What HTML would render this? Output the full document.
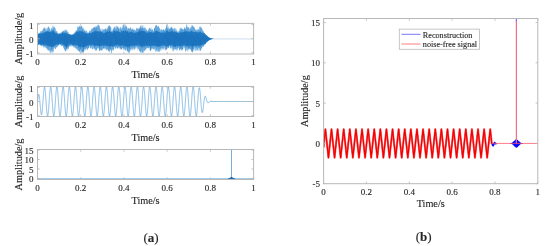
<!DOCTYPE html>
<html><head><meta charset="utf-8"><title>figure</title>
<style>
html,body{margin:0;padding:0;background:#fff;}
body{width:550px;height:246px;overflow:hidden;}
svg{display:block;filter:blur(0.3px);}
text{font-family:'Liberation Serif', 'Times New Roman', serif;fill:#262626;stroke:#262626;stroke-width:0.12px;}
</style></head>
<body>
<svg width="550" height="246" viewBox="0 0 550 246">
<rect width="550" height="246" fill="#fff"/>
<polygon points="37.5,33.5 37.9,32.9 38.3,32.8 38.7,33.7 39.1,33.4 39.5,32.0 39.9,34.5 40.3,31.5 40.7,31.1 41.1,31.4 41.5,31.4 41.9,31.1 42.3,30.8 42.7,29.7 43.1,29.1 43.5,28.8 43.9,27.4 44.3,27.8 44.7,28.1 45.1,26.9 45.5,29.5 45.9,29.6 46.3,27.5 46.7,30.4 47.1,30.4 47.5,27.3 47.9,27.4 48.3,25.9 48.7,27.0 49.1,27.6 49.5,27.9 49.9,29.1 50.3,31.3 50.7,29.7 51.1,27.7 51.5,29.1 51.9,27.6 52.3,30.3 52.7,24.5 53.1,27.5 53.5,27.3 53.9,25.4 54.3,27.4 54.7,26.9 55.1,28.2 55.5,28.6 55.9,31.7 56.3,30.6 56.7,31.3 57.1,31.3 57.5,33.0 57.9,32.9 58.3,34.4 58.7,33.5 59.1,33.7 59.5,34.3 59.9,33.0 60.3,33.8 60.7,32.6 61.1,32.7 61.5,32.2 61.9,31.6 62.3,31.0 62.7,32.2 63.1,30.6 63.5,31.2 63.9,30.5 64.3,31.8 64.7,28.9 65.1,31.0 65.5,29.4 65.9,30.5 66.3,29.2 66.7,30.3 67.1,32.5 67.5,31.1 67.9,31.6 68.3,32.2 68.7,33.4 69.1,34.6 69.5,34.6 69.9,33.6 70.3,34.3 70.7,35.1 71.1,34.2 71.5,34.7 71.9,34.5 72.3,34.6 72.7,34.3 73.1,34.4 73.5,34.9 73.9,32.7 74.3,33.1 74.7,32.2 75.1,32.0 75.5,30.1 75.9,32.3 76.3,29.7 76.7,31.2 77.1,29.7 77.5,26.1 77.9,26.7 78.3,27.4 78.7,26.7 79.1,25.2 79.5,27.0 79.9,25.7 80.3,25.5 80.7,27.1 81.1,26.5 81.5,25.8 81.9,25.5 82.3,28.9 82.7,25.9 83.1,31.2 83.5,27.4 83.9,27.8 84.3,30.8 84.7,29.9 85.1,29.3 85.5,32.9 85.9,30.5 86.3,30.4 86.7,31.3 87.1,31.2 87.5,32.7 87.9,33.1 88.3,32.5 88.7,32.8 89.1,32.0 89.5,30.3 89.9,30.8 90.3,31.2 90.7,31.2 91.1,28.9 91.5,29.9 91.9,28.0 92.3,28.9 92.7,28.5 93.1,27.1 93.5,27.4 93.9,27.7 94.3,28.1 94.7,26.3 95.1,27.8 95.5,25.8 95.9,29.5 96.3,27.0 96.7,26.3 97.1,24.5 97.5,27.2 97.9,24.4 98.3,24.6 98.7,25.1 99.1,26.0 99.5,25.5 99.9,28.3 100.3,28.6 100.7,30.0 101.1,31.5 101.5,30.4 101.9,28.2 102.3,28.5 102.7,31.2 103.1,29.3 103.5,29.8 103.9,29.4 104.3,29.1 104.7,30.1 105.1,27.9 105.5,29.1 105.9,28.4 106.3,28.2 106.7,29.8 107.1,30.4 107.5,28.0 107.9,26.4 108.3,25.8 108.7,25.7 109.1,28.5 109.5,24.8 109.9,25.7 110.3,25.9 110.7,27.6 111.1,26.9 111.5,31.0 111.9,31.6 112.3,31.6 112.7,29.5 113.1,29.1 113.5,29.1 113.9,26.9 114.3,29.7 114.7,25.9 115.1,28.0 115.5,25.6 115.9,29.8 116.3,27.5 116.7,25.3 117.1,26.8 117.5,26.1 117.9,26.8 118.3,27.1 118.7,29.2 119.1,27.6 119.5,30.7 119.9,27.3 120.3,27.1 120.7,27.0 121.1,30.2 121.5,27.9 121.9,27.5 122.3,28.5 122.7,25.2 123.1,24.2 123.5,26.4 123.9,24.1 124.3,24.5 124.7,27.9 125.1,24.8 125.5,24.5 125.9,27.7 126.3,26.1 126.7,26.3 127.1,26.9 127.5,29.9 127.9,27.7 128.3,28.3 128.7,28.3 129.1,28.1 129.5,29.5 129.9,27.9 130.3,27.3 130.7,27.0 131.1,29.6 131.5,30.8 131.9,27.7 132.3,29.7 132.7,28.6 133.1,27.8 133.5,29.7 133.9,30.5 134.3,29.9 134.7,29.1 135.1,31.1 135.5,29.6 135.9,30.6 136.3,28.3 136.7,27.6 137.1,28.9 137.5,28.6 137.9,27.7 138.3,28.9 138.7,28.4 139.1,27.7 139.5,26.8 139.9,28.9 140.3,25.3 140.7,25.8 141.1,26.9 141.5,28.5 141.9,24.5 142.3,27.7 142.7,27.7 143.1,27.9 143.5,28.6 143.9,25.0 144.3,28.0 144.7,28.3 145.1,26.8 145.5,28.0 145.9,30.2 146.3,29.6 146.7,28.9 147.1,30.8 147.5,30.4 147.9,32.3 148.3,29.5 148.7,28.8 149.1,28.1 149.5,27.9 149.9,28.4 150.3,29.9 150.7,27.5 151.1,27.2 151.5,29.8 151.9,29.9 152.3,29.3 152.7,29.2 153.1,29.4 153.5,31.5 153.9,30.7 154.3,27.9 154.7,27.8 155.1,27.0 155.5,25.5 155.9,25.1 156.3,25.1 156.7,25.1 157.1,26.5 157.5,25.5 157.9,28.1 158.3,25.9 158.7,26.3 159.1,26.8 159.5,28.2 159.9,28.8 160.3,28.9 160.7,31.4 161.1,28.2 161.5,29.4 161.9,30.1 162.3,29.9 162.7,29.7 163.1,30.7 163.5,29.3 163.9,28.8 164.3,30.1 164.7,31.1 165.1,28.6 165.5,27.8 165.9,29.9 166.3,26.4 166.7,24.8 167.1,23.8 167.5,28.1 167.9,28.8 168.3,25.2 168.7,29.3 169.1,29.3 169.5,27.9 169.9,28.6 170.3,27.3 170.7,29.3 171.1,26.2 171.5,28.6 171.9,26.0 172.3,29.3 172.7,26.9 173.1,30.1 173.5,28.3 173.9,28.6 174.3,27.5 174.7,28.8 175.1,31.2 175.5,28.0 175.9,28.5 176.3,28.8 176.7,31.0 177.1,30.7 177.5,31.6 177.9,32.3 178.3,32.8 178.7,30.1 179.1,31.2 179.5,30.4 179.9,27.3 180.3,28.0 180.7,28.9 181.1,26.9 181.5,28.9 181.9,28.1 182.3,29.5 182.7,28.9 183.1,29.0 183.5,29.6 183.9,29.7 184.3,27.9 184.7,27.0 185.1,29.2 185.5,29.0 185.9,28.7 186.3,24.2 186.7,24.6 187.1,27.8 187.5,25.1 187.9,28.5 188.3,27.3 188.7,27.6 189.1,26.5 189.5,30.3 189.9,28.1 190.3,26.6 190.7,29.3 191.1,27.8 191.5,26.3 191.9,24.5 192.3,25.4 192.7,25.5 193.1,26.2 193.5,26.7 193.9,26.7 194.3,27.6 194.7,27.8 195.1,29.6 195.5,30.5 195.9,28.7 196.3,31.0 196.7,28.9 197.1,30.0 197.5,30.3 197.9,28.1 198.3,30.4 198.7,28.5 199.1,30.2 199.5,26.3 199.9,27.1 200.3,25.9 200.7,28.1 201.1,26.8 201.5,27.8 201.9,28.7 202.3,28.7 202.7,30.7 203.1,31.4 203.5,31.3 203.9,31.5 204.3,33.1 204.7,32.9 205.1,34.3 205.5,34.0 205.9,34.2 206.3,35.8 206.7,35.1 207.1,36.6 207.5,35.7 207.9,36.5 208.3,36.9 208.7,37.1 209.1,37.5 209.5,37.6 209.9,38.1 210.3,38.0 210.7,38.2 211.1,38.4 211.5,38.6 211.9,38.6 212.3,38.6 212.7,38.7 213.1,38.8 213.5,38.8 213.9,38.9 214.3,38.9 214.7,38.9 215.1,38.9 215.5,38.9 215.9,38.9 216.3,38.9 216.7,38.9 217.1,38.9 217.5,38.9 217.9,38.9 218.3,38.9 218.7,38.9 219.1,38.9 219.5,38.9 219.9,38.9 220.3,38.9 220.7,38.9 221.1,38.9 221.5,38.9 221.9,38.9 222.3,38.9 222.7,38.9 223.1,38.9 223.5,38.9 223.9,38.9 224.3,38.9 224.7,38.9 225.1,38.9 225.5,38.9 225.9,38.9 226.3,38.9 226.7,38.9 227.1,38.9 227.5,38.9 227.9,38.9 228.3,38.9 228.7,38.9 229.1,38.9 229.5,38.9 229.9,38.9 230.3,38.9 230.7,38.9 231.1,38.9 231.5,38.9 231.9,38.9 232.3,38.9 232.7,38.9 233.1,38.9 233.5,38.9 233.9,38.9 234.3,38.9 234.7,38.9 235.1,38.9 235.5,38.9 235.9,38.9 236.3,38.9 236.7,38.9 237.1,38.9 237.5,38.9 237.9,38.9 238.3,38.9 238.7,38.9 239.1,38.9 239.5,38.9 239.9,38.9 240.3,38.9 240.7,38.9 241.1,38.9 241.5,38.9 241.9,38.9 242.3,38.9 242.7,38.9 243.1,38.9 243.5,38.9 243.9,38.9 244.3,38.9 244.7,38.9 245.1,38.9 245.5,38.9 245.9,38.9 246.3,38.9 246.7,38.9 247.1,38.9 247.5,38.9 247.9,38.9 248.3,38.9 248.7,38.9 249.1,38.9 249.5,38.9 249.9,38.9 250.3,38.9 250.7,38.9 251.1,38.9 251.5,38.9 251.9,38.9 252.3,38.9 252.7,38.9 253.1,38.9 253.5,38.9 253.5,38.9 253.1,38.9 252.7,38.9 252.3,38.9 251.9,38.9 251.5,38.9 251.1,38.9 250.7,38.9 250.3,38.9 249.9,38.9 249.5,38.9 249.1,38.9 248.7,38.9 248.3,38.9 247.9,38.9 247.5,38.9 247.1,38.9 246.7,38.9 246.3,38.9 245.9,38.9 245.5,38.9 245.1,38.9 244.7,38.9 244.3,38.9 243.9,38.9 243.5,38.9 243.1,38.9 242.7,38.9 242.3,38.9 241.9,38.9 241.5,38.9 241.1,38.9 240.7,38.9 240.3,38.9 239.9,38.9 239.5,38.9 239.1,38.9 238.7,38.9 238.3,38.9 237.9,38.9 237.5,38.9 237.1,38.9 236.7,38.9 236.3,38.9 235.9,38.9 235.5,38.9 235.1,38.9 234.7,38.9 234.3,38.9 233.9,38.9 233.5,38.9 233.1,38.9 232.7,38.9 232.3,38.9 231.9,38.9 231.5,38.9 231.1,38.9 230.7,38.9 230.3,38.9 229.9,38.9 229.5,38.9 229.1,38.9 228.7,38.9 228.3,38.9 227.9,38.9 227.5,38.9 227.1,38.9 226.7,38.9 226.3,38.9 225.9,38.9 225.5,38.9 225.1,38.9 224.7,38.9 224.3,38.9 223.9,38.9 223.5,38.9 223.1,38.9 222.7,38.9 222.3,38.9 221.9,38.9 221.5,38.9 221.1,38.9 220.7,38.9 220.3,38.9 219.9,38.9 219.5,38.9 219.1,38.9 218.7,38.9 218.3,38.9 217.9,38.9 217.5,38.9 217.1,38.9 216.7,38.9 216.3,38.9 215.9,38.9 215.5,38.9 215.1,38.9 214.7,38.9 214.3,38.9 213.9,38.9 213.5,39.0 213.1,39.0 212.7,39.1 212.3,39.1 211.9,39.2 211.5,39.3 211.1,39.4 210.7,39.5 210.3,39.7 209.9,40.1 209.5,40.2 209.1,40.1 208.7,40.7 208.3,40.8 207.9,41.3 207.5,41.5 207.1,42.0 206.7,41.5 206.3,42.5 205.9,42.4 205.5,44.2 205.1,44.3 204.7,43.6 204.3,45.6 203.9,47.0 203.5,46.5 203.1,46.0 202.7,48.1 202.3,45.5 201.9,49.5 201.5,47.8 201.1,49.8 200.7,50.8 200.3,50.7 199.9,51.2 199.5,49.6 199.1,48.1 198.7,47.8 198.3,50.9 197.9,50.7 197.5,49.0 197.1,50.9 196.7,50.7 196.3,47.8 195.9,50.6 195.5,51.7 195.1,47.3 194.7,47.7 194.3,49.9 193.9,51.6 193.5,49.5 193.1,49.9 192.7,52.4 192.3,52.6 191.9,51.6 191.5,52.1 191.1,49.4 190.7,50.3 190.3,46.8 189.9,49.8 189.5,48.7 189.1,48.7 188.7,50.4 188.3,48.5 187.9,51.4 187.5,51.3 187.1,47.6 186.7,49.1 186.3,50.8 185.9,51.6 185.5,51.3 185.1,50.5 184.7,47.7 184.3,46.9 183.9,49.8 183.5,45.8 183.1,48.8 182.7,49.5 182.3,50.3 181.9,50.9 181.5,50.1 181.1,49.1 180.7,48.2 180.3,50.5 179.9,50.1 179.5,50.3 179.1,50.5 178.7,47.3 178.3,48.5 177.9,48.6 177.5,50.9 177.1,48.4 176.7,48.4 176.3,51.6 175.9,49.4 175.5,48.6 175.1,50.6 174.7,48.4 174.3,50.5 173.9,48.7 173.5,51.1 173.1,51.6 172.7,51.3 172.3,48.5 171.9,46.2 171.5,49.6 171.1,47.5 170.7,48.2 170.3,49.3 169.9,45.6 169.5,46.1 169.1,47.9 168.7,47.7 168.3,47.3 167.9,50.1 167.5,47.5 167.1,47.2 166.7,50.0 166.3,49.6 165.9,50.7 165.5,49.9 165.1,49.3 164.7,46.5 164.3,49.7 163.9,49.9 163.5,49.1 163.1,48.1 162.7,50.5 162.3,48.0 161.9,48.5 161.5,48.3 161.1,51.5 160.7,48.1 160.3,51.5 159.9,49.3 159.5,51.9 159.1,52.3 158.7,51.5 158.3,50.8 157.9,52.2 157.5,51.3 157.1,48.4 156.7,51.9 156.3,50.2 155.9,51.9 155.5,51.4 155.1,48.3 154.7,48.6 154.3,50.3 153.9,48.9 153.5,48.8 153.1,49.9 152.7,48.5 152.3,48.5 151.9,48.5 151.5,48.6 151.1,51.0 150.7,50.8 150.3,50.5 149.9,50.7 149.5,47.2 149.1,47.5 148.7,48.5 148.3,48.0 147.9,47.8 147.5,47.8 147.1,48.9 146.7,48.1 146.3,48.5 145.9,50.4 145.5,48.9 145.1,51.1 144.7,51.5 144.3,50.2 143.9,49.6 143.5,52.6 143.1,52.9 142.7,53.2 142.3,51.8 141.9,53.3 141.5,49.9 141.1,53.4 140.7,52.2 140.3,52.2 139.9,51.4 139.5,50.7 139.1,50.7 138.7,47.7 138.3,50.1 137.9,50.6 137.5,46.4 137.1,49.8 136.7,47.9 136.3,46.7 135.9,46.9 135.5,49.9 135.1,47.2 134.7,49.5 134.3,50.4 133.9,47.4 133.5,49.1 133.1,50.0 132.7,47.8 132.3,50.8 131.9,50.0 131.5,49.5 131.1,48.2 130.7,49.3 130.3,51.6 129.9,50.3 129.5,53.1 129.1,53.4 128.7,51.9 128.3,53.1 127.9,51.5 127.5,50.5 127.1,52.5 126.7,50.6 126.3,48.1 125.9,50.0 125.5,51.1 125.1,50.0 124.7,50.3 124.3,48.4 123.9,48.8 123.5,47.4 123.1,48.9 122.7,47.9 122.3,48.0 121.9,49.5 121.5,49.9 121.1,49.1 120.7,47.6 120.3,50.1 119.9,46.0 119.5,49.4 119.1,47.7 118.7,49.1 118.3,46.5 117.9,48.6 117.5,49.0 117.1,47.4 116.7,46.5 116.3,47.9 115.9,48.9 115.5,48.4 115.1,48.4 114.7,47.3 114.3,47.1 113.9,51.1 113.5,50.2 113.1,49.3 112.7,50.6 112.3,48.8 111.9,53.8 111.5,53.4 111.1,50.1 110.7,50.4 110.3,49.1 109.9,52.8 109.5,52.3 109.1,48.7 108.7,51.0 108.3,51.2 107.9,50.5 107.5,49.6 107.1,49.0 106.7,49.4 106.3,50.4 105.9,49.6 105.5,47.6 105.1,50.0 104.7,49.2 104.3,47.3 103.9,48.5 103.5,48.9 103.1,47.7 102.7,49.4 102.3,50.4 101.9,50.0 101.5,50.8 101.1,50.5 100.7,49.5 100.3,50.7 99.9,50.4 99.5,51.4 99.1,50.2 98.7,47.6 98.3,48.1 97.9,49.4 97.5,47.2 97.1,49.2 96.7,51.5 96.3,50.0 95.9,50.1 95.5,51.4 95.1,49.0 94.7,47.5 94.3,50.3 93.9,48.7 93.5,49.0 93.1,45.7 92.7,49.5 92.3,49.4 91.9,48.5 91.5,46.2 91.1,48.9 90.7,47.9 90.3,48.9 89.9,46.3 89.5,45.9 89.1,48.1 88.7,48.6 88.3,47.8 87.9,50.2 87.5,50.1 87.1,48.4 86.7,49.8 86.3,47.8 85.9,48.9 85.5,49.8 85.1,49.8 84.7,48.9 84.3,50.8 83.9,50.9 83.5,52.0 83.1,54.0 82.7,52.7 82.3,51.6 81.9,53.6 81.5,50.8 81.1,53.1 80.7,53.8 80.3,48.5 79.9,51.3 79.5,52.2 79.1,51.9 78.7,50.2 78.3,51.1 77.9,50.4 77.5,50.3 77.1,48.3 76.7,49.9 76.3,48.4 75.9,48.7 75.5,47.4 75.1,48.0 74.7,48.1 74.3,46.4 73.9,45.4 73.5,47.7 73.1,46.9 72.7,44.7 72.3,46.6 71.9,45.1 71.5,47.0 71.1,45.0 70.7,46.5 70.3,45.3 69.9,47.1 69.5,46.1 69.1,46.4 68.7,48.5 68.3,49.5 67.9,47.6 67.5,48.7 67.1,51.4 66.7,47.2 66.3,50.4 65.9,51.7 65.5,50.9 65.1,51.3 64.7,48.9 64.3,50.6 63.9,48.7 63.5,47.7 63.1,46.7 62.7,46.0 62.3,45.2 61.9,45.9 61.5,46.4 61.1,46.0 60.7,44.7 60.3,45.0 59.9,45.3 59.5,43.4 59.1,45.3 58.7,45.0 58.3,45.8 57.9,46.7 57.5,46.2 57.1,46.9 56.7,47.3 56.3,47.5 55.9,48.8 55.5,49.1 55.1,49.3 54.7,46.3 54.3,48.7 53.9,48.0 53.5,51.8 53.1,52.6 52.7,50.1 52.3,53.3 51.9,52.6 51.5,52.7 51.1,48.8 50.7,52.3 50.3,52.9 49.9,52.8 49.5,49.3 49.1,52.0 48.7,50.3 48.3,50.0 47.9,50.5 47.5,48.4 47.1,50.6 46.7,48.5 46.3,47.7 45.9,48.8 45.5,46.0 45.1,48.4 44.7,46.9 44.3,46.8 43.9,45.4 43.5,48.6 43.1,46.6 42.7,45.9 42.3,45.6 41.9,45.3 41.5,46.7 41.1,46.0 40.7,44.8 40.3,45.7 39.9,45.3 39.5,44.6 39.1,44.7 38.7,45.2 38.3,45.0 37.9,44.6 37.5,44.4" fill="#62a6dc"/>
<polygon points="37.5,33.9 37.9,33.7 38.3,34.0 38.7,34.0 39.1,34.1 39.5,33.3 39.9,33.1 40.3,34.1 40.7,33.0 41.1,33.6 41.5,33.5 41.9,33.3 42.3,32.6 42.7,32.9 43.1,32.8 43.5,32.9 43.9,32.5 44.3,31.8 44.7,32.8 45.1,32.1 45.5,31.8 45.9,32.6 46.3,32.2 46.7,31.2 47.1,31.0 47.5,31.1 47.9,32.1 48.3,31.2 48.7,31.8 49.1,32.3 49.5,31.9 49.9,31.3 50.3,31.4 50.7,32.2 51.1,32.7 51.5,31.2 51.9,30.8 52.3,31.3 52.7,31.4 53.1,30.8 53.5,30.8 53.9,31.4 54.3,31.9 54.7,32.3 55.1,32.5 55.5,33.1 55.9,33.1 56.3,32.3 56.7,34.0 57.1,33.2 57.5,33.4 57.9,34.1 58.3,33.9 58.7,34.5 59.1,33.8 59.5,33.8 59.9,33.8 60.3,34.2 60.7,33.6 61.1,33.3 61.5,33.6 61.9,33.2 62.3,33.6 62.7,32.4 63.1,32.7 63.5,32.2 63.9,33.1 64.3,32.0 64.7,33.3 65.1,32.6 65.5,33.3 65.9,33.1 66.3,32.4 66.7,33.7 67.1,33.4 67.5,33.9 67.9,33.1 68.3,34.5 68.7,34.4 69.1,34.0 69.5,34.2 69.9,34.3 70.3,34.5 70.7,35.3 71.1,34.9 71.5,35.1 71.9,34.8 72.3,34.6 72.7,35.0 73.1,34.9 73.5,33.8 73.9,33.9 74.3,34.3 74.7,34.4 75.1,33.3 75.5,33.6 75.9,32.3 76.3,32.6 76.7,31.6 77.1,32.5 77.5,31.7 77.9,32.2 78.3,31.1 78.7,31.3 79.1,31.7 79.5,30.5 79.9,30.9 80.3,31.4 80.7,30.7 81.1,31.5 81.5,30.7 81.9,31.8 82.3,30.8 82.7,32.3 83.1,31.5 83.5,32.3 83.9,32.3 84.3,32.2 84.7,33.3 85.1,33.2 85.5,33.5 85.9,32.7 86.3,33.6 86.7,33.3 87.1,33.7 87.5,33.9 87.9,33.0 88.3,33.6 88.7,33.2 89.1,33.0 89.5,32.7 89.9,33.5 90.3,33.6 90.7,32.9 91.1,33.2 91.5,33.3 91.9,31.8 92.3,32.1 92.7,32.3 93.1,32.6 93.5,31.6 93.9,31.8 94.3,32.3 94.7,31.0 95.1,31.0 95.5,30.9 95.9,31.0 96.3,31.3 96.7,31.6 97.1,30.9 97.5,31.6 97.9,30.8 98.3,31.5 98.7,31.8 99.1,31.0 99.5,31.8 99.9,31.5 100.3,31.6 100.7,31.7 101.1,32.2 101.5,31.9 101.9,32.2 102.3,31.8 102.7,31.9 103.1,33.3 103.5,32.9 103.9,32.8 104.3,32.9 104.7,32.9 105.1,31.8 105.5,33.0 105.9,32.7 106.3,31.8 106.7,32.5 107.1,32.3 107.5,31.1 107.9,31.2 108.3,31.6 108.7,31.9 109.1,31.5 109.5,30.5 109.9,31.0 110.3,32.2 110.7,31.5 111.1,32.2 111.5,31.8 111.9,32.7 112.3,32.8 112.7,32.8 113.1,32.2 113.5,31.2 113.9,31.0 114.3,31.1 114.7,30.8 115.1,31.6 115.5,31.4 115.9,30.7 116.3,30.6 116.7,31.5 117.1,31.1 117.5,30.9 117.9,30.9 118.3,32.0 118.7,31.5 119.1,32.0 119.5,32.0 119.9,32.1 120.3,32.4 120.7,32.7 121.1,31.4 121.5,31.3 121.9,30.8 122.3,31.7 122.7,31.4 123.1,30.7 123.5,30.2 123.9,31.0 124.3,31.4 124.7,30.8 125.1,30.3 125.5,30.5 125.9,30.5 126.3,31.4 126.7,31.8 127.1,31.1 127.5,31.4 127.9,31.5 128.3,32.4 128.7,32.7 129.1,32.7 129.5,31.7 129.9,31.5 130.3,32.3 130.7,31.4 131.1,32.1 131.5,32.0 131.9,31.9 132.3,32.5 132.7,32.6 133.1,32.7 133.5,32.8 133.9,32.5 134.3,33.2 134.7,32.1 135.1,32.9 135.5,32.5 135.9,32.1 136.3,32.8 136.7,32.3 137.1,32.0 137.5,31.9 137.9,31.2 138.3,31.3 138.7,32.2 139.1,31.0 139.5,31.3 139.9,31.0 140.3,31.7 140.7,31.2 141.1,30.8 141.5,30.5 141.9,30.5 142.3,31.3 142.7,30.4 143.1,30.9 143.5,30.8 143.9,30.7 144.3,31.6 144.7,31.0 145.1,31.3 145.5,31.6 145.9,32.4 146.3,32.4 146.7,33.2 147.1,32.5 147.5,32.5 147.9,33.5 148.3,32.4 148.7,32.2 149.1,33.0 149.5,31.5 149.9,31.9 150.3,32.0 150.7,32.4 151.1,31.5 151.5,32.3 151.9,32.3 152.3,32.9 152.7,32.5 153.1,33.0 153.5,32.2 153.9,32.2 154.3,31.9 154.7,32.4 155.1,32.5 155.5,31.0 155.9,30.7 156.3,31.0 156.7,30.5 157.1,30.8 157.5,31.0 157.9,31.4 158.3,31.7 158.7,31.6 159.1,32.2 159.5,32.0 159.9,32.0 160.3,32.9 160.7,32.4 161.1,32.7 161.5,32.3 161.9,32.1 162.3,32.6 162.7,32.6 163.1,32.7 163.5,33.1 163.9,32.9 164.3,32.1 164.7,31.9 165.1,32.9 165.5,33.1 165.9,31.3 166.3,31.0 166.7,31.0 167.1,30.4 167.5,30.9 167.9,30.6 168.3,31.8 168.7,31.7 169.1,31.5 169.5,32.4 169.9,31.7 170.3,32.3 170.7,31.5 171.1,31.3 171.5,31.7 171.9,30.7 172.3,31.2 172.7,31.0 173.1,32.3 173.5,32.3 173.9,31.5 174.3,31.3 174.7,32.0 175.1,31.7 175.5,33.1 175.9,31.9 176.3,32.1 176.7,32.6 177.1,33.0 177.5,32.7 177.9,33.5 178.3,32.7 178.7,32.5 179.1,32.5 179.5,32.7 179.9,32.8 180.3,32.3 180.7,31.1 181.1,32.1 181.5,32.5 181.9,32.4 182.3,32.1 182.7,32.2 183.1,31.9 183.5,32.1 183.9,31.7 184.3,31.6 184.7,32.1 185.1,32.3 185.5,30.8 185.9,31.7 186.3,30.9 186.7,31.5 187.1,30.8 187.5,31.8 187.9,31.6 188.3,32.0 188.7,31.2 189.1,31.7 189.5,31.5 189.9,31.9 190.3,32.0 190.7,30.8 191.1,30.9 191.5,30.8 191.9,30.3 192.3,31.1 192.7,31.9 193.1,31.4 193.5,32.0 193.9,31.8 194.3,32.0 194.7,32.0 195.1,31.6 195.5,31.9 195.9,32.6 196.3,32.1 196.7,32.1 197.1,32.4 197.5,32.5 197.9,31.8 198.3,32.3 198.7,32.7 199.1,32.3 199.5,31.6 199.9,31.8 200.3,31.6 200.7,31.7 201.1,32.3 201.5,32.7 201.9,33.1 202.3,32.4 202.7,33.2 203.1,33.3 203.5,32.7 203.9,33.4 204.3,33.3 204.7,33.6 205.1,33.9 205.5,35.0 205.9,34.7 206.3,35.1 206.7,35.5 207.1,35.8 207.5,36.2 207.9,36.6 208.3,36.9 208.7,37.3 209.1,37.6 209.5,37.7 209.9,37.9 210.3,38.1 210.7,38.3 211.1,38.4 211.5,38.5 211.9,38.6 212.3,38.7 212.7,38.7 213.1,38.8 213.5,38.8 213.9,38.9 214.3,38.9 214.7,38.9 215.1,38.9 215.5,38.9 215.9,38.9 216.3,38.9 216.7,38.9 217.1,38.9 217.5,38.9 217.9,38.9 218.3,38.9 218.7,38.9 219.1,38.9 219.5,38.9 219.9,38.9 220.3,38.9 220.7,38.9 221.1,38.9 221.5,38.9 221.9,38.9 222.3,38.9 222.7,38.9 223.1,38.9 223.5,38.9 223.9,38.9 224.3,38.9 224.7,38.9 225.1,38.9 225.5,38.9 225.9,38.9 226.3,38.9 226.7,38.9 227.1,38.9 227.5,38.9 227.9,38.9 228.3,38.9 228.7,38.9 229.1,38.9 229.5,38.9 229.9,38.9 230.3,38.9 230.7,38.9 231.1,38.9 231.5,38.9 231.9,38.9 232.3,38.9 232.7,38.9 233.1,38.9 233.5,38.9 233.9,38.9 234.3,38.9 234.7,38.9 235.1,38.9 235.5,38.9 235.9,38.9 236.3,38.9 236.7,38.9 237.1,38.9 237.5,38.9 237.9,38.9 238.3,38.9 238.7,38.9 239.1,38.9 239.5,38.9 239.9,38.9 240.3,38.9 240.7,38.9 241.1,38.9 241.5,38.9 241.9,38.9 242.3,38.9 242.7,38.9 243.1,38.9 243.5,38.9 243.9,38.9 244.3,38.9 244.7,38.9 245.1,38.9 245.5,38.9 245.9,38.9 246.3,38.9 246.7,38.9 247.1,38.9 247.5,38.9 247.9,38.9 248.3,38.9 248.7,38.9 249.1,38.9 249.5,38.9 249.9,38.9 250.3,38.9 250.7,38.9 251.1,38.9 251.5,38.9 251.9,38.9 252.3,38.9 252.7,38.9 253.1,38.9 253.5,38.9 253.5,38.9 253.1,38.9 252.7,38.9 252.3,38.9 251.9,38.9 251.5,38.9 251.1,38.9 250.7,38.9 250.3,38.9 249.9,38.9 249.5,38.9 249.1,38.9 248.7,38.9 248.3,38.9 247.9,38.9 247.5,38.9 247.1,38.9 246.7,38.9 246.3,38.9 245.9,38.9 245.5,38.9 245.1,38.9 244.7,38.9 244.3,38.9 243.9,38.9 243.5,38.9 243.1,38.9 242.7,38.9 242.3,38.9 241.9,38.9 241.5,38.9 241.1,38.9 240.7,38.9 240.3,38.9 239.9,38.9 239.5,38.9 239.1,38.9 238.7,38.9 238.3,38.9 237.9,38.9 237.5,38.9 237.1,38.9 236.7,38.9 236.3,38.9 235.9,38.9 235.5,38.9 235.1,38.9 234.7,38.9 234.3,38.9 233.9,38.9 233.5,38.9 233.1,38.9 232.7,38.9 232.3,38.9 231.9,38.9 231.5,38.9 231.1,38.9 230.7,38.9 230.3,38.9 229.9,38.9 229.5,38.9 229.1,38.9 228.7,38.9 228.3,38.9 227.9,38.9 227.5,38.9 227.1,38.9 226.7,38.9 226.3,38.9 225.9,38.9 225.5,38.9 225.1,38.9 224.7,38.9 224.3,38.9 223.9,38.9 223.5,38.9 223.1,38.9 222.7,38.9 222.3,38.9 221.9,38.9 221.5,38.9 221.1,38.9 220.7,38.9 220.3,38.9 219.9,38.9 219.5,38.9 219.1,38.9 218.7,38.9 218.3,38.9 217.9,38.9 217.5,38.9 217.1,38.9 216.7,38.9 216.3,38.9 215.9,38.9 215.5,38.9 215.1,38.9 214.7,38.9 214.3,38.9 213.9,38.9 213.5,39.0 213.1,39.0 212.7,39.1 212.3,39.1 211.9,39.2 211.5,39.3 211.1,39.4 210.7,39.5 210.3,39.7 209.9,39.9 209.5,40.1 209.1,40.2 208.7,40.5 208.3,40.8 207.9,41.2 207.5,41.5 207.1,41.8 206.7,42.3 206.3,42.8 205.9,43.2 205.5,43.7 205.1,43.9 204.7,44.5 204.3,44.0 203.9,44.9 203.5,43.9 203.1,44.7 202.7,45.2 202.3,44.6 201.9,44.7 201.5,45.5 201.1,45.1 200.7,45.3 200.3,46.2 199.9,46.4 199.5,46.1 199.1,45.4 198.7,45.8 198.3,46.4 197.9,45.3 197.5,45.0 197.1,47.0 196.7,46.3 196.3,46.6 195.9,46.8 195.5,45.7 195.1,46.1 194.7,45.6 194.3,45.3 193.9,46.1 193.5,46.4 193.1,45.7 192.7,46.2 192.3,47.1 191.9,46.3 191.5,46.2 191.1,46.5 190.7,45.4 190.3,45.8 189.9,46.0 189.5,45.7 189.1,46.0 188.7,45.6 188.3,46.1 187.9,46.2 187.5,45.9 187.1,46.7 186.7,45.7 186.3,45.7 185.9,45.5 185.5,46.7 185.1,45.4 184.7,45.0 184.3,45.3 183.9,46.1 183.5,45.6 183.1,45.0 182.7,45.6 182.3,46.2 181.9,46.2 181.5,46.3 181.1,45.6 180.7,46.4 180.3,45.8 179.9,46.7 179.5,45.8 179.1,45.9 178.7,46.3 178.3,45.6 177.9,45.6 177.5,45.3 177.1,46.5 176.7,45.6 176.3,46.1 175.9,46.8 175.5,46.8 175.1,46.5 174.7,47.1 174.3,47.2 173.9,45.8 173.5,46.9 173.1,46.4 172.7,46.3 172.3,45.2 171.9,45.4 171.5,45.7 171.1,45.0 170.7,45.2 170.3,46.0 169.9,44.8 169.5,45.4 169.1,46.1 168.7,45.7 168.3,45.4 167.9,45.2 167.5,46.0 167.1,46.8 166.7,46.3 166.3,46.4 165.9,46.7 165.5,46.1 165.1,45.7 164.7,45.9 164.3,45.2 163.9,44.7 163.5,45.8 163.1,46.1 162.7,45.4 162.3,46.1 161.9,45.6 161.5,45.3 161.1,46.4 160.7,46.1 160.3,46.2 159.9,45.8 159.5,46.5 159.1,46.2 158.7,46.6 158.3,47.1 157.9,46.6 157.5,46.6 157.1,46.5 156.7,46.5 156.3,46.3 155.9,46.3 155.5,46.9 155.1,45.6 154.7,46.6 154.3,45.6 153.9,45.3 153.5,46.0 153.1,45.8 152.7,46.4 152.3,45.6 151.9,45.7 151.5,45.5 151.1,46.1 150.7,45.4 150.3,46.2 149.9,46.1 149.5,46.5 149.1,45.9 148.7,45.3 148.3,46.0 147.9,44.8 147.5,45.8 147.1,45.9 146.7,45.7 146.3,46.0 145.9,45.2 145.5,46.4 145.1,45.8 144.7,46.2 144.3,46.2 143.9,45.5 143.5,46.1 143.1,46.6 142.7,47.1 142.3,47.2 141.9,46.9 141.5,46.1 141.1,46.5 140.7,46.7 140.3,46.2 139.9,46.1 139.5,45.6 139.1,46.8 138.7,45.6 138.3,45.6 137.9,45.9 137.5,45.8 137.1,44.9 136.7,46.0 136.3,44.8 135.9,45.5 135.5,44.9 135.1,45.5 134.7,44.8 134.3,46.2 133.9,46.2 133.5,45.0 133.1,46.2 132.7,45.7 132.3,46.1 131.9,45.2 131.5,45.9 131.1,46.6 130.7,45.9 130.3,46.1 129.9,46.0 129.5,46.6 129.1,47.5 128.7,46.3 128.3,47.6 127.9,47.1 127.5,47.0 127.1,46.7 126.7,46.9 126.3,45.8 125.9,46.6 125.5,47.0 125.1,45.5 124.7,46.2 124.3,45.9 123.9,45.7 123.5,46.0 123.1,45.2 122.7,45.1 122.3,46.3 121.9,45.6 121.5,45.8 121.1,45.9 120.7,46.3 120.3,44.9 119.9,46.0 119.5,44.9 119.1,45.4 118.7,45.7 118.3,45.0 117.9,44.5 117.5,44.7 117.1,44.9 116.7,45.1 116.3,45.4 115.9,45.4 115.5,45.4 115.1,45.6 114.7,46.1 114.3,46.2 113.9,46.6 113.5,46.1 113.1,45.9 112.7,47.0 112.3,46.7 111.9,46.3 111.5,46.1 111.1,46.6 110.7,46.1 110.3,46.4 109.9,46.8 109.5,46.3 109.1,46.6 108.7,46.8 108.3,45.6 107.9,46.5 107.5,45.8 107.1,45.8 106.7,46.2 106.3,46.6 105.9,45.6 105.5,45.6 105.1,44.9 104.7,45.6 104.3,46.0 103.9,46.0 103.5,45.4 103.1,45.5 102.7,45.0 102.3,46.2 101.9,45.5 101.5,46.6 101.1,45.6 100.7,46.4 100.3,46.6 99.9,45.3 99.5,46.4 99.1,46.2 98.7,45.4 98.3,45.6 97.9,45.2 97.5,46.5 97.1,45.7 96.7,45.7 96.3,45.3 95.9,46.3 95.5,46.2 95.1,45.6 94.7,45.9 94.3,46.0 93.9,45.3 93.5,45.1 93.1,45.6 92.7,44.9 92.3,44.6 91.9,45.4 91.5,45.7 91.1,45.0 90.7,44.9 90.3,45.7 89.9,44.7 89.5,45.0 89.1,44.5 88.7,45.2 88.3,45.0 87.9,44.9 87.5,45.9 87.1,45.5 86.7,46.4 86.3,46.0 85.9,45.6 85.5,46.9 85.1,47.2 84.7,47.2 84.3,47.3 83.9,47.1 83.5,47.0 83.1,47.2 82.7,47.2 82.3,47.4 81.9,47.4 81.5,46.8 81.1,46.8 80.7,46.9 80.3,46.2 79.9,46.3 79.5,47.3 79.1,47.1 78.7,46.4 78.3,45.7 77.9,45.3 77.5,45.8 77.1,45.0 76.7,45.7 76.3,45.3 75.9,45.1 75.5,45.6 75.1,45.3 74.7,44.8 74.3,45.4 73.9,44.5 73.5,45.4 73.1,44.9 72.7,45.0 72.3,44.5 71.9,44.6 71.5,43.9 71.1,44.0 70.7,44.0 70.3,44.0 69.9,44.3 69.5,44.5 69.1,44.9 68.7,44.5 68.3,46.1 67.9,45.8 67.5,45.4 67.1,45.4 66.7,46.8 66.3,47.0 65.9,46.8 65.5,46.6 65.1,45.9 64.7,45.8 64.3,45.9 63.9,44.8 63.5,44.7 63.1,45.6 62.7,45.1 62.3,44.3 61.9,43.8 61.5,43.6 61.1,44.1 60.7,44.4 60.3,43.5 59.9,44.2 59.5,44.4 59.1,43.4 58.7,44.2 58.3,44.9 57.9,44.8 57.5,44.2 57.1,45.1 56.7,44.4 56.3,44.4 55.9,45.4 55.5,45.1 55.1,45.6 54.7,45.5 54.3,45.8 53.9,46.2 53.5,46.7 53.1,46.5 52.7,47.3 52.3,46.8 51.9,46.6 51.5,46.5 51.1,46.9 50.7,46.9 50.3,46.1 49.9,46.1 49.5,46.5 49.1,46.9 48.7,45.5 48.3,46.4 47.9,45.6 47.5,45.5 47.1,45.5 46.7,46.0 46.3,45.0 45.9,46.2 45.5,44.7 45.1,44.7 44.7,44.6 44.3,45.9 43.9,45.6 43.5,44.5 43.1,44.8 42.7,44.4 42.3,44.4 41.9,44.4 41.5,44.4 41.1,44.9 40.7,44.2 40.3,44.9 39.9,44.1 39.5,43.9 39.1,44.6 38.7,44.2 38.3,44.2 37.9,43.0 37.5,43.8" fill="#1f78c2"/>
<polyline points="37.5,33.5 37.6,40.9 37.8,36.5 37.9,37.5 38.1,38.0 38.2,37.8 38.4,39.0 38.5,35.0 38.7,37.4 38.8,38.0 39.0,35.7 39.1,36.6 39.3,37.7 39.4,38.0 39.6,34.2 39.7,37.5 39.9,39.1 40.0,41.3 40.2,39.9 40.3,41.9 40.5,38.6 40.6,38.1 40.8,45.1 40.9,38.8 41.1,36.8 41.2,38.3 41.4,41.9 41.5,34.5 41.7,41.1 41.8,42.9 42.0,42.5 42.1,38.9 42.3,35.1 42.4,34.4 42.6,38.1 42.7,43.1 42.9,41.2 43.0,42.1 43.2,39.5 43.3,45.3 43.5,38.4 43.6,36.2 43.8,39.5 43.9,36.9 44.1,42.5 44.2,44.5 44.4,41.4 44.5,33.8 44.7,34.3 44.8,40.7 45.0,33.5 45.1,40.2 45.3,32.1 45.4,36.7 45.6,40.8 45.7,35.2 45.9,42.2 46.0,42.9 46.2,45.2 46.3,37.7 46.5,39.1 46.6,39.2 46.8,40.7 46.9,32.0 47.1,40.8 47.2,42.2 47.4,32.8 47.5,31.9 47.7,37.2 47.8,47.2 48.0,41.8 48.1,35.9 48.3,38.8 48.4,31.3 48.6,45.7 48.7,35.6 48.9,42.1 49.0,32.6 49.2,39.3 49.3,34.0 49.5,42.3 49.6,46.3 49.8,44.7 49.9,42.1 50.1,44.3 50.2,33.4 50.4,32.8 50.5,37.7 50.7,44.5 50.8,39.5 51.0,42.7 51.1,32.3 51.3,37.4 51.4,36.6 51.6,41.1 51.7,50.2 51.9,43.3 52.0,45.2 52.2,37.0 52.3,38.4 52.5,43.3 52.6,41.0 52.8,30.1 52.9,44.0 53.1,43.7 53.2,40.1 53.4,42.4 53.5,41.0 53.7,36.1 53.8,29.9 54.0,47.2 54.1,39.0 54.3,38.7 54.4,39.3 54.6,39.7 54.7,40.3 54.9,34.4 55.0,40.8 55.2,39.4 55.3,38.9 55.5,38.5 55.6,39.6 55.8,35.0 55.9,38.9 56.1,38.3 56.2,39.1 56.4,42.4 56.5,41.8 56.7,42.5 56.8,38.3 57.0,41.2 57.1,42.3 57.3,38.2 57.4,37.5 57.6,44.2 57.7,34.7 57.9,38.8 58.0,39.2 58.2,36.3 58.3,38.7 58.5,40.6 58.6,33.6 58.8,41.9 58.9,39.2 59.1,36.9 59.2,41.8 59.4,39.2 59.5,38.0 59.7,33.3 59.8,41.2 60.0,39.0 60.1,37.4 60.3,38.7 60.4,41.8 60.6,38.0 60.7,38.6 60.9,37.8 61.0,36.0 61.2,36.3 61.3,37.8 61.5,38.0 61.6,42.2 61.8,39.3 61.9,38.2 62.1,40.2 62.2,38.6 62.4,41.7 62.5,33.8 62.7,31.6 62.8,40.3 63.0,37.5 63.1,39.8 63.3,34.3 63.4,37.3 63.6,38.6 63.7,39.8 63.9,38.4 64.0,43.2 64.2,36.4 64.3,42.1 64.5,36.9 64.6,38.4 64.8,34.8 64.9,39.0 65.1,35.0 65.2,43.3 65.4,36.6 65.5,40.0 65.7,38.1 65.8,38.6 66.0,35.3 66.1,49.0 66.3,37.7 66.4,46.5 66.6,34.6 66.7,49.0 66.9,44.0 67.0,47.2 67.2,33.7 67.3,45.0 67.5,38.6 67.6,41.3 67.8,46.9 67.9,40.4 68.1,37.1 68.2,39.7 68.4,36.6 68.5,40.3 68.7,38.9 68.8,40.4 69.0,38.1 69.1,34.8 69.3,38.1 69.4,38.5 69.6,40.9 69.7,41.3 69.9,35.9 70.0,42.2 70.2,41.6 70.3,39.2 70.5,40.2 70.6,35.2 70.8,46.2 70.9,38.2 71.1,37.6 71.2,42.4 71.4,40.9 71.5,38.2 71.7,36.0 71.8,41.9 72.0,44.0 72.1,37.1 72.3,36.0 72.4,40.0 72.6,46.2 72.7,35.9 72.9,39.6 73.0,36.5 73.2,39.0 73.3,40.2 73.5,40.4 73.6,35.5 73.8,35.5 73.9,46.3 74.1,42.2 74.2,34.5 74.4,40.2 74.5,43.8 74.7,38.9 74.8,39.3 75.0,39.3 75.1,40.7 75.3,40.1 75.4,40.7 75.6,37.7 75.7,42.1 75.9,40.1 76.0,39.5 76.2,33.6 76.3,37.3 76.5,39.4 76.6,36.5 76.8,37.1 76.9,33.9 77.1,36.5 77.2,30.4 77.4,32.5 77.5,39.1 77.7,40.8 77.8,34.6 78.0,36.3 78.1,39.4 78.3,46.1 78.4,47.9 78.6,37.1 78.7,34.9 78.9,34.7 79.0,45.5 79.2,33.4 79.3,41.7 79.5,36.8 79.6,36.6 79.8,43.3 79.9,42.2 80.1,50.4 80.2,44.0 80.4,49.0 80.5,36.6 80.7,38.6 80.8,34.1 81.0,37.0 81.1,42.5 81.3,37.1 81.4,41.1 81.6,35.8 81.7,37.3 81.9,44.7 82.0,38.9 82.2,38.6 82.3,40.7 82.5,34.4 82.6,30.4 82.8,41.1 82.9,41.0 83.1,52.0 83.2,39.6 83.4,41.4 83.5,51.2 83.7,37.6 83.8,36.3 84.0,43.0 84.1,41.0 84.3,44.2 84.4,35.8 84.6,47.1 84.7,40.6 84.9,31.4 85.0,38.7 85.2,37.2 85.3,39.7 85.5,44.9 85.6,39.1 85.8,37.5 85.9,44.0 86.1,37.7 86.2,34.7 86.4,35.4 86.5,46.4 86.7,43.5 86.8,46.4 87.0,35.6 87.1,37.0 87.3,36.8 87.4,42.8 87.6,44.0 87.7,38.7 87.9,38.6 88.0,42.5 88.2,38.5 88.3,37.0 88.5,38.2 88.6,43.1 88.8,47.4 88.9,39.9 89.1,38.4 89.2,39.9 89.4,40.5 89.5,41.5 89.7,36.5 89.8,39.1 90.0,38.5 90.1,42.6 90.3,41.3 90.4,38.3 90.6,42.8 90.7,43.8 90.9,40.2 91.0,34.4 91.2,38.2 91.3,33.3 91.5,39.4 91.6,40.1 91.8,44.4 91.9,41.2 92.1,32.9 92.2,37.5 92.4,35.8 92.5,35.8 92.7,38.9 92.8,39.7 93.0,38.4 93.1,35.9 93.3,36.8 93.4,36.7 93.6,38.2 93.7,42.3 93.9,40.0 94.0,43.1 94.2,34.2 94.3,48.4 94.5,39.9 94.6,27.4 94.8,40.5 94.9,44.2 95.1,39.0 95.2,32.5 95.4,39.7 95.5,35.8 95.7,38.4 95.8,40.7 96.0,26.6 96.1,38.5 96.3,41.5 96.4,41.2 96.6,36.9 96.7,36.7 96.9,34.7 97.0,38.1 97.2,45.7 97.3,36.0 97.5,40.3 97.6,40.2 97.8,45.8 97.9,41.6 98.1,42.3 98.2,39.1 98.4,45.6 98.5,38.6 98.7,38.2 98.8,44.1 99.0,41.8 99.1,42.9 99.3,34.2 99.4,50.2 99.6,40.5 99.7,46.8 99.9,41.0 100.0,34.9 100.2,41.9 100.3,38.3 100.5,43.0 100.6,30.5 100.8,35.0 100.9,34.2 101.1,45.3 101.2,44.2 101.4,34.5 101.5,39.8 101.7,40.1 101.8,37.5 102.0,44.7 102.1,35.8 102.3,38.8 102.4,37.0 102.6,41.9 102.7,36.9 102.9,42.0 103.0,35.1 103.2,34.4 103.3,35.3 103.5,36.9 103.6,36.4 103.8,48.7 103.9,35.6 104.1,40.0 104.2,38.5 104.4,40.1 104.5,44.8 104.7,41.2 104.8,36.2 105.0,33.1 105.1,41.6 105.3,42.8 105.4,32.8 105.6,42.8 105.7,30.0 105.9,38.7 106.0,42.9 106.2,34.6 106.3,31.5 106.5,45.5 106.6,32.0 106.8,40.2 106.9,32.1 107.1,40.7 107.2,46.4 107.4,36.5 107.5,34.5 107.7,28.7 107.8,30.4 108.0,35.4 108.1,40.1 108.3,41.5 108.4,40.4 108.6,43.1 108.7,40.3 108.9,51.1 109.0,37.9 109.2,39.0 109.3,25.8 109.5,34.8 109.6,41.4 109.8,35.9 109.9,45.4 110.1,42.1 110.2,48.9 110.4,31.8 110.5,36.0 110.7,45.3 110.8,39.2 111.0,34.5 111.1,36.6 111.3,37.2 111.4,43.7 111.6,42.5 111.7,38.5 111.9,35.0 112.0,43.6 112.2,45.2 112.3,34.0 112.5,44.0 112.6,34.1 112.8,37.8 112.9,34.9 113.1,30.8 113.2,35.7 113.4,35.2 113.5,43.3 113.7,42.2 113.8,35.7 114.0,31.1 114.1,31.8 114.3,26.9 114.4,37.3 114.6,37.8 114.7,33.5 114.9,38.8 115.0,39.2 115.2,43.1 115.3,33.6 115.5,43.2 115.6,36.2 115.8,44.5 115.9,33.1 116.1,43.0 116.2,34.5 116.4,45.1 116.5,40.6 116.7,32.8 116.8,42.0 117.0,38.6 117.1,40.7 117.3,47.7 117.4,37.4 117.6,36.7 117.7,43.1 117.9,36.1 118.0,42.0 118.2,42.8 118.3,38.9 118.5,41.6 118.6,27.9 118.8,45.1 118.9,35.4 119.1,34.3 119.2,47.0 119.4,46.0 119.5,36.3 119.7,40.9 119.8,37.2 120.0,33.8 120.1,40.5 120.3,43.5 120.4,49.3 120.6,38.0 120.7,42.9 120.9,37.4 121.0,37.8 121.2,45.0 121.3,30.4 121.5,33.5 121.6,34.6 121.8,44.2 121.9,40.7 122.1,41.4 122.2,40.8 122.4,44.0 122.5,36.5 122.7,37.6 122.8,36.8 123.0,41.2 123.1,31.5 123.3,37.8 123.4,50.2 123.6,41.9 123.7,39.2 123.9,33.4 124.0,40.3 124.2,40.1 124.3,42.1 124.5,35.2 124.6,41.1 124.8,41.9 124.9,42.6 125.1,35.8 125.2,41.6 125.4,47.4 125.5,35.5 125.7,42.5 125.8,36.9 126.0,36.9 126.1,32.4 126.3,33.3 126.4,41.9 126.6,39.8 126.7,45.8 126.9,30.5 127.0,36.7 127.2,32.1 127.3,40.6 127.5,50.1 127.6,31.8 127.8,38.5 127.9,38.3 128.1,38.7 128.2,36.1 128.4,36.6 128.5,47.9 128.7,34.4 128.8,41.9 129.0,41.5 129.1,31.6 129.3,35.0 129.4,40.7 129.6,48.8 129.7,38.2 129.9,36.5 130.0,39.3 130.2,45.3 130.3,42.9 130.5,45.2 130.6,37.9 130.8,35.2 130.9,34.2 131.1,42.4 131.2,37.8 131.4,36.3 131.5,41.3 131.7,39.6 131.8,29.2 132.0,38.0 132.1,35.0 132.3,40.9 132.4,38.7 132.6,46.6 132.7,39.0 132.9,33.8 133.0,30.1 133.2,33.9 133.3,36.1 133.5,38.7 133.6,41.5 133.8,39.6 133.9,36.5 134.1,42.3 134.2,35.3 134.4,43.1 134.5,46.5 134.7,43.2 134.8,46.0 135.0,44.7 135.1,34.3 135.3,39.7 135.4,38.0 135.6,34.1 135.7,33.6 135.9,41.0 136.0,33.2 136.2,37.3 136.3,38.9 136.5,37.0 136.6,44.8 136.8,42.1 136.9,39.3 137.1,36.2 137.2,40.5 137.4,39.4 137.5,34.4 137.7,32.3 137.8,35.3 138.0,32.9 138.1,40.7 138.3,40.3 138.4,37.3 138.6,40.3 138.7,41.3 138.9,30.6 139.0,39.9 139.2,43.7 139.3,36.4 139.5,29.3 139.6,38.5 139.8,32.4 139.9,41.2 140.1,41.5 140.2,42.5 140.4,39.7 140.5,28.9 140.7,45.1 140.8,29.9 141.0,44.4 141.1,40.2 141.3,34.2 141.4,35.4 141.6,37.3 141.7,48.1 141.9,36.8 142.0,44.7 142.2,25.2 142.3,40.1 142.5,37.8 142.6,45.4 142.8,41.6 142.9,45.9 143.1,33.4 143.2,40.3 143.4,35.8 143.5,42.4 143.7,41.4 143.8,32.0 144.0,43.7 144.1,47.8 144.3,36.8 144.4,44.4 144.6,41.0 144.7,34.5 144.9,42.7 145.0,34.8 145.2,42.0 145.3,32.1 145.5,33.0 145.6,41.0 145.8,39.8 145.9,42.5 146.1,38.1 146.2,34.2 146.4,45.0 146.5,35.3 146.7,44.3 146.8,42.4 147.0,46.0 147.1,31.3 147.3,38.7 147.4,38.1 147.6,41.5 147.7,35.3 147.9,47.1 148.0,38.8 148.2,30.8 148.3,40.5 148.5,38.8 148.6,36.3 148.8,42.3 148.9,38.8 149.1,34.9 149.2,38.1 149.4,37.3 149.5,40.5 149.7,37.5 149.8,38.6 150.0,32.0 150.1,35.4 150.3,40.1 150.4,50.6 150.6,35.4 150.7,35.3 150.9,43.3 151.0,48.4 151.2,44.3 151.3,34.7 151.5,43.9 151.6,41.0 151.8,38.0 151.9,33.7 152.1,39.0 152.2,39.4 152.4,41.4 152.5,32.5 152.7,34.8 152.8,39.3 153.0,45.0 153.1,42.3 153.3,36.8 153.4,42.1 153.6,35.4 153.7,37.5 153.9,37.7 154.0,36.2 154.2,36.8 154.3,42.9 154.5,40.4 154.6,28.4 154.8,44.7 154.9,41.2 155.1,33.8 155.2,39.7 155.4,43.0 155.5,45.6 155.7,36.2 155.8,33.6 156.0,31.5 156.1,38.6 156.3,33.3 156.4,44.3 156.6,38.0 156.7,42.5 156.9,38.0 157.0,34.8 157.2,33.0 157.3,44.3 157.5,32.0 157.6,41.5 157.8,44.6 157.9,39.8 158.1,47.1 158.2,38.9 158.4,37.4 158.5,40.0 158.7,36.2 158.8,40.7 159.0,38.9 159.1,46.8 159.3,38.7 159.4,43.5 159.6,41.3 159.7,39.4 159.9,38.0 160.0,47.4 160.2,46.9 160.3,40.4 160.5,36.9 160.6,37.4 160.8,35.1 160.9,33.5 161.1,36.8 161.2,39.0 161.4,43.7 161.5,43.2 161.7,41.0 161.8,37.9 162.0,38.0 162.1,38.9 162.3,39.6 162.4,36.5 162.6,38.1 162.7,37.8 162.9,37.8 163.0,41.2 163.2,43.3 163.3,37.1 163.5,37.3 163.6,39.8 163.8,40.6 163.9,30.2 164.1,42.0 164.2,39.8 164.4,37.9 164.5,43.7 164.7,38.4 164.8,31.7 165.0,35.1 165.1,36.3 165.3,36.5 165.4,38.4 165.6,34.9 165.7,39.6 165.9,40.9 166.0,38.4 166.2,34.5 166.3,37.2 166.5,35.4 166.6,49.1 166.8,32.2 166.9,25.4 167.1,31.2 167.2,40.5 167.4,43.1 167.5,37.4 167.7,43.6 167.8,35.0 168.0,41.3 168.1,33.9 168.3,31.9 168.4,47.9 168.6,37.4 168.7,41.9 168.9,44.8 169.0,41.4 169.2,39.8 169.3,34.1 169.5,44.8 169.6,34.2 169.8,29.9 169.9,36.2 170.1,36.4 170.2,39.0 170.4,43.6 170.5,36.4 170.7,37.1 170.8,35.4 171.0,27.4 171.1,35.4 171.3,36.8 171.4,31.2 171.6,44.7 171.7,43.9 171.9,40.6 172.0,41.8 172.2,35.3 172.3,40.3 172.5,29.8 172.6,31.0 172.8,34.9 172.9,40.7 173.1,35.8 173.2,34.9 173.4,44.2 173.5,37.2 173.7,35.5 173.8,37.9 174.0,31.6 174.1,33.3 174.3,43.3 174.4,38.3 174.6,43.4 174.7,36.4 174.9,43.7 175.0,35.0 175.2,37.3 175.3,34.9 175.5,39.7 175.6,46.9 175.8,31.8 175.9,39.8 176.1,33.5 176.2,37.2 176.4,36.3 176.5,32.0 176.7,37.6 176.8,33.7 177.0,46.1 177.1,35.8 177.3,40.0 177.4,39.5 177.6,38.9 177.7,37.7 177.9,33.3 178.0,46.9 178.2,38.7 178.3,42.0 178.5,34.7 178.6,40.8 178.8,37.2 178.9,40.7 179.1,36.2 179.2,34.8 179.4,40.7 179.5,38.7 179.7,45.5 179.8,37.5 180.0,35.0 180.1,41.5 180.3,33.6 180.4,48.9 180.6,47.9 180.7,45.7 180.9,41.2 181.0,38.8 181.2,39.3 181.3,39.2 181.5,35.5 181.6,41.1 181.8,44.7 181.9,44.5 182.1,29.5 182.2,49.3 182.4,39.7 182.5,32.6 182.7,36.9 182.8,42.4 183.0,38.9 183.1,35.4 183.3,34.1 183.4,42.6 183.6,35.9 183.7,37.9 183.9,34.4 184.0,33.1 184.2,40.4 184.3,45.2 184.5,37.1 184.6,30.8 184.8,35.7 184.9,37.8 185.1,27.4 185.2,43.8 185.4,34.4 185.5,41.7 185.7,38.6 185.8,38.4 186.0,30.8 186.1,43.7 186.3,41.7 186.4,47.0 186.6,36.2 186.7,41.2 186.9,36.6 187.0,44.2 187.2,40.7 187.3,33.5 187.5,39.7 187.6,35.7 187.8,36.2 187.9,40.5 188.1,46.1 188.2,34.0 188.4,38.1 188.5,34.1 188.7,47.8 188.8,46.2 189.0,48.2 189.1,42.7 189.3,33.9 189.4,36.2 189.6,39.1 189.7,38.3 189.9,35.1 190.0,40.3 190.2,36.9 190.3,38.2 190.5,49.6 190.6,40.8 190.8,31.8 190.9,40.9 191.1,39.6 191.2,42.0 191.4,41.4 191.5,32.8 191.7,40.3 191.8,44.4 192.0,51.8 192.1,42.0 192.3,49.3 192.4,48.5 192.6,34.7 192.7,35.2 192.9,48.7 193.0,34.6 193.2,36.6 193.3,42.8 193.5,35.3 193.6,46.8 193.8,44.7 193.9,45.8 194.1,44.2 194.2,34.9 194.4,45.1 194.5,44.2 194.7,43.3 194.8,38.0 195.0,40.5 195.1,35.2 195.3,42.3 195.4,45.0 195.6,41.3 195.7,38.8 195.9,43.4 196.0,37.8 196.2,31.7 196.3,41.8 196.5,38.8 196.6,33.8 196.8,42.2 196.9,43.2 197.1,44.5 197.2,37.5 197.4,37.0 197.5,39.6 197.7,38.8 197.8,33.8 198.0,35.4 198.1,45.3 198.3,39.0 198.4,38.5 198.6,35.8 198.7,40.0 198.9,42.0 199.0,41.1 199.2,47.3 199.3,39.1 199.5,41.8 199.6,36.8 199.8,43.9 199.9,41.1 200.1,43.7 200.2,44.2 200.4,35.5 200.5,41.3 200.7,36.8 200.8,44.3 201.0,38.6 201.1,46.7 201.3,41.2 201.4,41.3 201.6,36.5 201.7,38.3 201.9,39.8 202.0,35.7 202.2,38.3 202.3,37.0 202.5,36.2 202.6,39.3 202.8,40.1 202.9,37.9 203.1,40.5 203.2,37.8 203.4,35.6 203.5,36.4 203.7,40.2 203.8,43.0 204.0,39.2 204.1,39.4 204.3,36.1 204.4,40.1 204.6,39.6 204.7,37.3 204.9,40.2 205.0,39.4 205.2,35.3 205.3,35.9 205.5,37.7 205.6,38.5 205.8,40.9 205.9,38.0 206.1,38.9 206.2,38.6 206.4,39.8 206.5,39.0 206.7,39.2 206.8,38.5 207.0,37.0 207.1,38.5 207.3,41.0 207.4,40.1 207.6,40.7 207.7,39.8 207.9,38.4 208.0,38.6 208.2,39.5 208.3,38.7 208.5,39.5 208.6,40.0 208.8,39.9 208.9,39.5 209.1,38.1 209.2,39.7 209.4,38.3 209.5,38.3 209.7,39.0 209.8,38.9 210.0,39.2 210.1,38.9 210.3,38.7 210.4,38.9 210.6,38.6 210.7,38.6 210.9,38.8 211.0,38.8 211.2,38.9 211.3,38.8 211.5,39.1 211.6,38.8 211.8,38.9 211.9,39.0 212.1,38.6 212.2,39.0 212.4,39.0 212.5,38.9 212.7,39.1 212.8,39.0 213.0,39.0 213.1,39.0 213.3,38.9 213.4,38.9 213.6,38.9 213.7,38.9 213.9,38.9 214.0,38.9 214.2,38.9 214.3,38.9 214.5,38.9 214.6,38.9 214.8,38.9 214.9,38.9 215.1,38.9 215.2,38.9 215.4,38.9 215.5,38.9 215.7,38.9 215.8,38.9 216.0,38.9 216.1,38.9 216.3,38.9 216.4,38.9 216.6,38.9 216.7,38.9 216.9,38.9 217.0,38.9 217.2,38.9 217.3,38.9 217.5,38.9 217.6,38.9 217.8,38.9 217.9,38.9 218.1,38.9 218.2,38.9 218.4,38.9 218.5,38.9 218.7,38.9 218.8,38.9 219.0,38.9 219.1,38.9 219.3,38.9 219.4,38.9 219.6,38.9 219.7,38.9 219.9,38.9 220.0,38.9 220.2,38.9 220.3,38.9 220.5,38.9 220.6,38.9 220.8,38.9 220.9,38.9 221.1,38.9 221.2,38.9 221.4,38.9 221.5,38.9 221.7,38.9 221.8,38.9 222.0,38.9 222.1,38.9 222.3,38.9 222.4,38.9 222.6,38.9 222.7,38.9 222.9,38.9 223.0,38.9 223.2,38.9 223.3,38.9 223.5,38.9 223.6,38.9 223.8,38.9 223.9,38.9 224.1,38.9 224.2,38.9 224.4,38.9 224.5,38.9 224.7,38.9 224.8,38.9 225.0,38.9 225.1,38.9 225.3,38.9 225.4,38.9 225.6,38.9 225.7,38.9 225.9,38.9 226.0,38.9 226.2,38.9 226.3,38.9 226.5,38.9 226.6,38.9 226.8,38.9 226.9,38.9 227.1,38.9 227.2,38.9 227.4,38.9 227.5,38.9 227.7,38.9 227.8,38.9 228.0,38.9 228.1,38.9 228.3,38.9 228.4,38.9 228.6,38.9 228.7,38.9 228.9,38.9 229.0,38.9 229.2,38.9 229.3,38.9 229.5,38.9 229.6,38.9 229.8,38.9 229.9,38.9 230.1,38.9 230.2,38.9 230.4,38.9 230.5,38.9 230.7,38.9 230.8,38.9 231.0,38.9 231.1,38.9 231.3,38.9 231.4,38.9 231.6,38.9 231.7,38.9 231.9,38.9 232.0,38.9 232.2,38.9 232.3,38.9 232.5,38.9 232.6,38.9 232.8,38.9 232.9,38.9 233.1,38.9 233.2,38.9 233.4,38.9 233.5,38.9 233.7,38.9 233.8,38.9 234.0,38.9 234.1,38.9 234.3,38.9 234.4,38.9 234.6,38.9 234.7,38.9 234.9,38.9 235.0,38.9 235.2,38.9 235.3,38.9 235.5,38.9 235.6,38.9 235.8,38.9 235.9,38.9 236.1,38.9 236.2,38.9 236.4,38.9 236.5,38.9 236.7,38.9 236.8,38.9 237.0,38.9 237.1,38.9 237.3,38.9 237.4,38.9 237.6,38.9 237.7,38.9 237.9,38.9 238.0,38.9 238.2,38.9 238.3,38.9 238.5,38.9 238.6,38.9 238.8,38.9 238.9,38.9 239.1,38.9 239.2,38.9 239.4,38.9 239.5,38.9 239.7,38.9 239.8,38.9 240.0,38.9 240.1,38.9 240.3,38.9 240.4,38.9 240.6,38.9 240.7,38.9 240.9,38.9 241.0,38.9 241.2,38.9 241.3,38.9 241.5,38.9 241.6,38.9 241.8,38.9 241.9,38.9 242.1,38.9 242.2,38.9 242.4,38.9 242.5,38.9 242.7,38.9 242.8,38.9 243.0,38.9 243.1,38.9 243.3,38.9 243.4,38.9 243.6,38.9 243.7,38.9 243.9,38.9 244.0,38.9 244.2,38.9 244.3,38.9 244.5,38.9 244.6,38.9 244.8,38.9 244.9,38.9 245.1,38.9 245.2,38.9 245.4,38.9 245.5,38.9 245.7,38.9 245.8,38.9 246.0,38.9 246.1,38.9 246.3,38.9 246.4,38.9 246.6,38.9 246.7,38.9 246.9,38.9 247.0,38.9 247.2,38.9 247.3,38.9 247.5,38.9 247.6,38.9 247.8,38.9 247.9,38.9 248.1,38.9 248.2,38.9 248.4,38.9 248.5,38.9 248.7,38.9 248.8,38.9 249.0,38.9 249.1,38.9 249.3,38.9 249.4,38.9 249.6,38.9 249.7,38.9 249.9,38.9 250.0,38.9 250.2,38.9 250.3,38.9 250.5,38.9 250.6,38.9 250.8,38.9 250.9,38.9 251.1,38.9 251.2,38.9 251.4,38.9 251.5,38.9 251.7,38.9 251.8,38.9 252.0,38.9 252.1,38.9 252.3,38.9 252.4,38.9 252.6,38.9 252.7,38.9 252.9,38.9 253.0,38.9 253.2,38.9 253.3,38.9 253.5,38.9" fill="none" stroke="#1a70b8" stroke-width="0.22"/>
<polyline points="37.50,101.50 37.54,101.28 37.57,101.04 37.61,100.80 37.64,100.55 37.68,100.29 37.72,100.02 37.75,99.75 37.79,99.47 37.82,99.19 37.86,98.91 37.90,98.63 37.93,98.36 37.97,98.08 38.00,97.81 38.04,97.54 38.08,97.27 38.11,97.02 38.15,96.77 38.18,96.53 38.22,96.29 38.26,96.07 38.29,95.86 38.33,95.66 38.36,95.47 38.40,95.29 38.44,95.13 38.47,94.98 38.51,94.85 38.54,94.73 38.58,94.63 38.62,94.54 38.65,94.47 38.69,94.41 38.72,94.37 38.76,94.35 38.80,94.35 38.83,94.36 38.87,94.39 38.90,94.44 38.94,94.51 38.98,94.59 39.01,94.69 39.05,94.81 39.08,94.94 39.12,95.10 39.16,95.26 39.19,95.45 39.23,95.65 39.26,95.87 39.30,96.10 39.34,96.35 39.37,96.61 39.41,96.88 39.44,97.17 39.48,97.48 39.52,97.79 39.55,98.12 39.59,98.46 39.62,98.81 39.66,99.17 39.70,99.54 39.73,99.92 39.77,100.30 39.81,100.70 39.84,101.10 39.88,101.51 39.91,101.92 39.95,102.34 39.99,102.76 40.02,103.18 40.06,103.61 40.09,104.04 40.13,104.47 40.17,104.90 40.20,105.33 40.24,105.76 40.27,106.19 40.31,106.61 40.35,107.03 40.38,107.45 40.42,107.86 40.45,108.26 40.49,108.66 40.53,109.05 40.56,109.43 40.60,109.81 40.63,110.18 40.67,110.53 40.71,110.88 40.74,111.21 40.78,111.53 40.81,111.84 40.85,112.14 40.89,112.43 40.92,112.70 40.96,112.95 40.99,113.19 41.03,113.42 41.07,113.63 41.10,113.83 41.14,114.00 41.17,114.16 41.21,114.31 41.25,114.44 41.28,114.55 41.32,114.64 41.35,114.71 41.39,114.77 41.43,114.80 41.46,114.82 41.50,114.82 41.53,114.81 41.57,114.77 41.61,114.71 41.64,114.64 41.68,114.55 41.71,114.44 41.75,114.31 41.79,114.16 41.82,114.00 41.86,113.81 41.89,113.61 41.93,113.39 41.97,113.16 42.00,112.91 42.04,112.64 42.07,112.36 42.11,112.06 42.15,111.74 42.18,111.41 42.22,111.07 42.25,110.71 42.29,110.34 42.33,109.95 42.36,109.55 42.40,109.14 42.43,108.72 42.47,108.29 42.51,107.85 42.54,107.40 42.58,106.94 42.61,106.47 42.65,105.99 42.69,105.51 42.72,105.02 42.76,104.52 42.79,104.02 42.83,103.52 42.87,103.01 42.90,102.50 42.94,101.99 42.97,101.47 43.01,100.96 43.05,100.44 43.08,99.93 43.12,99.41 43.15,98.90 43.19,98.39 43.23,97.89 43.26,97.39 43.30,96.89 43.33,96.40 43.37,95.91 43.41,95.44 43.44,94.97 43.48,94.51 43.51,94.05 43.55,93.61 43.59,93.18 43.62,92.76 43.66,92.34 43.69,91.95 43.73,91.56 43.77,91.19 43.80,90.83 43.84,90.48 43.87,90.15 43.91,89.83 43.95,89.53 43.98,89.25 44.02,88.98 44.06,88.73 44.09,88.49 44.13,88.27 44.16,88.07 44.20,87.89 44.24,87.73 44.27,87.58 44.31,87.45 44.34,87.35 44.38,87.26 44.42,87.19 44.45,87.14 44.49,87.10 44.52,87.09 44.56,87.10 44.60,87.12 44.63,87.17 44.67,87.23 44.70,87.32 44.74,87.42 44.78,87.54 44.81,87.68 44.85,87.84 44.88,88.02 44.92,88.22 44.96,88.43 44.99,88.66 45.03,88.91 45.06,89.18 45.10,89.46 45.14,89.76 45.17,90.07 45.21,90.40 45.24,90.75 45.28,91.11 45.32,91.48 45.35,91.87 45.39,92.27 45.42,92.68 45.46,93.10 45.50,93.54 45.53,93.99 45.57,94.44 45.60,94.91 45.64,95.39 45.68,95.87 45.71,96.36 45.75,96.86 45.78,97.37 45.82,97.88 45.86,98.39 45.89,98.91 45.93,99.43 45.96,99.96 46.00,100.49 46.04,101.02 46.07,101.55 46.11,102.08 46.14,102.61 46.18,103.14 46.22,103.67 46.25,104.19 46.29,104.71 46.32,105.23 46.36,105.74 46.40,106.24 46.43,106.74 46.47,107.24 46.50,107.72 46.54,108.20 46.58,108.67 46.61,109.12 46.65,109.57 46.68,110.01 46.72,110.44 46.76,110.85 46.79,111.25 46.83,111.64 46.86,112.02 46.90,112.38 46.94,112.72 46.97,113.06 47.01,113.37 47.04,113.67 47.08,113.96 47.12,114.23 47.15,114.48 47.19,114.71 47.22,114.93 47.26,115.12 47.30,115.30 47.33,115.47 47.37,115.61 47.40,115.73 47.44,115.84 47.48,115.92 47.51,115.99 47.55,116.04 47.58,116.06 47.62,116.07 47.66,116.06 47.69,116.03 47.73,115.98 47.76,115.91 47.80,115.82 47.84,115.71 47.87,115.59 47.91,115.44 47.94,115.28 47.98,115.09 48.02,114.89 48.05,114.67 48.09,114.44 48.12,114.18 48.16,113.91 48.20,113.62 48.23,113.32 48.27,113.00 48.30,112.67 48.34,112.32 48.38,111.95 48.41,111.57 48.45,111.18 48.49,110.78 48.52,110.36 48.56,109.93 48.59,109.49 48.63,109.04 48.67,108.58 48.70,108.11 48.74,107.63 48.77,107.14 48.81,106.65 48.85,106.14 48.88,105.64 48.92,105.12 48.95,104.60 48.99,104.08 49.03,103.55 49.06,103.02 49.10,102.49 49.13,101.96 49.17,101.43 49.21,100.90 49.24,100.36 49.28,99.83 49.31,99.30 49.35,98.78 49.39,98.26 49.42,97.74 49.46,97.23 49.49,96.72 49.53,96.22 49.57,95.72 49.60,95.24 49.64,94.76 49.67,94.29 49.71,93.83 49.75,93.39 49.78,92.95 49.82,92.52 49.85,92.11 49.89,91.70 49.93,91.32 49.96,90.94 50.00,90.58 50.03,90.23 50.07,89.90 50.11,89.59 50.14,89.29 50.18,89.00 50.21,88.73 50.25,88.48 50.29,88.25 50.32,88.04 50.36,87.84 50.39,87.66 50.43,87.50 50.47,87.36 50.50,87.24 50.54,87.13 50.57,87.05 50.61,86.98 50.65,86.94 50.68,86.91 50.72,86.90 50.75,86.92 50.79,86.95 50.83,87.00 50.86,87.07 50.90,87.16 50.93,87.27 50.97,87.40 51.01,87.55 51.04,87.71 51.08,87.90 51.11,88.10 51.15,88.32 51.19,88.56 51.22,88.81 51.26,89.09 51.29,89.37 51.33,89.68 51.37,90.00 51.40,90.34 51.44,90.69 51.47,91.05 51.51,91.43 51.55,91.82 51.58,92.23 51.62,92.65 51.65,93.08 51.69,93.52 51.73,93.97 51.76,94.43 51.80,94.91 51.83,95.39 51.87,95.87 51.91,96.37 51.94,96.87 51.98,97.38 52.01,97.90 52.05,98.42 52.09,98.94 52.12,99.47 52.16,100.00 52.19,100.53 52.23,101.06 52.27,101.59 52.30,102.13 52.34,102.66 52.37,103.19 52.41,103.72 52.45,104.24 52.48,104.77 52.52,105.28 52.55,105.80 52.59,106.30 52.63,106.80 52.66,107.30 52.70,107.78 52.74,108.26 52.77,108.73 52.81,109.19 52.84,109.64 52.88,110.07 52.92,110.50 52.95,110.91 52.99,111.32 53.02,111.70 53.06,112.08 53.10,112.44 53.13,112.78 53.17,113.12 53.20,113.43 53.24,113.73 53.28,114.01 53.31,114.28 53.35,114.53 53.38,114.76 53.42,114.98 53.46,115.17 53.49,115.35 53.53,115.51 53.56,115.65 53.60,115.77 53.64,115.87 53.67,115.96 53.71,116.02 53.74,116.07 53.78,116.09 53.82,116.10 53.85,116.09 53.89,116.05 53.92,116.00 53.96,115.93 54.00,115.84 54.03,115.73 54.07,115.60 54.10,115.45 54.14,115.28 54.18,115.10 54.21,114.89 54.25,114.67 54.28,114.43 54.32,114.18 54.36,113.91 54.39,113.62 54.43,113.31 54.46,112.99 54.50,112.65 54.54,112.30 54.57,111.93 54.61,111.55 54.64,111.16 54.68,110.75 54.72,110.34 54.75,109.90 54.79,109.46 54.82,109.01 54.86,108.55 54.90,108.08 54.93,107.60 54.97,107.11 55.00,106.61 55.04,106.11 55.08,105.60 55.11,105.08 55.15,104.56 55.18,104.04 55.22,103.51 55.26,102.98 55.29,102.45 55.33,101.92 55.36,101.39 55.40,100.85 55.44,100.32 55.47,99.79 55.51,99.26 55.54,98.73 55.58,98.21 55.62,97.69 55.65,97.18 55.69,96.68 55.72,96.18 55.76,95.68 55.80,95.20 55.83,94.72 55.87,94.25 55.90,93.79 55.94,93.35 55.98,92.91 56.01,92.48 56.05,92.07 56.08,91.67 56.12,91.28 56.16,90.91 56.19,90.55 56.23,90.20 56.26,89.87 56.30,89.56 56.34,89.26 56.37,88.97 56.41,88.71 56.44,88.46 56.48,88.23 56.52,88.02 56.55,87.82 56.59,87.64 56.62,87.48 56.66,87.34 56.70,87.22 56.73,87.12 56.77,87.04 56.80,86.97 56.84,86.93 56.88,86.91 56.91,86.90 56.95,86.91 56.99,86.95 57.02,87.00 57.06,87.07 57.09,87.17 57.13,87.28 57.17,87.41 57.20,87.56 57.24,87.72 57.27,87.91 57.31,88.11 57.35,88.34 57.38,88.57 57.42,88.83 57.45,89.11 57.49,89.40 57.53,89.70 57.56,90.02 57.60,90.36 57.63,90.71 57.67,91.08 57.71,91.46 57.74,91.86 57.78,92.26 57.81,92.68 57.85,93.11 57.89,93.55 57.92,94.01 57.96,94.47 57.99,94.94 58.03,95.42 58.07,95.91 58.10,96.41 58.14,96.91 58.17,97.42 58.21,97.94 58.25,98.46 58.28,98.98 58.32,99.51 58.35,100.04 58.39,100.57 58.43,101.10 58.46,101.64 58.50,102.17 58.53,102.70 58.57,103.23 58.61,103.76 58.64,104.29 58.68,104.81 58.71,105.33 58.75,105.84 58.79,106.34 58.82,106.84 58.86,107.34 58.89,107.82 58.93,108.30 58.97,108.77 59.00,109.22 59.04,109.67 59.07,110.11 59.11,110.53 59.15,110.95 59.18,111.35 59.22,111.73 59.25,112.11 59.29,112.47 59.33,112.81 59.36,113.14 59.40,113.46 59.43,113.75 59.47,114.04 59.51,114.30 59.54,114.55 59.58,114.78 59.61,114.99 59.65,115.19 59.69,115.36 59.72,115.52 59.76,115.66 59.79,115.78 59.83,115.88 59.87,115.96 59.90,116.03 59.94,116.07 59.97,116.09 60.01,116.10 60.05,116.08 60.08,116.05 60.12,116.00 60.15,115.92 60.19,115.83 60.23,115.72 60.26,115.59 60.30,115.44 60.33,115.27 60.37,115.08 60.41,114.88 60.44,114.66 60.48,114.42 60.51,114.16 60.55,113.88 60.59,113.59 60.62,113.29 60.66,112.96 60.69,112.62 60.73,112.27 60.77,111.90 60.80,111.52 60.84,111.13 60.87,110.72 60.91,110.30 60.95,109.87 60.98,109.43 61.02,108.97 61.05,108.51 61.09,108.04 61.13,107.56 61.16,107.07 61.20,106.57 61.23,106.07 61.27,105.56 61.31,105.04 61.34,104.52 61.38,104.00 61.42,103.47 61.45,102.94 61.49,102.41 61.52,101.88 61.56,101.34 61.60,100.81 61.63,100.28 61.67,99.75 61.70,99.22 61.74,98.69 61.78,98.17 61.81,97.65 61.85,97.14 61.88,96.64 61.92,96.14 61.96,95.64 61.99,95.16 62.03,94.68 62.06,94.21 62.10,93.76 62.14,93.31 62.17,92.87 62.21,92.45 62.24,92.04 62.28,91.64 62.32,91.25 62.35,90.88 62.39,90.52 62.42,90.17 62.46,89.84 62.50,89.53 62.53,89.23 62.57,88.95 62.60,88.69 62.64,88.44 62.68,88.21 62.71,88.00 62.75,87.81 62.78,87.63 62.82,87.47 62.86,87.33 62.89,87.21 62.93,87.11 62.96,87.03 63.00,86.97 63.04,86.93 63.07,86.90 63.11,86.90 63.14,86.92 63.18,86.95 63.22,87.01 63.25,87.08 63.29,87.17 63.32,87.29 63.36,87.42 63.40,87.57 63.43,87.74 63.47,87.93 63.50,88.13 63.54,88.35 63.58,88.59 63.61,88.85 63.65,89.13 63.68,89.42 63.72,89.73 63.76,90.05 63.79,90.39 63.83,90.74 63.86,91.11 63.90,91.49 63.94,91.89 63.97,92.30 64.01,92.72 64.04,93.15 64.08,93.59 64.12,94.04 64.15,94.51 64.19,94.98 64.22,95.46 64.26,95.95 64.30,96.45 64.33,96.95 64.37,97.46 64.40,97.98 64.44,98.50 64.48,99.02 64.51,99.55 64.55,100.08 64.58,100.61 64.62,101.15 64.66,101.68 64.69,102.21 64.73,102.74 64.76,103.28 64.80,103.80 64.84,104.33 64.87,104.85 64.91,105.37 64.94,105.88 64.98,106.39 65.02,106.88 65.05,107.38 65.09,107.86 65.12,108.34 65.16,108.80 65.20,109.26 65.23,109.71 65.27,110.14 65.30,110.57 65.34,110.98 65.38,111.38 65.41,111.77 65.45,112.14 65.48,112.50 65.52,112.84 65.56,113.17 65.59,113.48 65.63,113.78 65.67,114.06 65.70,114.32 65.74,114.57 65.77,114.80 65.81,115.01 65.85,115.20 65.88,115.38 65.92,115.53 65.95,115.67 65.99,115.79 66.03,115.89 66.06,115.97 66.10,116.03 66.13,116.07 66.17,116.10 66.21,116.10 66.24,116.08 66.28,116.05 66.31,115.99 66.35,115.92 66.39,115.82 66.42,115.71 66.46,115.58 66.49,115.42 66.53,115.25 66.57,115.07 66.60,114.86 66.64,114.64 66.67,114.40 66.71,114.14 66.75,113.86 66.78,113.57 66.82,113.26 66.85,112.94 66.89,112.60 66.93,112.24 66.96,111.87 67.00,111.49 67.03,111.10 67.07,110.69 67.11,110.27 67.14,109.83 67.18,109.39 67.21,108.94 67.25,108.47 67.29,108.00 67.32,107.52 67.36,107.03 67.39,106.53 67.43,106.03 67.47,105.52 67.50,105.00 67.54,104.48 67.57,103.96 67.61,103.43 67.65,102.90 67.68,102.37 67.72,101.83 67.75,101.30 67.79,100.77 67.83,100.23 67.86,99.70 67.90,99.18 67.93,98.65 67.97,98.13 68.01,97.61 68.04,97.10 68.08,96.59 68.11,96.10 68.15,95.60 68.19,95.12 68.22,94.64 68.26,94.18 68.29,93.72 68.33,93.27 68.37,92.84 68.40,92.42 68.44,92.00 68.47,91.61 68.51,91.22 68.55,90.85 68.58,90.49 68.62,90.15 68.65,89.82 68.69,89.51 68.73,89.21 68.76,88.93 68.80,88.67 68.83,88.42 68.87,88.19 68.91,87.98 68.94,87.79 68.98,87.62 69.01,87.46 69.05,87.32 69.09,87.21 69.12,87.11 69.16,87.03 69.19,86.97 69.23,86.93 69.27,86.90 69.30,86.90 69.34,86.92 69.37,86.96 69.41,87.01 69.45,87.09 69.48,87.18 69.52,87.30 69.55,87.43 69.59,87.58 69.63,87.75 69.66,87.94 69.70,88.15 69.73,88.37 69.77,88.61 69.81,88.87 69.84,89.15 69.88,89.44 69.91,89.75 69.95,90.08 69.99,90.42 70.02,90.77 70.06,91.14 70.10,91.52 70.13,91.92 70.17,92.33 70.20,92.75 70.24,93.18 70.28,93.63 70.31,94.08 70.35,94.55 70.38,95.02 70.42,95.50 70.46,95.99 70.49,96.49 70.53,96.99 70.56,97.50 70.60,98.02 70.64,98.54 70.67,99.07 70.71,99.59 70.74,100.12 70.78,100.65 70.82,101.19 70.85,101.72 70.89,102.25 70.92,102.79 70.96,103.32 71.00,103.85 71.03,104.37 71.07,104.89 71.10,105.41 71.14,105.92 71.18,106.43 71.21,106.92 71.25,107.42 71.28,107.90 71.32,108.37 71.36,108.84 71.39,109.30 71.43,109.74 71.46,110.18 71.50,110.60 71.54,111.01 71.57,111.41 71.61,111.80 71.64,112.17 71.68,112.52 71.72,112.87 71.75,113.19 71.79,113.51 71.82,113.80 71.86,114.08 71.90,114.34 71.93,114.59 71.97,114.82 72.00,115.03 72.04,115.22 72.08,115.39 72.11,115.55 72.15,115.68 72.18,115.80 72.22,115.90 72.26,115.98 72.29,116.04 72.33,116.08 72.36,116.10 72.40,116.10 72.44,116.08 72.47,116.04 72.51,115.99 72.54,115.91 72.58,115.81 72.62,115.70 72.65,115.56 72.69,115.41 72.72,115.24 72.76,115.05 72.80,114.84 72.83,114.62 72.87,114.37 72.90,114.11 72.94,113.84 72.98,113.54 73.01,113.23 73.05,112.91 73.08,112.57 73.12,112.21 73.16,111.84 73.19,111.46 73.23,111.06 73.26,110.65 73.30,110.23 73.34,109.80 73.37,109.36 73.41,108.90 73.44,108.44 73.48,107.96 73.52,107.48 73.55,106.99 73.59,106.49 73.62,105.99 73.66,105.47 73.70,104.96 73.73,104.44 73.77,103.91 73.80,103.39 73.84,102.86 73.88,102.32 73.91,101.79 73.95,101.26 73.98,100.72 74.02,100.19 74.06,99.66 74.09,99.13 74.13,98.61 74.16,98.09 74.20,97.57 74.24,97.06 74.27,96.55 74.31,96.06 74.35,95.56 74.38,95.08 74.42,94.61 74.45,94.14 74.49,93.68 74.53,93.24 74.56,92.80 74.60,92.38 74.63,91.97 74.67,91.57 74.71,91.19 74.74,90.82 74.78,90.46 74.81,90.12 74.85,89.79 74.89,89.48 74.92,89.19 74.96,88.91 74.99,88.65 75.03,88.40 75.07,88.18 75.10,87.97 75.14,87.78 75.17,87.60 75.21,87.45 75.25,87.31 75.28,87.20 75.32,87.10 75.35,87.02 75.39,86.96 75.43,86.92 75.46,86.90 75.50,86.90 75.53,86.92 75.57,86.96 75.61,87.02 75.64,87.09 75.68,87.19 75.71,87.31 75.75,87.44 75.79,87.59 75.82,87.77 75.86,87.96 75.89,88.17 75.93,88.39 75.97,88.64 76.00,88.90 76.04,89.17 76.07,89.47 76.11,89.78 76.15,90.10 76.18,90.44 76.22,90.80 76.25,91.17 76.29,91.55 76.33,91.95 76.36,92.36 76.40,92.78 76.43,93.22 76.47,93.66 76.51,94.12 76.54,94.58 76.58,95.06 76.61,95.54 76.65,96.03 76.69,96.53 76.72,97.03 76.76,97.55 76.79,98.06 76.83,98.58 76.87,99.11 76.90,99.64 76.94,100.17 76.97,100.70 77.01,101.23 77.05,101.76 77.08,102.30 77.12,102.83 77.15,103.36 77.19,103.89 77.23,104.41 77.26,104.93 77.30,105.45 77.33,105.96 77.37,106.47 77.41,106.96 77.44,107.46 77.48,107.94 77.51,108.41 77.55,108.88 77.59,109.33 77.62,109.78 77.66,110.21 77.69,110.63 77.73,111.04 77.77,111.44 77.80,111.83 77.84,112.20 77.87,112.55 77.91,112.89 77.95,113.22 77.98,113.53 78.02,113.82 78.05,114.10 78.09,114.36 78.13,114.61 78.16,114.83 78.20,115.04 78.23,115.23 78.27,115.40 78.31,115.56 78.34,115.69 78.38,115.81 78.41,115.90 78.45,115.98 78.49,116.04 78.52,116.08 78.56,116.10 78.60,116.10 78.63,116.08 78.67,116.04 78.70,115.98 78.74,115.90 78.78,115.80 78.81,115.69 78.85,115.55 78.88,115.40 78.92,115.23 78.96,115.03 78.99,114.83 79.03,114.60 79.06,114.35 79.10,114.09 79.14,113.81 79.17,113.52 79.21,113.21 79.24,112.88 79.28,112.54 79.32,112.18 79.35,111.81 79.39,111.43 79.42,111.03 79.46,110.62 79.50,110.20 79.53,109.76 79.57,109.32 79.60,108.86 79.64,108.40 79.68,107.92 79.71,107.44 79.75,106.95 79.78,106.45 79.82,105.94 79.86,105.43 79.89,104.92 79.93,104.40 79.96,103.87 80.00,103.34 80.04,102.81 80.07,102.28 80.11,101.75 80.14,101.21 80.18,100.68 80.22,100.15 80.25,99.62 80.29,99.09 80.32,98.57 80.36,98.05 80.40,97.53 80.43,97.02 80.47,96.51 80.50,96.02 80.54,95.53 80.58,95.04 80.61,94.57 80.65,94.10 80.68,93.65 80.72,93.20 80.76,92.77 80.79,92.35 80.83,91.94 80.86,91.54 80.90,91.16 80.94,90.79 80.97,90.43 81.01,90.09 81.04,89.77 81.08,89.46 81.12,89.16 81.15,88.89 81.19,88.63 81.22,88.38 81.26,88.16 81.30,87.95 81.33,87.76 81.37,87.59 81.40,87.44 81.44,87.30 81.48,87.19 81.51,87.09 81.55,87.02 81.58,86.96 81.62,86.92 81.66,86.90 81.69,86.90 81.73,86.92 81.76,86.96 81.80,87.02 81.84,87.10 81.87,87.20 81.91,87.32 81.94,87.45 81.98,87.61 82.02,87.78 82.05,87.97 82.09,88.18 82.12,88.41 82.16,88.66 82.20,88.92 82.23,89.20 82.27,89.49 82.30,89.80 82.34,90.13 82.38,90.47 82.41,90.83 82.45,91.20 82.48,91.59 82.52,91.98 82.56,92.40 82.59,92.82 82.63,93.25 82.66,93.70 82.70,94.16 82.74,94.62 82.77,95.10 82.81,95.58 82.84,96.07 82.88,96.57 82.92,97.08 82.95,97.59 82.99,98.10 83.03,98.62 83.06,99.15 83.10,99.68 83.13,100.21 83.17,100.74 83.21,101.27 83.24,101.81 83.28,102.34 83.31,102.87 83.35,103.40 83.39,103.93 83.42,104.45 83.46,104.98 83.49,105.49 83.53,106.00 83.57,106.51 83.60,107.00 83.64,107.49 83.67,107.98 83.71,108.45 83.75,108.91 83.78,109.37 83.82,109.81 83.85,110.25 83.89,110.67 83.93,111.08 83.96,111.47 84.00,111.86 84.03,112.23 84.07,112.58 84.11,112.92 84.14,113.24 84.18,113.55 84.21,113.85 84.25,114.12 84.29,114.38 84.32,114.63 84.36,114.85 84.39,115.06 84.43,115.25 84.47,115.42 84.50,115.57 84.54,115.70 84.57,115.82 84.61,115.91 84.65,115.99 84.68,116.04 84.72,116.08 84.75,116.10 84.79,116.10 84.83,116.08 84.86,116.03 84.90,115.97 84.93,115.89 84.97,115.80 85.01,115.68 85.04,115.54 85.08,115.39 85.11,115.21 85.15,115.02 85.19,114.81 85.22,114.58 85.26,114.33 85.29,114.07 85.33,113.79 85.37,113.50 85.40,113.18 85.44,112.86 85.47,112.51 85.51,112.16 85.55,111.78 85.58,111.40 85.62,111.00 85.65,110.59 85.69,110.16 85.73,109.73 85.76,109.28 85.80,108.83 85.83,108.36 85.87,107.88 85.91,107.40 85.94,106.91 85.98,106.41 86.01,105.90 86.05,105.39 86.09,104.88 86.12,104.35 86.16,103.83 86.19,103.30 86.23,102.77 86.27,102.24 86.30,101.70 86.34,101.17 86.37,100.64 86.41,100.11 86.45,99.58 86.48,99.05 86.52,98.52 86.55,98.00 86.59,97.49 86.63,96.98 86.66,96.47 86.70,95.98 86.73,95.49 86.77,95.00 86.81,94.53 86.84,94.07 86.88,93.61 86.91,93.17 86.95,92.74 86.99,92.32 87.02,91.91 87.06,91.51 87.09,91.13 87.13,90.76 87.17,90.41 87.20,90.07 87.24,89.74 87.28,89.43 87.31,89.14 87.35,88.87 87.38,88.61 87.42,88.37 87.46,88.14 87.49,87.93 87.53,87.75 87.56,87.58 87.60,87.43 87.64,87.29 87.67,87.18 87.71,87.09 87.74,87.01 87.78,86.95 87.82,86.92 87.85,86.90 87.89,86.90 87.92,86.93 87.96,86.97 88.00,87.03 88.03,87.11 88.07,87.21 88.10,87.33 88.14,87.46 88.18,87.62 88.21,87.80 88.25,87.99 88.28,88.20 88.32,88.43 88.36,88.68 88.39,88.94 88.43,89.22 88.46,89.52 88.50,89.83 88.54,90.16 88.57,90.50 88.61,90.86 88.64,91.23 88.68,91.62 88.72,92.02 88.75,92.43 88.79,92.85 88.82,93.29 88.86,93.74 88.90,94.19 88.93,94.66 88.97,95.13 89.00,95.62 89.04,96.11 89.08,96.61 89.11,97.12 89.15,97.63 89.18,98.15 89.22,98.67 89.26,99.19 89.29,99.72 89.33,100.25 89.36,100.78 89.40,101.32 89.44,101.85 89.47,102.38 89.51,102.92 89.54,103.45 89.58,103.97 89.62,104.50 89.65,105.02 89.69,105.53 89.72,106.04 89.76,106.55 89.80,107.04 89.83,107.53 89.87,108.01 89.90,108.49 89.94,108.95 89.98,109.41 90.01,109.85 90.05,110.28 90.08,110.70 90.12,111.11 90.16,111.50 90.19,111.89 90.23,112.25 90.26,112.61 90.30,112.95 90.34,113.27 90.37,113.58 90.41,113.87 90.44,114.14 90.48,114.40 90.52,114.64 90.55,114.87 90.59,115.07 90.62,115.26 90.66,115.43 90.70,115.58 90.73,115.71 90.77,115.82 90.80,115.92 90.84,115.99 90.88,116.05 90.91,116.08 90.95,116.10 90.98,116.10 91.02,116.07 91.06,116.03 91.09,115.97 91.13,115.89 91.16,115.79 91.20,115.67 91.24,115.53 91.27,115.37 91.31,115.20 91.34,115.00 91.38,114.79 91.42,114.56 91.45,114.31 91.49,114.05 91.53,113.77 91.56,113.47 91.60,113.16 91.63,112.83 91.67,112.48 91.71,112.13 91.74,111.75 91.78,111.37 91.81,110.97 91.85,110.55 91.89,110.13 91.92,109.69 91.96,109.25 91.99,108.79 92.03,108.32 92.07,107.85 92.10,107.36 92.14,106.87 92.17,106.37 92.21,105.86 92.25,105.35 92.28,104.83 92.32,104.31 92.35,103.79 92.39,103.26 92.43,102.73 92.46,102.20 92.50,101.66 92.53,101.13 92.57,100.60 92.61,100.06 92.64,99.53 92.68,99.01 92.71,98.48 92.75,97.96 92.79,97.45 92.82,96.94 92.86,96.43 92.89,95.94 92.93,95.45 92.97,94.97 93.00,94.49 93.04,94.03 93.07,93.58 93.11,93.13 93.15,92.70 93.18,92.28 93.22,91.87 93.25,91.48 93.29,91.10 93.33,90.73 93.36,90.38 93.40,90.04 93.43,89.72 93.47,89.41 93.51,89.12 93.54,88.84 93.58,88.59 93.61,88.35 93.65,88.12 93.69,87.92 93.72,87.73 93.76,87.56 93.79,87.41 93.83,87.28 93.87,87.17 93.90,87.08 93.94,87.01 93.97,86.95 94.01,86.92 94.05,86.90 94.08,86.91 94.12,86.93 94.15,86.97 94.19,87.03 94.23,87.12 94.26,87.22 94.30,87.34 94.33,87.48 94.37,87.63 94.41,87.81 94.44,88.01 94.48,88.22 94.51,88.45 94.55,88.70 94.59,88.96 94.62,89.24 94.66,89.54 94.69,89.85 94.73,90.18 94.77,90.53 94.80,90.89 94.84,91.26 94.87,91.65 94.91,92.05 94.95,92.46 94.98,92.89 95.02,93.32 95.05,93.77 95.09,94.23 95.13,94.70 95.16,95.17 95.20,95.66 95.23,96.15 95.27,96.65 95.31,97.16 95.34,97.67 95.38,98.19 95.41,98.71 95.45,99.23 95.49,99.76 95.52,100.29 95.56,100.83 95.59,101.36 95.63,101.89 95.67,102.43 95.70,102.96 95.74,103.49 95.77,104.01 95.81,104.54 95.85,105.06 95.88,105.57 95.92,106.08 95.96,106.59 95.99,107.08 96.03,107.57 96.06,108.05 96.10,108.53 96.14,108.99 96.17,109.44 96.21,109.88 96.24,110.31 96.28,110.73 96.32,111.14 96.35,111.54 96.39,111.92 96.42,112.28 96.46,112.64 96.50,112.97 96.53,113.30 96.57,113.60 96.60,113.89 96.64,114.17 96.68,114.42 96.71,114.66 96.75,114.88 96.78,115.09 96.82,115.27 96.86,115.44 96.89,115.59 96.93,115.72 96.96,115.83 97.00,115.92 97.04,116.00 97.07,116.05 97.11,116.08 97.14,116.10 97.18,116.09 97.22,116.07 97.25,116.03 97.29,115.96 97.32,115.88 97.36,115.78 97.40,115.66 97.43,115.52 97.47,115.36 97.50,115.18 97.54,114.99 97.58,114.77 97.61,114.54 97.65,114.29 97.68,114.03 97.72,113.75 97.76,113.45 97.79,113.13 97.83,112.80 97.86,112.46 97.90,112.10 97.94,111.72 97.97,111.34 98.01,110.93 98.04,110.52 98.08,110.10 98.12,109.66 98.15,109.21 98.19,108.75 98.22,108.28 98.26,107.81 98.30,107.32 98.33,106.83 98.37,106.33 98.40,105.82 98.44,105.31 98.48,104.79 98.51,104.27 98.55,103.74 98.58,103.22 98.62,102.69 98.66,102.15 98.69,101.62 98.73,101.09 98.76,100.55 98.80,100.02 98.84,99.49 98.87,98.96 98.91,98.44 98.94,97.92 98.98,97.41 99.02,96.90 99.05,96.39 99.09,95.90 99.12,95.41 99.16,94.93 99.20,94.46 99.23,93.99 99.27,93.54 99.30,93.10 99.34,92.67 99.38,92.25 99.41,91.84 99.45,91.45 99.48,91.07 99.52,90.70 99.56,90.35 99.59,90.01 99.63,89.69 99.66,89.39 99.70,89.10 99.74,88.82 99.77,88.57 99.81,88.33 99.84,88.11 99.88,87.90 99.92,87.72 99.95,87.55 99.99,87.40 100.02,87.27 100.06,87.16 100.10,87.07 100.13,87.00 100.17,86.95 100.21,86.91 100.24,86.90 100.28,86.91 100.31,86.93 100.35,86.98 100.39,87.04 100.42,87.12 100.46,87.23 100.49,87.35 100.53,87.49 100.57,87.65 100.60,87.83 100.64,88.02 100.67,88.24 100.71,88.47 100.75,88.72 100.78,88.98 100.82,89.27 100.85,89.57 100.89,89.88 100.93,90.21 100.96,90.56 101.00,90.92 101.03,91.29 101.07,91.68 101.11,92.08 101.14,92.50 101.18,92.92 101.21,93.36 101.25,93.81 101.29,94.27 101.32,94.73 101.36,95.21 101.39,95.70 101.43,96.19 101.47,96.69 101.50,97.20 101.54,97.71 101.57,98.23 101.61,98.75 101.65,99.28 101.68,99.81 101.72,100.34 101.75,100.87 101.79,101.40 101.83,101.94 101.86,102.47 101.90,103.00 101.93,103.53 101.97,104.06 102.01,104.58 102.04,105.10 102.08,105.61 102.11,106.12 102.15,106.63 102.19,107.12 102.22,107.61 102.26,108.09 102.29,108.56 102.33,109.03 102.37,109.48 102.40,109.92 102.44,110.35 102.47,110.77 102.51,111.17 102.55,111.57 102.58,111.95 102.62,112.31 102.65,112.66 102.69,113.00 102.73,113.32 102.76,113.63 102.80,113.91 102.83,114.19 102.87,114.44 102.91,114.68 102.94,114.90 102.98,115.10 103.01,115.29 103.05,115.46 103.09,115.60 103.12,115.73 103.16,115.84 103.19,115.93 103.23,116.00 103.27,116.05 103.30,116.09 103.34,116.10 103.37,116.09 103.41,116.07 103.45,116.02 103.48,115.96 103.52,115.87 103.55,115.77 103.59,115.65 103.63,115.51 103.66,115.35 103.70,115.17 103.73,114.97 103.77,114.76 103.81,114.52 103.84,114.27 103.88,114.01 103.91,113.72 103.95,113.42 103.99,113.11 104.02,112.77 104.06,112.43 104.09,112.07 104.13,111.69 104.17,111.30 104.20,110.90 104.24,110.49 104.27,110.06 104.31,109.62 104.35,109.17 104.38,108.72 104.42,108.25 104.45,107.77 104.49,107.28 104.53,106.79 104.56,106.29 104.60,105.78 104.64,105.27 104.67,104.75 104.71,104.23 104.74,103.70 104.78,103.17 104.82,102.64 104.85,102.11 104.89,101.58 104.92,101.04 104.96,100.51 105.00,99.98 105.03,99.45 105.07,98.92 105.10,98.40 105.14,97.88 105.18,97.37 105.21,96.86 105.25,96.35 105.28,95.86 105.32,95.37 105.36,94.89 105.39,94.42 105.43,93.96 105.46,93.50 105.50,93.06 105.54,92.63 105.57,92.22 105.61,91.81 105.64,91.42 105.68,91.04 105.72,90.67 105.75,90.32 105.79,89.99 105.82,89.67 105.86,89.36 105.90,89.07 105.93,88.80 105.97,88.55 106.00,88.31 106.04,88.09 106.08,87.89 106.11,87.70 106.15,87.54 106.18,87.39 106.22,87.26 106.26,87.16 106.29,87.07 106.33,87.00 106.36,86.94 106.40,86.91 106.44,86.90 106.47,86.91 106.51,86.93 106.54,86.98 106.58,87.05 106.62,87.13 106.65,87.24 106.69,87.36 106.72,87.50 106.76,87.66 106.80,87.84 106.83,88.04 106.87,88.25 106.90,88.49 106.94,88.74 106.98,89.01 107.01,89.29 107.05,89.59 107.08,89.91 107.12,90.24 107.16,90.59 107.19,90.95 107.23,91.32 107.26,91.71 107.30,92.11 107.34,92.53 107.37,92.96 107.41,93.40 107.44,93.84 107.48,94.30 107.52,94.77 107.55,95.25 107.59,95.74 107.62,96.23 107.66,96.73 107.70,97.24 107.73,97.75 107.77,98.27 107.80,98.79 107.84,99.32 107.88,99.85 107.91,100.38 107.95,100.91 107.98,101.44 108.02,101.98 108.06,102.51 108.09,103.04 108.13,103.57 108.16,104.10 108.20,104.62 108.24,105.14 108.27,105.66 108.31,106.16 108.34,106.67 108.38,107.16 108.42,107.65 108.45,108.13 108.49,108.60 108.52,109.06 108.56,109.51 108.60,109.95 108.63,110.38 108.67,110.80 108.70,111.21 108.74,111.60 108.78,111.98 108.81,112.34 108.85,112.69 108.89,113.03 108.92,113.35 108.96,113.65 108.99,113.94 109.03,114.21 109.07,114.46 109.10,114.70 109.14,114.92 109.17,115.12 109.21,115.30 109.25,115.47 109.28,115.61 109.32,115.74 109.35,115.85 109.39,115.94 109.43,116.01 109.46,116.06 109.50,116.09 109.53,116.10 109.57,116.09 109.61,116.06 109.64,116.02 109.68,115.95 109.71,115.86 109.75,115.76 109.79,115.64 109.82,115.49 109.86,115.33 109.89,115.15 109.93,114.95 109.97,114.74 110.00,114.50 110.04,114.25 110.07,113.98 110.11,113.70 110.15,113.40 110.18,113.08 110.22,112.75 110.25,112.40 110.29,112.04 110.33,111.66 110.36,111.27 110.40,110.87 110.43,110.45 110.47,110.03 110.51,109.59 110.54,109.14 110.58,108.68 110.61,108.21 110.65,107.73 110.69,107.24 110.72,106.75 110.76,106.25 110.79,105.74 110.83,105.23 110.87,104.71 110.90,104.19 110.94,103.66 110.97,103.13 111.01,102.60 111.05,102.07 111.08,101.53 111.12,101.00 111.15,100.47 111.19,99.94 111.23,99.41 111.26,98.88 111.30,98.36 111.33,97.84 111.37,97.32 111.41,96.82 111.44,96.31 111.48,95.82 111.51,95.33 111.55,94.85 111.59,94.38 111.62,93.92 111.66,93.47 111.69,93.03 111.73,92.60 111.77,92.18 111.80,91.78 111.84,91.39 111.87,91.01 111.91,90.64 111.95,90.30 111.98,89.96 112.02,89.64 112.05,89.34 112.09,89.05 112.13,88.78 112.16,88.53 112.20,88.29 112.23,88.07 112.27,87.87 112.31,87.69 112.34,87.53 112.38,87.38 112.41,87.25 112.45,87.15 112.49,87.06 112.52,86.99 112.56,86.94 112.59,86.91 112.63,86.90 112.67,86.91 112.70,86.94 112.74,86.99 112.77,87.05 112.81,87.14 112.85,87.24 112.88,87.37 112.92,87.51 112.95,87.68 112.99,87.86 113.03,88.06 113.06,88.27 113.10,88.51 113.13,88.76 113.17,89.03 113.21,89.31 113.24,89.62 113.28,89.93 113.32,90.27 113.35,90.61 113.39,90.98 113.42,91.35 113.46,91.74 113.50,92.15 113.53,92.56 113.57,92.99 113.60,93.43 113.64,93.88 113.68,94.34 113.71,94.81 113.75,95.29 113.78,95.78 113.82,96.27 113.86,96.77 113.89,97.28 113.93,97.79 113.96,98.31 114.00,98.83 114.04,99.36 114.07,99.89 114.11,100.42 114.14,100.95 114.18,101.49 114.22,102.02 114.25,102.55 114.29,103.09 114.32,103.61 114.36,104.14 114.40,104.66 114.43,105.18 114.47,105.70 114.50,106.20 114.54,106.71 114.58,107.20 114.61,107.69 114.65,108.17 114.68,108.64 114.72,109.10 114.76,109.55 114.79,109.99 114.83,110.42 114.86,110.83 114.90,111.24 114.94,111.63 114.97,112.01 115.01,112.37 115.04,112.72 115.08,113.05 115.12,113.37 115.15,113.67 115.19,113.96 115.22,114.23 115.26,114.48 115.30,114.72 115.33,114.94 115.37,115.14 115.40,115.32 115.44,115.48 115.48,115.62 115.51,115.75 115.55,115.86 115.58,115.94 115.62,116.01 115.66,116.06 115.69,116.09 115.73,116.10 115.76,116.09 115.80,116.06 115.84,116.01 115.87,115.94 115.91,115.86 115.94,115.75 115.98,115.63 116.02,115.48 116.05,115.32 116.09,115.14 116.12,114.94 116.16,114.72 116.20,114.48 116.23,114.23 116.27,113.96 116.30,113.68 116.34,113.37 116.38,113.05 116.41,112.72 116.45,112.37 116.48,112.01 116.52,111.63 116.56,111.24 116.59,110.84 116.63,110.42 116.66,109.99 116.70,109.55 116.74,109.10 116.77,108.64 116.81,108.17 116.84,107.69 116.88,107.20 116.92,106.71 116.95,106.21 116.99,105.70 117.02,105.19 117.06,104.67 117.10,104.14 117.13,103.62 117.17,103.09 117.20,102.56 117.24,102.02 117.28,101.49 117.31,100.96 117.35,100.42 117.38,99.89 117.42,99.36 117.46,98.84 117.49,98.32 117.53,97.80 117.57,97.28 117.60,96.78 117.64,96.27 117.67,95.78 117.71,95.29 117.75,94.81 117.78,94.34 117.82,93.88 117.85,93.43 117.89,92.99 117.93,92.57 117.96,92.15 118.00,91.75 118.03,91.36 118.07,90.98 118.11,90.62 118.14,90.27 118.18,89.93 118.21,89.62 118.25,89.31 118.29,89.03 118.32,88.76 118.36,88.51 118.39,88.27 118.43,88.06 118.47,87.86 118.50,87.68 118.54,87.51 118.57,87.37 118.61,87.25 118.65,87.14 118.68,87.05 118.72,86.99 118.75,86.94 118.79,86.91 118.83,86.90 118.86,86.91 118.90,86.94 118.93,86.99 118.97,87.06 119.01,87.15 119.04,87.25 119.08,87.38 119.11,87.53 119.15,87.69 119.19,87.87 119.22,88.07 119.26,88.29 119.29,88.53 119.33,88.78 119.37,89.05 119.40,89.34 119.44,89.64 119.47,89.96 119.51,90.29 119.55,90.64 119.58,91.01 119.62,91.38 119.65,91.78 119.69,92.18 119.73,92.60 119.76,93.03 119.80,93.47 119.83,93.92 119.87,94.38 119.91,94.85 119.94,95.33 119.98,95.82 120.01,96.31 120.05,96.81 120.09,97.32 120.12,97.84 120.16,98.35 120.19,98.88 120.23,99.40 120.27,99.93 120.30,100.46 120.34,101.00 120.37,101.53 120.41,102.06 120.45,102.60 120.48,103.13 120.52,103.66 120.55,104.18 120.59,104.71 120.63,105.22 120.66,105.74 120.70,106.25 120.73,106.75 120.77,107.24 120.81,107.73 120.84,108.21 120.88,108.68 120.91,109.13 120.95,109.58 120.99,110.02 121.02,110.45 121.06,110.87 121.09,111.27 121.13,111.66 121.17,112.04 121.20,112.40 121.24,112.75 121.27,113.08 121.31,113.40 121.35,113.70 121.38,113.98 121.42,114.25 121.45,114.50 121.49,114.74 121.53,114.95 121.56,115.15 121.60,115.33 121.63,115.49 121.67,115.64 121.71,115.76 121.74,115.86 121.78,115.95 121.82,116.02 121.85,116.06 121.89,116.09 121.92,116.10 121.96,116.09 122.00,116.06 122.03,116.01 122.07,115.94 122.10,115.85 122.14,115.74 122.18,115.61 122.21,115.47 122.25,115.30 122.28,115.12 122.32,114.92 122.36,114.70 122.39,114.46 122.43,114.21 122.46,113.94 122.50,113.65 122.54,113.35 122.57,113.03 122.61,112.69 122.64,112.34 122.68,111.98 122.72,111.60 122.75,111.21 122.79,110.80 122.82,110.39 122.86,109.96 122.90,109.52 122.93,109.06 122.97,108.60 123.00,108.13 123.04,107.65 123.08,107.16 123.11,106.67 123.15,106.17 123.18,105.66 123.22,105.14 123.26,104.63 123.29,104.10 123.33,103.58 123.36,103.05 123.40,102.51 123.44,101.98 123.47,101.45 123.51,100.91 123.54,100.38 123.58,99.85 123.62,99.32 123.65,98.80 123.69,98.27 123.72,97.76 123.76,97.24 123.80,96.73 123.83,96.23 123.87,95.74 123.90,95.25 123.94,94.78 123.98,94.31 124.01,93.85 124.05,93.40 124.08,92.96 124.12,92.53 124.16,92.12 124.19,91.71 124.23,91.33 124.26,90.95 124.30,90.59 124.34,90.24 124.37,89.91 124.41,89.59 124.44,89.29 124.48,89.01 124.52,88.74 124.55,88.49 124.59,88.26 124.62,88.04 124.66,87.84 124.70,87.66 124.73,87.50 124.77,87.36 124.80,87.24 124.84,87.13 124.88,87.05 124.91,86.98 124.95,86.93 124.98,86.91 125.02,86.90 125.06,86.91 125.09,86.94 125.13,86.99 125.16,87.06 125.20,87.15 125.24,87.26 125.27,87.39 125.31,87.54 125.34,87.70 125.38,87.89 125.42,88.09 125.45,88.31 125.49,88.55 125.52,88.80 125.56,89.07 125.60,89.36 125.63,89.67 125.67,89.99 125.70,90.32 125.74,90.67 125.78,91.04 125.81,91.42 125.85,91.81 125.88,92.21 125.92,92.63 125.96,93.06 125.99,93.50 126.03,93.95 126.06,94.42 126.10,94.89 126.14,95.37 126.17,95.85 126.21,96.35 126.25,96.85 126.28,97.36 126.32,97.88 126.35,98.40 126.39,98.92 126.43,99.45 126.46,99.98 126.50,100.51 126.53,101.04 126.57,101.57 126.61,102.11 126.64,102.64 126.68,103.17 126.71,103.70 126.75,104.23 126.79,104.75 126.82,105.27 126.86,105.78 126.89,106.29 126.93,106.79 126.97,107.28 127.00,107.77 127.04,108.24 127.07,108.71 127.11,109.17 127.15,109.62 127.18,110.06 127.22,110.48 127.25,110.90 127.29,111.30 127.33,111.69 127.36,112.07 127.40,112.43 127.43,112.77 127.47,113.10 127.51,113.42 127.54,113.72 127.58,114.00 127.61,114.27 127.65,114.52 127.69,114.75 127.72,114.97 127.76,115.17 127.79,115.34 127.83,115.50 127.87,115.65 127.90,115.77 127.94,115.87 127.97,115.96 128.01,116.02 128.05,116.07 128.08,116.09 128.12,116.10 128.15,116.09 128.19,116.05 128.23,116.00 128.26,115.93 128.30,115.84 128.33,115.73 128.37,115.60 128.41,115.46 128.44,115.29 128.48,115.11 128.51,114.90 128.55,114.68 128.59,114.44 128.62,114.19 128.66,113.92 128.69,113.63 128.73,113.32 128.77,113.00 128.80,112.67 128.84,112.31 128.87,111.95 128.91,111.57 128.95,111.18 128.98,110.77 129.02,110.35 129.05,109.92 129.09,109.48 129.13,109.03 129.16,108.57 129.20,108.09 129.23,107.61 129.27,107.13 129.31,106.63 129.34,106.13 129.38,105.62 129.41,105.10 129.45,104.58 129.49,104.06 129.52,103.53 129.56,103.00 129.59,102.47 129.63,101.94 129.67,101.41 129.70,100.87 129.74,100.34 129.77,99.81 129.81,99.28 129.85,98.75 129.88,98.23 129.92,97.71 129.95,97.20 129.99,96.69 130.03,96.19 130.06,95.70 130.10,95.21 130.13,94.74 130.17,94.27 130.21,93.81 130.24,93.36 130.28,92.92 130.31,92.50 130.35,92.08 130.39,91.68 130.42,91.29 130.46,90.92 130.50,90.56 130.53,90.21 130.57,89.88 130.60,89.57 130.64,89.27 130.68,88.98 130.71,88.72 130.75,88.47 130.78,88.24 130.82,88.02 130.86,87.83 130.89,87.65 130.93,87.49 130.96,87.35 131.00,87.23 131.04,87.12 131.07,87.04 131.11,86.98 131.14,86.93 131.18,86.91 131.22,86.90 131.25,86.91 131.29,86.95 131.32,87.00 131.36,87.07 131.40,87.16 131.43,87.27 131.47,87.40 131.50,87.55 131.54,87.72 131.58,87.90 131.61,88.11 131.65,88.33 131.68,88.57 131.72,88.82 131.76,89.09 131.79,89.38 131.83,89.69 131.86,90.01 131.90,90.35 131.94,90.70 131.97,91.07 132.01,91.45 132.04,91.84 132.08,92.25 132.12,92.67 132.15,93.10 132.19,93.54 132.22,93.99 132.26,94.45 132.30,94.92 132.33,95.41 132.37,95.89 132.40,96.39 132.44,96.89 132.48,97.40 132.51,97.92 132.55,98.44 132.58,98.96 132.62,99.49 132.66,100.02 132.69,100.55 132.73,101.08 132.76,101.62 132.80,102.15 132.84,102.68 132.87,103.21 132.91,103.74 132.94,104.27 132.98,104.79 133.02,105.31 133.05,105.82 133.09,106.33 133.12,106.83 133.16,107.32 133.20,107.80 133.23,108.28 133.27,108.75 133.30,109.21 133.34,109.66 133.38,110.09 133.41,110.52 133.45,110.93 133.48,111.33 133.52,111.72 133.56,112.09 133.59,112.45 133.63,112.80 133.66,113.13 133.70,113.44 133.74,113.74 133.77,114.03 133.81,114.29 133.84,114.54 133.88,114.77 133.92,114.99 133.95,115.18 133.99,115.36 134.02,115.52 134.06,115.66 134.10,115.78 134.13,115.88 134.17,115.96 134.20,116.03 134.24,116.07 134.28,116.09 134.31,116.10 134.35,116.09 134.38,116.05 134.42,116.00 134.46,115.93 134.49,115.83 134.53,115.72 134.56,115.59 134.60,115.44 134.64,115.28 134.67,115.09 134.71,114.89 134.75,114.66 134.78,114.42 134.82,114.17 134.85,113.89 134.89,113.60 134.93,113.30 134.96,112.98 135.00,112.64 135.03,112.29 135.07,111.92 135.11,111.54 135.14,111.14 135.18,110.74 135.21,110.32 135.25,109.89 135.29,109.44 135.32,108.99 135.36,108.53 135.39,108.06 135.43,107.57 135.47,107.09 135.50,106.59 135.54,106.09 135.57,105.58 135.61,105.06 135.65,104.54 135.68,104.02 135.72,103.49 135.75,102.96 135.79,102.43 135.83,101.90 135.86,101.36 135.90,100.83 135.93,100.30 135.97,99.77 136.01,99.24 136.04,98.71 136.08,98.19 136.11,97.67 136.15,97.16 136.19,96.65 136.22,96.15 136.26,95.66 136.29,95.18 136.33,94.70 136.37,94.23 136.40,93.77 136.44,93.33 136.47,92.89 136.51,92.46 136.55,92.05 136.58,91.65 136.62,91.26 136.65,90.89 136.69,90.53 136.73,90.19 136.76,89.86 136.80,89.54 136.83,89.24 136.87,88.96 136.91,88.70 136.94,88.45 136.98,88.22 137.01,88.01 137.05,87.81 137.09,87.64 137.12,87.48 137.16,87.34 137.19,87.22 137.23,87.12 137.27,87.03 137.30,86.97 137.34,86.93 137.37,86.91 137.41,86.90 137.45,86.92 137.48,86.95 137.52,87.00 137.55,87.08 137.59,87.17 137.63,87.28 137.66,87.41 137.70,87.56 137.73,87.73 137.77,87.92 137.81,88.12 137.84,88.35 137.88,88.59 137.91,88.84 137.95,89.12 137.99,89.41 138.02,89.72 138.06,90.04 138.09,90.38 138.13,90.73 138.17,91.10 138.20,91.48 138.24,91.87 138.27,92.28 138.31,92.70 138.35,93.13 138.38,93.57 138.42,94.03 138.45,94.49 138.49,94.96 138.53,95.44 138.56,95.93 138.60,96.43 138.63,96.93 138.67,97.44 138.71,97.96 138.74,98.48 138.78,99.00 138.81,99.53 138.85,100.06 138.89,100.59 138.92,101.13 138.96,101.66 138.99,102.19 139.03,102.72 139.07,103.26 139.10,103.78 139.14,104.31 139.18,104.83 139.21,105.35 139.25,105.86 139.28,106.37 139.32,106.87 139.36,107.36 139.39,107.84 139.43,108.32 139.46,108.79 139.50,109.24 139.54,109.69 139.57,110.13 139.61,110.55 139.64,110.96 139.68,111.36 139.72,111.75 139.75,112.12 139.79,112.48 139.82,112.83 139.86,113.16 139.90,113.47 139.93,113.77 139.97,114.05 140.00,114.31 140.04,114.56 140.08,114.79 140.11,115.00 140.15,115.20 140.18,115.37 140.22,115.53 140.26,115.67 140.29,115.79 140.33,115.89 140.36,115.97 140.40,116.03 140.44,116.07 140.47,116.10 140.51,116.10 140.54,116.08 140.58,116.05 140.62,115.99 140.65,115.92 140.69,115.83 140.72,115.71 140.76,115.58 140.80,115.43 140.83,115.26 140.87,115.07 140.90,114.87 140.94,114.65 140.98,114.40 141.01,114.15 141.05,113.87 141.08,113.58 141.12,113.27 141.16,112.95 141.19,112.61 141.23,112.26 141.26,111.89 141.30,111.51 141.34,111.11 141.37,110.70 141.41,110.28 141.44,109.85 141.48,109.41 141.52,108.95 141.55,108.49 141.59,108.02 141.62,107.54 141.66,107.05 141.70,106.55 141.73,106.05 141.77,105.54 141.80,105.02 141.84,104.50 141.88,103.98 141.91,103.45 141.95,102.92 141.98,102.39 142.02,101.85 142.06,101.32 142.09,100.79 142.13,100.25 142.16,99.72 142.20,99.19 142.24,98.67 142.27,98.15 142.31,97.63 142.34,97.12 142.38,96.61 142.42,96.11 142.45,95.62 142.49,95.14 142.52,94.66 142.56,94.19 142.60,93.74 142.63,93.29 142.67,92.86 142.70,92.43 142.74,92.02 142.78,91.62 142.81,91.23 142.85,90.86 142.88,90.50 142.92,90.16 142.96,89.83 142.99,89.52 143.03,89.22 143.06,88.94 143.10,88.68 143.14,88.43 143.17,88.20 143.21,87.99 143.24,87.80 143.28,87.62 143.32,87.47 143.35,87.33 143.39,87.21 143.43,87.11 143.46,87.03 143.50,86.97 143.53,86.93 143.57,86.90 143.61,86.90 143.64,86.92 143.68,86.95 143.71,87.01 143.75,87.08 143.79,87.18 143.82,87.29 143.86,87.42 143.89,87.58 143.93,87.75 143.97,87.93 144.00,88.14 144.04,88.36 144.07,88.61 144.11,88.86 144.15,89.14 144.18,89.43 144.22,89.74 144.25,90.06 144.29,90.40 144.33,90.76 144.36,91.13 144.40,91.51 144.43,91.90 144.47,92.31 144.51,92.73 144.54,93.17 144.58,93.61 144.61,94.06 144.65,94.53 144.69,95.00 144.72,95.48 144.76,95.97 144.79,96.47 144.83,96.98 144.87,97.49 144.90,98.00 144.94,98.52 144.97,99.05 145.01,99.57 145.05,100.10 145.08,100.64 145.12,101.17 145.15,101.70 145.19,102.24 145.23,102.77 145.26,103.30 145.30,103.83 145.33,104.35 145.37,104.87 145.41,105.39 145.44,105.90 145.48,106.41 145.51,106.91 145.55,107.40 145.59,107.88 145.62,108.36 145.66,108.82 145.69,109.28 145.73,109.73 145.77,110.16 145.80,110.59 145.84,111.00 145.87,111.40 145.91,111.78 145.95,112.15 145.98,112.51 146.02,112.85 146.05,113.18 146.09,113.49 146.13,113.79 146.16,114.07 146.20,114.33 146.23,114.58 146.27,114.81 146.31,115.02 146.34,115.21 146.38,115.38 146.41,115.54 146.45,115.68 146.49,115.80 146.52,115.89 146.56,115.97 146.59,116.03 146.63,116.07 146.67,116.10 146.70,116.10 146.74,116.08 146.77,116.04 146.81,115.99 146.85,115.91 146.88,115.82 146.92,115.70 146.95,115.57 146.99,115.42 147.03,115.25 147.06,115.06 147.10,114.85 147.13,114.63 147.17,114.38 147.21,114.12 147.24,113.85 147.28,113.56 147.31,113.25 147.35,112.92 147.39,112.58 147.42,112.23 147.46,111.86 147.49,111.48 147.53,111.08 147.57,110.67 147.60,110.25 147.64,109.82 147.67,109.37 147.71,108.92 147.75,108.45 147.78,107.98 147.82,107.50 147.86,107.01 147.89,106.51 147.93,106.00 147.96,105.49 148.00,104.98 148.04,104.46 148.07,103.93 148.11,103.41 148.14,102.88 148.18,102.34 148.22,101.81 148.25,101.28 148.29,100.74 148.32,100.21 148.36,99.68 148.40,99.15 148.43,98.63 148.47,98.11 148.50,97.59 148.54,97.08 148.58,96.57 148.61,96.07 148.65,95.58 148.68,95.10 148.72,94.62 148.76,94.16 148.79,93.70 148.83,93.26 148.86,92.82 148.90,92.40 148.94,91.99 148.97,91.59 149.01,91.20 149.04,90.83 149.08,90.47 149.12,90.13 149.15,89.81 149.19,89.49 149.22,89.20 149.26,88.92 149.30,88.66 149.33,88.41 149.37,88.18 149.40,87.97 149.44,87.78 149.48,87.61 149.51,87.45 149.55,87.32 149.58,87.20 149.62,87.10 149.66,87.02 149.69,86.96 149.73,86.92 149.76,86.90 149.80,86.90 149.84,86.92 149.87,86.96 149.91,87.02 149.94,87.09 149.98,87.19 150.02,87.30 150.05,87.44 150.09,87.59 150.12,87.76 150.16,87.95 150.20,88.16 150.23,88.38 150.27,88.63 150.30,88.89 150.34,89.16 150.38,89.46 150.41,89.77 150.45,90.09 150.48,90.43 150.52,90.79 150.56,91.16 150.59,91.54 150.63,91.94 150.66,92.35 150.70,92.77 150.74,93.20 150.77,93.65 150.81,94.10 150.84,94.57 150.88,95.04 150.92,95.52 150.95,96.01 150.99,96.51 151.02,97.02 151.06,97.53 151.10,98.04 151.13,98.56 151.17,99.09 151.20,99.62 151.24,100.15 151.28,100.68 151.31,101.21 151.35,101.74 151.38,102.28 151.42,102.81 151.46,103.34 151.49,103.87 151.53,104.39 151.56,104.91 151.60,105.43 151.64,105.94 151.67,106.45 151.71,106.95 151.74,107.44 151.78,107.92 151.82,108.40 151.85,108.86 151.89,109.32 151.92,109.76 151.96,110.20 152.00,110.62 152.03,111.03 152.07,111.43 152.11,111.81 152.14,112.18 152.18,112.54 152.21,112.88 152.25,113.21 152.29,113.52 152.32,113.81 152.36,114.09 152.39,114.35 152.43,114.60 152.47,114.82 152.50,115.03 152.54,115.22 152.57,115.40 152.61,115.55 152.65,115.69 152.68,115.80 152.72,115.90 152.75,115.98 152.79,116.04 152.83,116.08 152.86,116.10 152.90,116.10 152.93,116.08 152.97,116.04 153.01,115.98 153.04,115.90 153.08,115.81 153.11,115.69 153.15,115.56 153.19,115.40 153.22,115.23 153.26,115.04 153.29,114.83 153.33,114.61 153.37,114.36 153.40,114.10 153.44,113.83 153.47,113.53 153.51,113.22 153.55,112.90 153.58,112.55 153.62,112.20 153.65,111.83 153.69,111.44 153.73,111.05 153.76,110.64 153.80,110.21 153.83,109.78 153.87,109.34 153.91,108.88 153.94,108.42 153.98,107.94 154.01,107.46 154.05,106.97 154.09,106.47 154.12,105.96 154.16,105.45 154.19,104.94 154.23,104.42 154.27,103.89 154.30,103.36 154.34,102.83 154.37,102.30 154.41,101.77 154.45,101.23 154.48,100.70 154.52,100.17 154.55,99.64 154.59,99.11 154.63,98.59 154.66,98.06 154.70,97.55 154.73,97.04 154.77,96.53 154.81,96.03 154.84,95.54 154.88,95.06 154.91,94.59 154.95,94.12 154.99,93.67 155.02,93.22 155.06,92.79 155.09,92.36 155.13,91.95 155.17,91.56 155.20,91.17 155.24,90.80 155.27,90.45 155.31,90.11 155.35,89.78 155.38,89.47 155.42,89.18 155.45,88.90 155.49,88.64 155.53,88.39 155.56,88.17 155.60,87.96 155.63,87.77 155.67,87.60 155.71,87.44 155.74,87.31 155.78,87.19 155.81,87.10 155.85,87.02 155.89,86.96 155.92,86.92 155.96,86.90 155.99,86.90 156.03,86.92 156.07,86.96 156.10,87.02 156.14,87.10 156.17,87.20 156.21,87.31 156.25,87.45 156.28,87.60 156.32,87.77 156.35,87.97 156.39,88.17 156.43,88.40 156.46,88.65 156.50,88.91 156.54,89.19 156.57,89.48 156.61,89.79 156.64,90.12 156.68,90.46 156.72,90.82 156.75,91.19 156.79,91.57 156.82,91.97 156.86,92.38 156.90,92.80 156.93,93.24 156.97,93.68 157.00,94.14 157.04,94.60 157.08,95.08 157.11,95.56 157.15,96.05 157.18,96.55 157.22,97.06 157.26,97.57 157.29,98.08 157.33,98.61 157.36,99.13 157.40,99.66 157.44,100.19 157.47,100.72 157.51,101.25 157.54,101.79 157.58,102.32 157.62,102.85 157.65,103.38 157.69,103.91 157.72,104.44 157.76,104.96 157.80,105.47 157.83,105.98 157.87,106.49 157.90,106.99 157.94,107.48 157.98,107.96 158.01,108.43 158.05,108.90 158.08,109.35 158.12,109.80 158.16,110.23 158.19,110.65 158.23,111.06 158.26,111.46 158.30,111.84 158.34,112.21 158.37,112.57 158.41,112.91 158.44,113.23 158.48,113.54 158.52,113.84 158.55,114.11 158.59,114.37 158.62,114.62 158.66,114.84 158.70,115.05 158.73,115.24 158.77,115.41 158.80,115.56 158.84,115.70 158.88,115.81 158.91,115.91 158.95,115.98 158.98,116.04 159.02,116.08 159.06,116.10 159.09,116.10 159.13,116.08 159.16,116.04 159.20,115.98 159.24,115.90 159.27,115.80 159.31,115.68 159.34,115.55 159.38,115.39 159.42,115.22 159.45,115.03 159.49,114.82 159.52,114.59 159.56,114.34 159.60,114.08 159.63,113.80 159.67,113.51 159.70,113.20 159.74,112.87 159.78,112.53 159.81,112.17 159.85,111.80 159.88,111.41 159.92,111.01 159.96,110.60 159.99,110.18 160.03,109.75 160.06,109.30 160.10,108.84 160.14,108.38 160.17,107.90 160.21,107.42 160.24,106.93 160.28,106.43 160.32,105.92 160.35,105.41 160.39,104.89 160.42,104.37 160.46,103.85 160.50,103.32 160.53,102.79 160.57,102.26 160.60,101.72 160.64,101.19 160.68,100.66 160.71,100.13 160.75,99.60 160.79,99.07 160.82,98.54 160.86,98.02 160.89,97.51 160.93,97.00 160.97,96.49 161.00,95.99 161.04,95.50 161.07,95.02 161.11,94.55 161.15,94.08 161.18,93.63 161.22,93.19 161.25,92.75 161.29,92.33 161.33,91.92 161.36,91.53 161.40,91.14 161.43,90.77 161.47,90.42 161.51,90.08 161.54,89.75 161.58,89.45 161.61,89.15 161.65,88.88 161.69,88.62 161.72,88.37 161.76,88.15 161.79,87.94 161.83,87.75 161.87,87.58 161.90,87.43 161.94,87.30 161.97,87.18 162.01,87.09 162.05,87.01 162.08,86.96 162.12,86.92 162.15,86.90 162.19,86.90 162.23,86.92 162.26,86.97 162.30,87.03 162.33,87.11 162.37,87.20 162.41,87.32 162.44,87.46 162.48,87.62 162.51,87.79 162.55,87.98 162.59,88.19 162.62,88.42 162.66,88.67 162.69,88.93 162.73,89.21 162.77,89.51 162.80,89.82 162.84,90.15 162.87,90.49 162.91,90.85 162.95,91.22 162.98,91.60 163.02,92.00 163.05,92.41 163.09,92.84 163.13,93.27 163.16,93.72 163.20,94.17 163.23,94.64 163.27,95.12 163.31,95.60 163.34,96.09 163.38,96.59 163.41,97.10 163.45,97.61 163.49,98.13 163.52,98.65 163.56,99.17 163.59,99.70 163.63,100.23 163.67,100.76 163.70,101.30 163.74,101.83 163.77,102.36 163.81,102.90 163.85,103.43 163.88,103.95 163.92,104.48 163.95,105.00 163.99,105.51 164.03,106.02 164.06,106.53 164.10,107.02 164.13,107.52 164.17,108.00 164.21,108.47 164.24,108.93 164.28,109.39 164.31,109.83 164.35,110.26 164.39,110.69 164.42,111.09 164.46,111.49 164.49,111.87 164.53,112.24 164.57,112.59 164.60,112.93 164.64,113.26 164.67,113.57 164.71,113.86 164.75,114.13 164.78,114.39 164.82,114.64 164.85,114.86 164.89,115.07 164.93,115.25 164.96,115.42 165.00,115.57 165.04,115.71 165.07,115.82 165.11,115.91 165.14,115.99 165.18,116.05 165.22,116.08 165.25,116.10 165.29,116.10 165.32,116.07 165.36,116.03 165.40,115.97 165.43,115.89 165.47,115.79 165.50,115.67 165.54,115.53 165.58,115.38 165.61,115.20 165.65,115.01 165.68,114.80 165.72,114.57 165.76,114.32 165.79,114.06 165.83,113.78 165.86,113.48 165.90,113.17 165.94,112.84 165.97,112.50 166.01,112.14 166.04,111.77 166.08,111.38 166.12,110.98 166.15,110.57 166.19,110.15 166.22,109.71 166.26,109.26 166.30,108.81 166.33,108.34 166.37,107.86 166.40,107.38 166.44,106.89 166.48,106.39 166.51,105.88 166.55,105.37 166.58,104.85 166.62,104.33 166.66,103.81 166.69,103.28 166.73,102.75 166.76,102.22 166.80,101.68 166.84,101.15 166.87,100.62 166.91,100.08 166.94,99.55 166.98,99.03 167.02,98.50 167.05,97.98 167.09,97.47 167.12,96.96 167.16,96.45 167.20,95.96 167.23,95.47 167.27,94.98 167.30,94.51 167.34,94.05 167.38,93.59 167.41,93.15 167.45,92.72 167.48,92.30 167.52,91.89 167.56,91.49 167.59,91.11 167.63,90.74 167.66,90.39 167.70,90.05 167.74,89.73 167.77,89.42 167.81,89.13 167.84,88.85 167.88,88.60 167.92,88.36 167.95,88.13 167.99,87.93 168.02,87.74 168.06,87.57 168.10,87.42 168.13,87.29 168.17,87.18 168.20,87.08 168.24,87.01 168.28,86.95 168.31,86.92 168.35,86.90 168.38,86.90 168.42,86.93 168.46,86.97 168.49,87.03 168.53,87.11 168.56,87.21 168.60,87.33 168.64,87.47 168.67,87.63 168.71,87.80 168.74,88.00 168.78,88.21 168.82,88.44 168.85,88.69 168.89,88.95 168.92,89.23 168.96,89.53 169.00,89.84 169.03,90.17 169.07,90.52 169.10,90.87 169.14,91.25 169.18,91.63 169.21,92.03 169.25,92.45 169.28,92.87 169.32,93.31 169.36,93.75 169.39,94.21 169.43,94.68 169.47,95.16 169.50,95.64 169.54,96.13 169.57,96.63 169.61,97.14 169.65,97.65 169.68,98.17 169.72,98.69 169.75,99.21 169.79,99.74 169.83,100.27 169.86,100.81 169.90,101.34 169.93,101.87 169.97,102.41 170.01,102.94 170.04,103.47 170.08,104.00 170.11,104.52 170.15,105.04 170.19,105.55 170.22,106.06 170.26,106.57 170.29,107.06 170.33,107.55 170.37,108.04 170.40,108.51 170.44,108.97 170.47,109.42 170.51,109.87 170.55,110.30 170.58,110.72 170.62,111.13 170.65,111.52 170.69,111.90 170.73,112.27 170.76,112.62 170.80,112.96 170.83,113.28 170.87,113.59 170.91,113.88 170.94,114.16 170.98,114.41 171.01,114.65 171.05,114.88 171.09,115.08 171.12,115.27 171.16,115.44 171.19,115.59 171.23,115.72 171.27,115.83 171.30,115.92 171.34,116.00 171.37,116.05 171.41,116.08 171.45,116.10 171.48,116.09 171.52,116.07 171.55,116.03 171.59,115.97 171.63,115.88 171.66,115.78 171.70,115.66 171.73,115.52 171.77,115.36 171.81,115.19 171.84,114.99 171.88,114.78 171.91,114.55 171.95,114.30 171.99,114.04 172.02,113.76 172.06,113.46 172.09,113.14 172.13,112.81 172.17,112.47 172.20,112.11 172.24,111.74 172.27,111.35 172.31,110.95 172.35,110.54 172.38,110.11 172.42,109.67 172.45,109.23 172.49,108.77 172.53,108.30 172.56,107.83 172.60,107.34 172.63,106.85 172.67,106.35 172.71,105.84 172.74,105.33 172.78,104.81 172.81,104.29 172.85,103.76 172.89,103.24 172.92,102.70 172.96,102.17 172.99,101.64 173.03,101.11 173.07,100.57 173.10,100.04 173.14,99.51 173.17,98.98 173.21,98.46 173.25,97.94 173.28,97.43 173.32,96.92 173.35,96.41 173.39,95.92 173.43,95.43 173.46,94.95 173.50,94.47 173.53,94.01 173.57,93.56 173.61,93.11 173.64,92.68 173.68,92.26 173.72,91.86 173.75,91.46 173.79,91.08 173.82,90.72 173.86,90.36 173.90,90.03 173.93,89.70 173.97,89.40 174.00,89.11 174.04,88.83 174.08,88.58 174.11,88.34 174.15,88.11 174.18,87.91 174.22,87.72 174.26,87.56 174.29,87.41 174.33,87.28 174.36,87.17 174.40,87.08 174.44,87.00 174.47,86.95 174.51,86.92 174.54,86.90 174.58,86.91 174.62,86.93 174.65,86.97 174.69,87.04 174.72,87.12 174.76,87.22 174.80,87.34 174.83,87.48 174.87,87.64 174.90,87.82 174.94,88.01 174.98,88.23 175.01,88.46 175.05,88.71 175.08,88.97 175.12,89.26 175.16,89.55 175.19,89.87 175.23,90.20 175.26,90.54 175.30,90.90 175.34,91.28 175.37,91.67 175.41,92.07 175.44,92.48 175.48,92.91 175.52,93.34 175.55,93.79 175.59,94.25 175.62,94.72 175.66,95.19 175.70,95.68 175.73,96.17 175.77,96.67 175.80,97.18 175.84,97.69 175.88,98.21 175.91,98.73 175.95,99.26 175.98,99.79 176.02,100.32 176.06,100.85 176.09,101.38 176.13,101.92 176.16,102.45 176.20,102.98 176.24,103.51 176.27,104.04 176.31,104.56 176.34,105.08 176.38,105.60 176.42,106.10 176.45,106.61 176.49,107.10 176.52,107.59 176.56,108.07 176.60,108.55 176.63,109.01 176.67,109.46 176.70,109.90 176.74,110.33 176.78,110.75 176.81,111.16 176.85,111.55 176.88,111.93 176.92,112.30 176.96,112.65 176.99,112.99 177.03,113.31 177.06,113.61 177.10,113.90 177.14,114.18 177.17,114.43 177.21,114.67 177.24,114.89 177.28,115.10 177.32,115.28 177.35,115.45 177.39,115.60 177.42,115.73 177.46,115.84 177.50,115.93 177.53,116.00 177.57,116.05 177.60,116.09 177.64,116.10 177.68,116.09 177.71,116.07 177.75,116.02 177.78,115.96 177.82,115.88 177.86,115.77 177.89,115.65 177.93,115.51 177.97,115.35 178.00,115.17 178.04,114.98 178.07,114.76 178.11,114.53 178.15,114.28 178.18,114.02 178.22,113.73 178.25,113.43 178.29,113.12 178.33,112.79 178.36,112.44 178.40,112.08 178.43,111.71 178.47,111.32 178.51,110.92 178.54,110.50 178.58,110.08 178.61,109.64 178.65,109.19 178.69,108.73 178.72,108.26 178.76,107.79 178.79,107.30 178.83,106.81 178.87,106.31 178.90,105.80 178.94,105.29 178.97,104.77 179.01,104.25 179.05,103.72 179.08,103.19 179.12,102.66 179.15,102.13 179.19,101.60 179.23,101.06 179.26,100.53 179.30,100.00 179.33,99.47 179.37,98.94 179.41,98.42 179.44,97.90 179.48,97.38 179.51,96.88 179.55,96.37 179.59,95.88 179.62,95.39 179.66,94.91 179.69,94.44 179.73,93.97 179.77,93.52 179.80,93.08 179.84,92.65 179.87,92.23 179.91,91.83 179.95,91.43 179.98,91.05 180.02,90.69 180.05,90.34 180.09,90.00 180.13,89.68 180.16,89.37 180.20,89.08 180.23,88.81 180.27,88.56 180.31,88.32 180.34,88.10 180.38,87.90 180.41,87.71 180.45,87.54 180.49,87.40 180.52,87.27 180.56,87.16 180.59,87.07 180.63,87.00 180.67,86.95 180.70,86.91 180.74,86.90 180.77,86.91 180.81,86.93 180.85,86.98 180.88,87.04 180.92,87.13 180.95,87.23 180.99,87.35 181.03,87.50 181.06,87.66 181.10,87.83 181.13,88.03 181.17,88.25 181.21,88.48 181.24,88.73 181.28,89.00 181.31,89.28 181.35,89.58 181.39,89.89 181.42,90.23 181.46,90.57 181.49,90.93 181.53,91.31 181.57,91.70 181.60,92.10 181.64,92.51 181.67,92.94 181.71,93.38 181.75,93.83 181.78,94.29 181.82,94.75 181.85,95.23 181.89,95.72 181.93,96.21 181.96,96.71 182.00,97.22 182.03,97.73 182.07,98.25 182.11,98.77 182.14,99.30 182.18,99.83 182.21,100.36 182.25,100.89 182.29,101.43 182.32,101.96 182.36,102.49 182.40,103.02 182.43,103.55 182.47,104.08 182.50,104.60 182.54,105.12 182.58,105.64 182.61,106.15 182.65,106.65 182.68,107.14 182.72,107.63 182.76,108.11 182.79,108.58 182.83,109.04 182.86,109.50 182.90,109.94 182.94,110.37 182.97,110.79 183.01,111.19 183.04,111.58 183.08,111.96 183.12,112.33 183.15,112.68 183.19,113.01 183.22,113.33 183.26,113.64 183.30,113.93 183.33,114.20 183.37,114.45 183.40,114.69 183.44,114.91 183.48,115.11 183.51,115.30 183.55,115.46 183.58,115.61 183.62,115.74 183.66,115.85 183.69,115.93 183.73,116.01 183.76,116.06 183.80,116.09 183.84,116.10 183.87,116.09 183.91,116.07 183.94,116.02 183.98,115.95 184.02,115.87 184.05,115.76 184.09,115.64 184.12,115.50 184.16,115.34 184.20,115.16 184.23,114.96 184.27,114.75 184.30,114.51 184.34,114.26 184.38,113.99 184.41,113.71 184.45,113.41 184.48,113.09 184.52,112.76 184.56,112.41 184.59,112.05 184.63,111.68 184.66,111.29 184.70,110.88 184.74,110.47 184.77,110.04 184.81,109.60 184.84,109.15 184.88,108.70 184.92,108.23 184.95,107.75 184.99,107.26 185.02,106.77 185.06,106.27 185.10,105.76 185.13,105.25 185.17,104.73 185.20,104.21 185.24,103.68 185.28,103.15 185.31,102.62 185.35,102.09 185.38,101.55 185.42,101.02 185.46,100.49 185.49,99.96 185.53,99.43 185.56,98.90 185.60,98.38 185.64,97.86 185.67,97.34 185.71,96.83 185.74,96.33 185.78,95.84 185.82,95.35 185.85,94.87 185.89,94.40 185.92,93.94 185.96,93.49 186.00,93.05 186.03,92.62 186.07,92.20 186.10,91.79 186.14,91.40 186.18,91.02 186.21,90.66 186.25,90.31 186.28,89.97 186.32,89.65 186.36,89.35 186.39,89.06 186.43,88.79 186.46,88.54 186.50,88.30 186.54,88.08 186.57,87.88 186.61,87.70 186.65,87.53 186.68,87.39 186.72,87.26 186.75,87.15 186.79,87.06 186.83,86.99 186.86,86.94 186.90,86.91 186.93,86.90 186.97,86.91 187.01,86.94 187.04,86.98 187.08,87.05 187.11,87.14 187.15,87.24 187.19,87.37 187.22,87.51 187.26,87.67 187.29,87.85 187.33,88.05 187.37,88.26 187.40,88.50 187.44,88.75 187.47,89.02 187.51,89.30 187.55,89.60 187.58,89.92 187.62,90.25 187.65,90.60 187.69,90.96 187.73,91.34 187.76,91.73 187.80,92.13 187.83,92.55 187.87,92.98 187.91,93.41 187.94,93.86 187.98,94.32 188.01,94.79 188.05,95.27 188.09,95.76 188.12,96.25 188.16,96.75 188.19,97.26 188.23,97.77 188.27,98.29 188.30,98.82 188.34,99.34 188.37,99.87 188.41,100.40 188.45,100.93 188.48,101.47 188.52,102.00 188.55,102.53 188.59,103.07 188.63,103.59 188.66,104.12 188.70,104.64 188.73,105.16 188.77,105.68 188.81,106.19 188.84,106.69 188.88,107.18 188.91,107.67 188.95,108.15 188.99,108.62 189.02,109.08 189.06,109.53 189.09,109.97 189.13,110.40 189.17,110.82 189.20,111.22 189.24,111.61 189.27,111.99 189.31,112.35 189.35,112.70 189.38,113.04 189.42,113.36 189.45,113.66 189.49,113.95 189.53,114.22 189.56,114.47 189.60,114.71 189.63,114.92 189.67,115.13 189.71,115.31 189.74,115.47 189.78,115.62 189.81,115.74 189.85,115.85 189.89,115.94 189.92,116.01 189.96,116.06 189.99,116.09 190.03,116.10 190.07,116.09 190.10,116.06 190.14,116.01 190.17,115.94 190.21,115.86 190.25,115.75 190.28,115.63 190.32,115.48 190.35,115.32 190.39,115.14 190.43,114.94 190.46,114.72 190.50,114.49 190.53,114.24 190.57,113.97 190.61,113.68 190.64,113.38 190.68,113.06 190.71,112.73 190.75,112.38 190.79,112.02 190.82,111.64 190.86,111.25 190.89,110.85 190.93,110.43 190.97,110.00 191.00,109.56 191.04,109.11 191.08,108.65 191.11,108.18 191.15,107.71 191.18,107.22 191.22,106.73 191.26,106.22 191.29,105.72 191.33,105.20 191.36,104.68 191.40,104.16 191.44,103.64 191.47,103.11 191.51,102.58 191.54,102.04 191.58,101.51 191.62,100.98 191.65,100.45 191.69,99.91 191.72,99.39 191.76,98.86 191.80,98.34 191.83,97.82 191.87,97.31 191.90,96.80 191.94,96.30 191.98,95.80 192.01,95.31 192.05,94.84 192.08,94.37 192.12,93.91 192.16,93.46 192.19,93.02 192.23,92.59 192.26,92.17 192.30,91.77 192.34,91.38 192.37,91.00 192.41,90.64 192.44,90.29 192.48,89.96 192.52,89.64 192.55,89.34 192.59,89.05 192.62,88.78 192.66,88.53 192.70,88.30 192.73,88.08 192.77,87.88 192.80,87.70 192.84,87.54 192.88,87.39 192.91,87.27 192.95,87.16 192.98,87.08 193.02,87.01 193.06,86.96 193.09,86.93 193.13,86.92 193.16,86.93 193.20,86.96 193.24,87.01 193.27,87.08 193.31,87.17 193.34,87.27 193.38,87.40 193.42,87.54 193.45,87.71 193.49,87.89 193.52,88.09 193.56,88.31 193.60,88.54 193.63,88.80 193.67,89.07 193.70,89.35 193.74,89.65 193.78,89.97 193.81,90.31 193.85,90.65 193.88,91.02 193.92,91.39 193.96,91.79 193.99,92.19 194.03,92.60 194.06,93.03 194.10,93.47 194.14,93.92 194.17,94.38 194.21,94.85 194.24,95.33 194.28,95.81 194.32,96.31 194.35,96.81 194.39,97.32 194.42,97.83 194.46,98.34 194.50,98.87 194.53,99.39 194.57,99.92 194.60,100.45 194.64,100.98 194.68,101.51 194.71,102.04 194.75,102.57 194.78,103.10 194.82,103.63 194.86,104.15 194.89,104.67 194.93,105.19 194.96,105.70 195.00,106.20 195.04,106.70 195.07,107.20 195.11,107.68 195.14,108.16 195.18,108.62 195.22,109.08 195.25,109.53 195.29,109.96 195.33,110.39 195.36,110.80 195.40,111.20 195.43,111.59 195.47,111.96 195.51,112.32 195.54,112.66 195.58,112.99 195.61,113.31 195.65,113.61 195.69,113.89 195.72,114.15 195.76,114.40 195.79,114.63 195.83,114.85 195.87,115.04 195.90,115.22 195.94,115.38 195.97,115.52 196.01,115.64 196.05,115.74 196.08,115.83 196.12,115.89 196.15,115.94 196.19,115.96 196.23,115.97 196.26,115.95 196.30,115.92 196.33,115.87 196.37,115.80 196.41,115.71 196.44,115.60 196.48,115.47 196.51,115.32 196.55,115.16 196.59,114.98 196.62,114.77 196.66,114.55 196.69,114.32 196.73,114.06 196.77,113.79 196.80,113.51 196.84,113.21 196.87,112.89 196.91,112.55 196.95,112.21 196.98,111.84 197.02,111.47 197.05,111.08 197.09,110.68 197.13,110.27 197.16,109.84 197.20,109.40 197.23,108.96 197.27,108.50 197.31,108.04 197.34,107.56 197.38,107.08 197.41,106.59 197.45,106.10 197.49,105.60 197.52,105.09 197.56,104.58 197.59,104.07 197.63,103.55 197.67,103.03 197.70,102.51 197.74,101.99 197.77,101.47 197.81,100.95 197.85,100.43 197.88,99.91 197.92,99.39 197.95,98.88 197.99,98.37 198.03,97.87 198.06,97.37 198.10,96.88 198.13,96.39 198.17,95.92 198.21,95.45 198.24,94.99 198.28,94.53 198.31,94.09 198.35,93.66 198.39,93.24 198.42,92.83 198.46,92.44 198.49,92.05 198.53,91.68 198.57,91.33 198.60,90.98 198.64,90.66 198.67,90.34 198.71,90.05 198.75,89.77 198.78,89.50 198.82,89.25 198.85,89.02 198.89,88.81 198.93,88.61 198.96,88.44 199.00,88.27 199.03,88.13 199.07,88.01 199.11,87.90 199.14,87.82 199.18,87.75 199.21,87.70 199.25,87.67 199.29,87.66 199.32,87.66 199.36,87.69 199.39,87.74 199.43,87.80 199.47,87.88 199.50,87.98 199.54,88.10 199.57,88.23 199.61,88.39 199.65,88.56 199.68,88.75 199.72,88.95 199.76,89.17 199.79,89.41 199.83,89.67 199.86,89.94 199.90,90.22 199.94,90.52 199.97,90.83 200.01,91.16 200.04,91.50 200.08,91.85 200.12,92.21 200.15,92.59 200.19,92.97 200.22,93.37 200.26,93.78 200.30,94.19 200.33,94.62 200.37,95.05 200.40,95.49 200.44,95.94 200.48,96.39 200.51,96.84 200.55,97.31 200.58,97.77 200.62,98.24 200.66,98.71 200.69,99.18 200.73,99.66 200.76,100.13 200.80,100.60 200.84,101.08 200.87,101.55 200.91,102.02 200.94,102.48 200.98,102.94 201.02,103.40 201.05,103.85 201.09,104.30 201.12,104.74 201.16,105.17 201.20,105.60 201.23,106.02 201.27,106.42 201.30,106.82 201.34,107.21 201.38,107.59 201.41,107.96 201.45,108.32 201.48,108.66 201.52,108.99 201.56,109.31 201.59,109.62 201.63,109.91 201.66,110.19 201.70,110.46 201.74,110.71 201.77,110.94 201.81,111.16 201.84,111.37 201.88,111.56 201.92,111.73 201.95,111.89 201.99,112.03 202.02,112.15 202.06,112.26 202.10,112.35 202.13,112.43 202.17,112.49 202.20,112.54 202.24,112.56 202.28,112.58 202.31,112.57 202.35,112.55 202.38,112.52 202.42,112.47 202.46,112.40 202.49,112.32 202.53,112.22 202.56,112.11 202.60,111.99 202.64,111.85 202.67,111.70 202.71,111.53 202.74,111.36 202.78,111.17 202.82,110.97 202.85,110.75 202.89,110.53 202.92,110.30 202.96,110.05 203.00,109.80 203.03,109.54 203.07,109.27 203.10,108.99 203.14,108.70 203.18,108.41 203.21,108.12 203.25,107.81 203.28,107.50 203.32,107.19 203.36,106.87 203.39,106.56 203.43,106.23 203.46,105.91 203.50,105.58 203.54,105.26 203.57,104.93 203.61,104.60 203.64,104.28 203.68,103.95 203.72,103.63 203.75,103.31 203.79,102.99 203.82,102.67 203.86,102.36 203.90,102.06 203.93,101.76 203.97,101.46 204.01,101.17 204.04,100.88 204.08,100.60 204.11,100.33 204.15,100.07 204.19,99.81 204.22,99.56 204.26,99.32 204.29,99.08 204.33,98.86 204.37,98.64 204.40,98.43 204.44,98.23 204.47,98.04 204.51,97.86 204.55,97.69 204.58,97.53 204.62,97.38 204.65,97.24 204.69,97.11 204.73,96.99 204.76,96.87 204.80,96.77 204.83,96.68 204.87,96.60 204.91,96.52 204.94,96.46 204.98,96.41 205.01,96.36 205.05,96.33 205.09,96.30 205.12,96.28 205.16,96.27 205.19,96.27 205.23,96.28 205.27,96.30 205.30,96.32 205.34,96.35 205.37,96.39 205.41,96.44 205.45,96.49 205.48,96.55 205.52,96.62 205.55,96.69 205.59,96.76 205.63,96.85 205.66,96.94 205.70,97.03 205.73,97.13 205.77,97.23 205.81,97.33 205.84,97.44 205.88,97.56 205.91,97.67 205.95,97.79 205.99,97.91 206.02,98.04 206.06,98.16 206.09,98.29 206.13,98.42 206.17,98.55 206.20,98.68 206.24,98.81 206.27,98.94 206.31,99.07 206.35,99.20 206.38,99.33 206.42,99.46 206.45,99.59 206.49,99.72 206.53,99.85 206.56,99.98 206.60,100.10 206.63,100.22 206.67,100.35 206.71,100.47 206.74,100.58 206.78,100.70 206.81,100.81 206.85,100.92 206.89,101.03 206.92,101.13 206.96,101.23 206.99,101.33 207.03,101.42 207.07,101.52 207.10,101.61 207.14,101.69 207.17,101.77 207.21,101.85 207.25,101.93 207.28,102.00 207.32,102.07 207.35,102.14 207.39,102.20 207.43,102.26 207.46,102.31 207.50,102.37 207.53,102.42 207.57,102.46 207.61,102.50 207.64,102.54 207.68,102.58 207.71,102.61 207.75,102.64 207.79,102.67 207.82,102.69 207.86,102.72 207.89,102.73 207.93,102.75 207.97,102.76 208.00,102.77 208.04,102.78 208.07,102.79 208.11,102.79 208.15,102.79 208.18,102.79 208.22,102.79 208.26,102.78 208.29,102.77 208.33,102.76 208.36,102.75 208.40,102.74 208.44,102.72 208.47,102.71 208.51,102.69 208.54,102.67 208.58,102.65 208.62,102.63 208.65,102.61 208.69,102.58 208.72,102.56 208.76,102.53 208.80,102.51 208.83,102.48 208.87,102.45 208.90,102.42 208.94,102.40 208.98,102.37 209.01,102.34 209.05,102.31 209.08,102.28 209.12,102.25 209.16,102.22 209.19,102.19 209.23,102.16 209.26,102.13 209.30,102.10 209.34,102.07 209.37,102.04 209.41,102.01 209.44,101.98 209.48,101.95 209.52,101.92 209.55,101.89 209.59,101.86 209.62,101.84 209.66,101.81 209.70,101.78 209.73,101.76 209.77,101.73 209.80,101.71 209.84,101.68 209.88,101.66 209.91,101.64 209.95,101.61 209.98,101.59 210.02,101.57 210.06,101.55 210.09,101.53 210.13,101.51 210.16,101.50 210.20,101.48 210.24,101.46 210.27,101.45 210.31,101.43 210.34,101.42 210.38,101.40 210.42,101.39 210.45,101.38 210.49,101.37 210.52,101.36 210.56,101.35 210.60,101.34 210.63,101.33 210.67,101.32 210.70,101.31 210.74,101.30 210.78,101.30 210.81,101.29 210.85,101.29 210.88,101.28 210.92,101.28 210.96,101.28 210.99,101.27 211.03,101.27 211.06,101.27 211.10,101.27 211.14,101.27 211.17,101.27 211.21,101.27 211.24,101.27 211.28,101.27 211.32,101.27 211.35,101.27 211.39,101.27 211.42,101.27 211.46,101.27 211.50,101.28 211.53,101.28 211.57,101.28 211.60,101.29 211.64,101.29 211.68,101.29 211.71,101.30 211.75,101.30 211.78,101.31 211.82,101.31 211.86,101.32 211.89,101.32 211.93,101.33 211.96,101.33 212.00,101.34 212.04,101.34 212.07,101.35 212.11,101.35 212.14,101.36 212.18,101.36 212.22,101.37 212.25,101.37 212.29,101.38 212.32,101.39 212.36,101.39 212.40,101.40 212.43,101.40 212.47,101.41 212.50,101.41 212.54,101.42 212.58,101.42 212.61,101.43 212.65,101.43 212.69,101.44 212.72,101.44 212.76,101.45 212.79,101.45 212.83,101.46 212.87,101.46 212.90,101.46 212.94,101.47 212.97,101.47 213.01,101.48 213.05,101.48 213.08,101.48 213.12,101.49 213.15,101.49 213.19,101.49 213.23,101.50 213.26,101.50 213.30,101.50 213.33,101.51 213.37,101.51 213.41,101.51 213.44,101.51 213.48,101.52 213.51,101.52 213.55,101.52 213.59,101.52 213.62,101.52 213.66,101.53 213.69,101.53 213.73,101.53 213.77,101.53 213.80,101.53 213.84,101.53 213.87,101.53 213.91,101.54 213.95,101.54 213.98,101.54 214.02,101.54 214.05,101.54 214.09,101.54 214.13,101.54 214.16,101.54 214.20,101.54 214.23,101.54 214.27,101.54 214.31,101.54 214.34,101.54 214.38,101.54 214.41,101.54 214.45,101.54 214.49,101.54 214.52,101.54 214.56,101.54 214.59,101.54 214.63,101.54 214.67,101.54 214.70,101.54 214.74,101.54 214.77,101.53 214.81,101.53 214.85,101.53 214.88,101.53 214.92,101.53 214.95,101.53 214.99,101.53 215.03,101.53 215.06,101.53 215.10,101.53 215.13,101.53 215.17,101.53 215.21,101.52 215.24,101.52 215.28,101.52 215.31,101.52 215.35,101.52 215.39,101.52 215.42,101.52 215.46,101.52 215.49,101.52 215.53,101.52 215.57,101.52 215.60,101.51 215.64,101.51 215.67,101.51 215.71,101.51 215.75,101.51 215.78,101.51 215.82,101.51 215.85,101.51 215.89,101.51 215.93,101.51 215.96,101.51 216.00,101.51 216.03,101.51 216.07,101.50 216.11,101.50 216.14,101.50 216.18,101.50 216.21,101.50 216.25,101.50 216.29,101.50 216.32,101.50 216.36,101.50 216.39,101.50 216.43,101.50 216.47,101.50 216.50,101.50 216.54,101.50 216.57,101.50 216.61,101.50 216.65,101.50 216.68,101.50 216.72,101.50 216.75,101.50 216.79,101.50 216.83,101.50 216.86,101.49 216.90,101.49 216.94,101.49 216.97,101.49 217.01,101.49 217.04,101.49 217.08,101.49 217.12,101.49 217.15,101.49 217.19,101.49 217.22,101.49 217.26,101.49 217.30,101.49 217.33,101.49 217.37,101.49 217.40,101.49 217.44,101.49 217.48,101.49 217.51,101.49 217.55,101.49 217.58,101.49 217.62,101.49 217.66,101.49 217.69,101.49 217.73,101.49 217.76,101.49 217.80,101.49 217.84,101.49 217.87,101.49 217.91,101.49 217.94,101.49 217.98,101.49 218.02,101.49 218.05,101.49 218.09,101.49 218.12,101.50 218.16,101.50 218.20,101.50 218.23,101.50 218.27,101.50 218.30,101.50 218.34,101.50 218.38,101.50 218.41,101.50 218.45,101.50 218.48,101.50 218.52,101.50 218.56,101.50 218.59,101.50 218.63,101.50 218.66,101.50 218.70,101.50 218.74,101.50 218.77,101.50 218.81,101.50 218.84,101.50 218.88,101.50 218.92,101.50 218.95,101.50 218.99,101.50 219.02,101.50 219.06,101.50 219.10,101.50 219.13,101.50 219.17,101.50 219.20,101.50 219.24,101.50 219.28,101.50 219.31,101.50 219.35,101.50 219.38,101.50 219.42,101.50 219.46,101.50 219.49,101.50 219.53,101.50 219.56,101.50 219.60,101.50 219.64,101.50 219.67,101.50 219.71,101.50 219.74,101.50 219.78,101.50 219.82,101.50 219.85,101.50 219.89,101.50 219.92,101.50 219.96,101.50 220.00,101.50 220.03,101.50 220.07,101.50 220.10,101.50 220.14,101.50 220.18,101.50 220.21,101.50 220.25,101.50 220.28,101.50 220.32,101.50 220.36,101.50 220.39,101.50 220.43,101.50 220.46,101.50 220.50,101.50 220.54,101.50 220.57,101.50 220.61,101.50 220.64,101.50 220.68,101.50 220.72,101.50 220.75,101.50 220.79,101.50 220.82,101.50 220.86,101.50 220.90,101.50 220.93,101.50 220.97,101.50 221.00,101.50 221.04,101.50 221.08,101.50 221.11,101.50 221.15,101.50 221.19,101.50 221.22,101.50 221.26,101.50 221.29,101.50 221.33,101.50 221.37,101.50 221.40,101.50 221.44,101.50 221.47,101.50 221.51,101.50 221.55,101.50 221.58,101.50 221.62,101.50 221.65,101.50 221.69,101.50 221.73,101.50 221.76,101.50 221.80,101.50 221.83,101.50 221.87,101.50 221.91,101.50 221.94,101.50 221.98,101.50 222.01,101.50 222.05,101.50 222.09,101.50 222.12,101.50 222.16,101.50 222.19,101.50 222.23,101.50 222.27,101.50 222.30,101.50 222.34,101.50 222.37,101.50 222.41,101.50 222.45,101.50 222.48,101.50 222.52,101.50 222.55,101.50 222.59,101.50 222.63,101.50 222.66,101.50 222.70,101.50 222.73,101.50 222.77,101.50 222.81,101.50 222.84,101.50 222.88,101.50 222.91,101.50 222.95,101.50 222.99,101.50 223.02,101.50 223.06,101.50 223.09,101.50 223.13,101.50 223.17,101.50 223.20,101.50 223.24,101.50 223.27,101.50 223.31,101.50 223.35,101.50 223.38,101.50 223.42,101.50 223.45,101.50 223.49,101.50 223.53,101.50 223.56,101.50 223.60,101.50 223.63,101.50 223.67,101.50 223.71,101.50 223.74,101.50 223.78,101.50 223.81,101.50 223.85,101.50 223.89,101.50 223.92,101.50 223.96,101.50 223.99,101.50 224.03,101.50 224.07,101.50 224.10,101.50 224.14,101.50 224.17,101.50 224.21,101.50 224.25,101.50 224.28,101.50 224.32,101.50 224.35,101.50 224.39,101.50 224.43,101.50 224.46,101.50 224.50,101.50 224.53,101.50 224.57,101.50 224.61,101.50 224.64,101.50 224.68,101.50 224.71,101.50 224.75,101.50 224.79,101.50 224.82,101.50 224.86,101.50 224.89,101.50 224.93,101.50 224.97,101.50 225.00,101.50 225.04,101.50 225.07,101.50 225.11,101.50 225.15,101.50 225.18,101.50 225.22,101.50 225.25,101.50 225.29,101.50 225.33,101.50 225.36,101.50 225.40,101.50 225.43,101.50 225.47,101.50 225.51,101.50 225.54,101.50 225.58,101.50 225.62,101.50 225.65,101.50 225.69,101.50 225.72,101.50 225.76,101.50 225.80,101.50 225.83,101.50 225.87,101.50 225.90,101.50 225.94,101.50 225.98,101.50 226.01,101.50 226.05,101.50 226.08,101.50 226.12,101.50 226.16,101.50 226.19,101.50 226.23,101.50 226.26,101.50 226.30,101.50 226.34,101.50 226.37,101.50 226.41,101.50 226.44,101.50 226.48,101.50 226.52,101.50 226.55,101.50 226.59,101.50 226.62,101.50 226.66,101.50 226.70,101.50 226.73,101.50 226.77,101.50 226.80,101.50 226.84,101.50 226.88,101.50 226.91,101.50 226.95,101.50 226.98,101.50 227.02,101.50 227.06,101.50 227.09,101.50 227.13,101.50 227.16,101.50 227.20,101.50 227.24,101.50 227.27,101.50 227.31,101.50 227.34,101.50 227.38,101.50 227.42,101.50 227.45,101.50 227.49,101.50 227.52,101.50 227.56,101.50 227.60,101.50 227.63,101.50 227.67,101.50 227.70,101.50 227.74,101.50 227.78,101.50 227.81,101.50 227.85,101.50 227.88,101.50 227.92,101.50 227.96,101.50 227.99,101.50 228.03,101.50 228.06,101.50 228.10,101.50 228.14,101.50 228.17,101.50 228.21,101.50 228.24,101.50 228.28,101.50 228.32,101.50 228.35,101.50 228.39,101.50 228.42,101.50 228.46,101.50 228.50,101.50 228.53,101.50 228.57,101.50 228.60,101.50 228.64,101.50 228.68,101.50 228.71,101.50 228.75,101.50 228.78,101.50 228.82,101.50 228.86,101.50 228.89,101.50 228.93,101.50 228.96,101.50 229.00,101.50 229.04,101.50 229.07,101.50 229.11,101.50 229.14,101.50 229.18,101.50 229.22,101.50 229.25,101.50 229.29,101.50 229.32,101.50 229.36,101.50 229.40,101.50 229.43,101.50 229.47,101.50 229.50,101.50 229.54,101.50 229.58,101.50 229.61,101.50 229.65,101.50 229.68,101.50 229.72,101.50 229.76,101.50 229.79,101.50 229.83,101.50 229.87,101.50 229.90,101.50 229.94,101.50 229.97,101.50 230.01,101.50 230.05,101.50 230.08,101.50 230.12,101.50 230.15,101.50 230.19,101.50 230.23,101.50 230.26,101.50 230.30,101.50 230.33,101.50 230.37,101.50 230.41,101.50 230.44,101.50 230.48,101.50 230.51,101.50 230.55,101.50 230.59,101.50 230.62,101.50 230.66,101.50 230.69,101.50 230.73,101.50 230.77,101.50 230.80,101.50 230.84,101.50 230.87,101.50 230.91,101.50 230.95,101.50 230.98,101.50 231.02,101.50 231.05,101.50 231.09,101.50 231.13,101.50 231.16,101.50 231.20,101.50 231.23,101.50 231.27,101.50 231.31,101.50 231.34,101.50 231.38,101.50 231.41,101.50 231.45,101.50 231.49,101.50 231.52,101.50 231.56,101.50 231.59,101.50 231.63,101.50 231.67,101.50 231.70,101.50 231.74,101.50 231.77,101.50 231.81,101.50 231.85,101.50 231.88,101.50 231.92,101.50 231.95,101.50 231.99,101.50 232.03,101.50 232.06,101.50 232.10,101.50 232.13,101.50 232.17,101.50 232.21,101.50 232.24,101.50 232.28,101.50 232.31,101.50 232.35,101.50 232.39,101.50 232.42,101.50 232.46,101.50 232.49,101.50 232.53,101.50 232.57,101.50 232.60,101.50 232.64,101.50 232.67,101.50 232.71,101.50 232.75,101.50 232.78,101.50 232.82,101.50 232.85,101.50 232.89,101.50 232.93,101.50 232.96,101.50 233.00,101.50 233.03,101.50 233.07,101.50 233.11,101.50 233.14,101.50 233.18,101.50 233.21,101.50 233.25,101.50 233.29,101.50 233.32,101.50 233.36,101.50 233.39,101.50 233.43,101.50 233.47,101.50 233.50,101.50 233.54,101.50 233.57,101.50 233.61,101.50 233.65,101.50 233.68,101.50 233.72,101.50 233.75,101.50 233.79,101.50 233.83,101.50 233.86,101.50 233.90,101.50 233.93,101.50 233.97,101.50 234.01,101.50 234.04,101.50 234.08,101.50 234.11,101.50 234.15,101.50 234.19,101.50 234.22,101.50 234.26,101.50 234.30,101.50 234.33,101.50 234.37,101.50 234.40,101.50 234.44,101.50 234.48,101.50 234.51,101.50 234.55,101.50 234.58,101.50 234.62,101.50 234.66,101.50 234.69,101.50 234.73,101.50 234.76,101.50 234.80,101.50 234.84,101.50 234.87,101.50 234.91,101.50 234.94,101.50 234.98,101.50 235.02,101.50 235.05,101.50 235.09,101.50 235.12,101.50 235.16,101.50 235.20,101.50 235.23,101.50 235.27,101.50 235.30,101.50 235.34,101.50 235.38,101.50 235.41,101.50 235.45,101.50 235.48,101.50 235.52,101.50 235.56,101.50 235.59,101.50 235.63,101.50 235.66,101.50 235.70,101.50 235.74,101.50 235.77,101.50 235.81,101.50 235.84,101.50 235.88,101.50 235.92,101.50 235.95,101.50 235.99,101.50 236.02,101.50 236.06,101.50 236.10,101.50 236.13,101.50 236.17,101.50 236.20,101.50 236.24,101.50 236.28,101.50 236.31,101.50 236.35,101.50 236.38,101.50 236.42,101.50 236.46,101.50 236.49,101.50 236.53,101.50 236.56,101.50 236.60,101.50 236.64,101.50 236.67,101.50 236.71,101.50 236.74,101.50 236.78,101.50 236.82,101.50 236.85,101.50 236.89,101.50 236.92,101.50 236.96,101.50 237.00,101.50 237.03,101.50 237.07,101.50 237.10,101.50 237.14,101.50 237.18,101.50 237.21,101.50 237.25,101.50 237.28,101.50 237.32,101.50 237.36,101.50 237.39,101.50 237.43,101.50 237.46,101.50 237.50,101.50 237.54,101.50 237.57,101.50 237.61,101.50 237.64,101.50 237.68,101.50 237.72,101.50 237.75,101.50 237.79,101.50 237.82,101.50 237.86,101.50 237.90,101.50 237.93,101.50 237.97,101.50 238.00,101.50 238.04,101.50 238.08,101.50 238.11,101.50 238.15,101.50 238.18,101.50 238.22,101.50 238.26,101.50 238.29,101.50 238.33,101.50 238.36,101.50 238.40,101.50 238.44,101.50 238.47,101.50 238.51,101.50 238.55,101.50 238.58,101.50 238.62,101.50 238.65,101.50 238.69,101.50 238.73,101.50 238.76,101.50 238.80,101.50 238.83,101.50 238.87,101.50 238.91,101.50 238.94,101.50 238.98,101.50 239.01,101.50 239.05,101.50 239.09,101.50 239.12,101.50 239.16,101.50 239.19,101.50 239.23,101.50 239.27,101.50 239.30,101.50 239.34,101.50 239.37,101.50 239.41,101.50 239.45,101.50 239.48,101.50 239.52,101.50 239.55,101.50 239.59,101.50 239.63,101.50 239.66,101.50 239.70,101.50 239.73,101.50 239.77,101.50 239.81,101.50 239.84,101.50 239.88,101.50 239.91,101.50 239.95,101.50 239.99,101.50 240.02,101.50 240.06,101.50 240.09,101.50 240.13,101.50 240.17,101.50 240.20,101.50 240.24,101.50 240.27,101.50 240.31,101.50 240.35,101.50 240.38,101.50 240.42,101.50 240.45,101.50 240.49,101.50 240.53,101.50 240.56,101.50 240.60,101.50 240.63,101.50 240.67,101.50 240.71,101.50 240.74,101.50 240.78,101.50 240.81,101.50 240.85,101.50 240.89,101.50 240.92,101.50 240.96,101.50 240.99,101.50 241.03,101.50 241.07,101.50 241.10,101.50 241.14,101.50 241.17,101.50 241.21,101.50 241.25,101.50 241.28,101.50 241.32,101.50 241.35,101.50 241.39,101.50 241.43,101.50 241.46,101.50 241.50,101.50 241.53,101.50 241.57,101.50 241.61,101.50 241.64,101.50 241.68,101.50 241.71,101.50 241.75,101.50 241.79,101.50 241.82,101.50 241.86,101.50 241.89,101.50 241.93,101.50 241.97,101.50 242.00,101.50 242.04,101.50 242.07,101.50 242.11,101.50 242.15,101.50 242.18,101.50 242.22,101.50 242.25,101.50 242.29,101.50 242.33,101.50 242.36,101.50 242.40,101.50 242.43,101.50 242.47,101.50 242.51,101.50 242.54,101.50 242.58,101.50 242.61,101.50 242.65,101.50 242.69,101.50 242.72,101.50 242.76,101.50 242.79,101.50 242.83,101.50 242.87,101.50 242.90,101.50 242.94,101.50 242.98,101.50 243.01,101.50 243.05,101.50 243.08,101.50 243.12,101.50 243.16,101.50 243.19,101.50 243.23,101.50 243.26,101.50 243.30,101.50 243.34,101.50 243.37,101.50 243.41,101.50 243.44,101.50 243.48,101.50 243.52,101.50 243.55,101.50 243.59,101.50 243.62,101.50 243.66,101.50 243.70,101.50 243.73,101.50 243.77,101.50 243.80,101.50 243.84,101.50 243.88,101.50 243.91,101.50 243.95,101.50 243.98,101.50 244.02,101.50 244.06,101.50 244.09,101.50 244.13,101.50 244.16,101.50 244.20,101.50 244.24,101.50 244.27,101.50 244.31,101.50 244.34,101.50 244.38,101.50 244.42,101.50 244.45,101.50 244.49,101.50 244.52,101.50 244.56,101.50 244.60,101.50 244.63,101.50 244.67,101.50 244.70,101.50 244.74,101.50 244.78,101.50 244.81,101.50 244.85,101.50 244.88,101.50 244.92,101.50 244.96,101.50 244.99,101.50 245.03,101.50 245.06,101.50 245.10,101.50 245.14,101.50 245.17,101.50 245.21,101.50 245.24,101.50 245.28,101.50 245.32,101.50 245.35,101.50 245.39,101.50 245.42,101.50 245.46,101.50 245.50,101.50 245.53,101.50 245.57,101.50 245.60,101.50 245.64,101.50 245.68,101.50 245.71,101.50 245.75,101.50 245.78,101.50 245.82,101.50 245.86,101.50 245.89,101.50 245.93,101.50 245.96,101.50 246.00,101.50 246.04,101.50 246.07,101.50 246.11,101.50 246.14,101.50 246.18,101.50 246.22,101.50 246.25,101.50 246.29,101.50 246.32,101.50 246.36,101.50 246.40,101.50 246.43,101.50 246.47,101.50 246.50,101.50 246.54,101.50 246.58,101.50 246.61,101.50 246.65,101.50 246.68,101.50 246.72,101.50 246.76,101.50 246.79,101.50 246.83,101.50 246.86,101.50 246.90,101.50 246.94,101.50 246.97,101.50 247.01,101.50 247.04,101.50 247.08,101.50 247.12,101.50 247.15,101.50 247.19,101.50 247.23,101.50 247.26,101.50 247.30,101.50 247.33,101.50 247.37,101.50 247.41,101.50 247.44,101.50 247.48,101.50 247.51,101.50 247.55,101.50 247.59,101.50 247.62,101.50 247.66,101.50 247.69,101.50 247.73,101.50 247.77,101.50 247.80,101.50 247.84,101.50 247.87,101.50 247.91,101.50 247.95,101.50 247.98,101.50 248.02,101.50 248.05,101.50 248.09,101.50 248.13,101.50 248.16,101.50 248.20,101.50 248.23,101.50 248.27,101.50 248.31,101.50 248.34,101.50 248.38,101.50 248.41,101.50 248.45,101.50 248.49,101.50 248.52,101.50 248.56,101.50 248.59,101.50 248.63,101.50 248.67,101.50 248.70,101.50 248.74,101.50 248.77,101.50 248.81,101.50 248.85,101.50 248.88,101.50 248.92,101.50 248.95,101.50 248.99,101.50 249.03,101.50 249.06,101.50 249.10,101.50 249.13,101.50 249.17,101.50 249.21,101.50 249.24,101.50 249.28,101.50 249.31,101.50 249.35,101.50 249.39,101.50 249.42,101.50 249.46,101.50 249.49,101.50 249.53,101.50 249.57,101.50 249.60,101.50 249.64,101.50 249.67,101.50 249.71,101.50 249.75,101.50 249.78,101.50 249.82,101.50 249.85,101.50 249.89,101.50 249.93,101.50 249.96,101.50 250.00,101.50 250.03,101.50 250.07,101.50 250.11,101.50 250.14,101.50 250.18,101.50 250.21,101.50 250.25,101.50 250.29,101.50 250.32,101.50 250.36,101.50 250.39,101.50 250.43,101.50 250.47,101.50 250.50,101.50 250.54,101.50 250.57,101.50 250.61,101.50 250.65,101.50 250.68,101.50 250.72,101.50 250.75,101.50 250.79,101.50 250.83,101.50 250.86,101.50 250.90,101.50 250.93,101.50 250.97,101.50 251.01,101.50 251.04,101.50 251.08,101.50 251.11,101.50 251.15,101.50 251.19,101.50 251.22,101.50 251.26,101.50 251.29,101.50 251.33,101.50 251.37,101.50 251.40,101.50 251.44,101.50 251.48,101.50 251.51,101.50 251.55,101.50 251.58,101.50 251.62,101.50 251.66,101.50 251.69,101.50 251.73,101.50 251.76,101.50 251.80,101.50 251.84,101.50 251.87,101.50 251.91,101.50 251.94,101.50 251.98,101.50 252.02,101.50 252.05,101.50 252.09,101.50 252.12,101.50 252.16,101.50 252.20,101.50 252.23,101.50 252.27,101.50 252.30,101.50 252.34,101.50 252.38,101.50 252.41,101.50 252.45,101.50 252.48,101.50 252.52,101.50 252.56,101.50 252.59,101.50 252.63,101.50 252.66,101.50 252.70,101.50 252.74,101.50 252.77,101.50 252.81,101.50 252.84,101.50 252.88,101.50 252.92,101.50 252.95,101.50 252.99,101.50 253.02,101.50 253.06,101.50 253.10,101.50 253.13,101.50 253.17,101.50 253.20,101.50 253.24,101.50 253.28,101.50 253.31,101.50 253.35,101.50 253.38,101.50 253.42,101.50 253.46,101.50 253.49,101.50 253.53,101.50 253.56,101.50 253.60,101.50" fill="none" stroke="#3a90d4" stroke-width="0.6" stroke-linejoin="round" />
<polyline points="37.50,178.50 37.61,178.50 37.72,178.50 37.82,178.50 37.93,178.50 38.04,178.50 38.15,178.50 38.26,178.50 38.36,178.50 38.47,178.50 38.58,178.50 38.69,178.50 38.80,178.50 38.90,178.50 39.01,178.50 39.12,178.50 39.23,178.50 39.34,178.50 39.44,178.50 39.55,178.50 39.66,178.50 39.77,178.50 39.88,178.50 39.99,178.50 40.09,178.50 40.20,178.50 40.31,178.50 40.42,178.50 40.53,178.50 40.63,178.50 40.74,178.50 40.85,178.50 40.96,178.50 41.07,178.50 41.17,178.50 41.28,178.50 41.39,178.50 41.50,178.50 41.61,178.50 41.71,178.50 41.82,178.50 41.93,178.50 42.04,178.50 42.15,178.50 42.25,178.50 42.36,178.50 42.47,178.50 42.58,178.50 42.69,178.50 42.79,178.50 42.90,178.50 43.01,178.50 43.12,178.50 43.23,178.50 43.33,178.50 43.44,178.50 43.55,178.50 43.66,178.50 43.77,178.50 43.87,178.50 43.98,178.50 44.09,178.50 44.20,178.50 44.31,178.50 44.42,178.50 44.52,178.50 44.63,178.50 44.74,178.50 44.85,178.50 44.96,178.50 45.06,178.50 45.17,178.50 45.28,178.50 45.39,178.50 45.50,178.50 45.60,178.50 45.71,178.50 45.82,178.50 45.93,178.50 46.04,178.50 46.14,178.50 46.25,178.50 46.36,178.50 46.47,178.50 46.58,178.50 46.68,178.50 46.79,178.50 46.90,178.50 47.01,178.50 47.12,178.50 47.22,178.50 47.33,178.50 47.44,178.50 47.55,178.50 47.66,178.50 47.76,178.50 47.87,178.50 47.98,178.50 48.09,178.50 48.20,178.50 48.30,178.50 48.41,178.50 48.52,178.50 48.63,178.50 48.74,178.50 48.85,178.50 48.95,178.50 49.06,178.50 49.17,178.50 49.28,178.50 49.39,178.50 49.49,178.50 49.60,178.50 49.71,178.50 49.82,178.50 49.93,178.50 50.03,178.50 50.14,178.50 50.25,178.50 50.36,178.50 50.47,178.50 50.57,178.50 50.68,178.50 50.79,178.50 50.90,178.50 51.01,178.50 51.11,178.50 51.22,178.50 51.33,178.50 51.44,178.50 51.55,178.50 51.65,178.50 51.76,178.50 51.87,178.50 51.98,178.50 52.09,178.50 52.19,178.50 52.30,178.50 52.41,178.50 52.52,178.50 52.63,178.50 52.74,178.50 52.84,178.50 52.95,178.50 53.06,178.50 53.17,178.50 53.28,178.50 53.38,178.50 53.49,178.50 53.60,178.50 53.71,178.50 53.82,178.50 53.92,178.50 54.03,178.50 54.14,178.50 54.25,178.50 54.36,178.50 54.46,178.50 54.57,178.50 54.68,178.50 54.79,178.50 54.90,178.50 55.00,178.50 55.11,178.50 55.22,178.50 55.33,178.50 55.44,178.50 55.54,178.50 55.65,178.50 55.76,178.50 55.87,178.50 55.98,178.50 56.08,178.50 56.19,178.50 56.30,178.50 56.41,178.50 56.52,178.50 56.62,178.50 56.73,178.50 56.84,178.50 56.95,178.50 57.06,178.50 57.17,178.50 57.27,178.50 57.38,178.50 57.49,178.50 57.60,178.50 57.71,178.50 57.81,178.50 57.92,178.50 58.03,178.50 58.14,178.50 58.25,178.50 58.35,178.50 58.46,178.50 58.57,178.50 58.68,178.50 58.79,178.50 58.89,178.50 59.00,178.50 59.11,178.50 59.22,178.50 59.33,178.50 59.43,178.50 59.54,178.50 59.65,178.50 59.76,178.50 59.87,178.50 59.97,178.50 60.08,178.50 60.19,178.50 60.30,178.50 60.41,178.50 60.51,178.50 60.62,178.50 60.73,178.50 60.84,178.50 60.95,178.50 61.05,178.50 61.16,178.50 61.27,178.50 61.38,178.50 61.49,178.50 61.60,178.50 61.70,178.50 61.81,178.50 61.92,178.50 62.03,178.50 62.14,178.50 62.24,178.50 62.35,178.50 62.46,178.50 62.57,178.50 62.68,178.50 62.78,178.50 62.89,178.50 63.00,178.50 63.11,178.50 63.22,178.50 63.32,178.50 63.43,178.50 63.54,178.50 63.65,178.50 63.76,178.50 63.86,178.50 63.97,178.50 64.08,178.50 64.19,178.50 64.30,178.50 64.40,178.50 64.51,178.50 64.62,178.50 64.73,178.50 64.84,178.50 64.94,178.50 65.05,178.50 65.16,178.50 65.27,178.50 65.38,178.50 65.48,178.50 65.59,178.50 65.70,178.50 65.81,178.50 65.92,178.50 66.03,178.50 66.13,178.50 66.24,178.50 66.35,178.50 66.46,178.50 66.57,178.50 66.67,178.50 66.78,178.50 66.89,178.50 67.00,178.50 67.11,178.50 67.21,178.50 67.32,178.50 67.43,178.50 67.54,178.50 67.65,178.50 67.75,178.50 67.86,178.50 67.97,178.50 68.08,178.50 68.19,178.50 68.29,178.50 68.40,178.50 68.51,178.50 68.62,178.50 68.73,178.50 68.83,178.50 68.94,178.50 69.05,178.50 69.16,178.50 69.27,178.50 69.37,178.50 69.48,178.50 69.59,178.50 69.70,178.50 69.81,178.50 69.91,178.50 70.02,178.50 70.13,178.50 70.24,178.50 70.35,178.50 70.46,178.50 70.56,178.50 70.67,178.50 70.78,178.50 70.89,178.50 71.00,178.50 71.10,178.50 71.21,178.50 71.32,178.50 71.43,178.50 71.54,178.50 71.64,178.50 71.75,178.50 71.86,178.50 71.97,178.50 72.08,178.50 72.18,178.50 72.29,178.50 72.40,178.50 72.51,178.50 72.62,178.50 72.72,178.50 72.83,178.50 72.94,178.50 73.05,178.50 73.16,178.50 73.26,178.50 73.37,178.50 73.48,178.50 73.59,178.50 73.70,178.50 73.80,178.50 73.91,178.50 74.02,178.50 74.13,178.50 74.24,178.50 74.35,178.50 74.45,178.50 74.56,178.50 74.67,178.50 74.78,178.50 74.89,178.50 74.99,178.50 75.10,178.50 75.21,178.50 75.32,178.50 75.43,178.50 75.53,178.50 75.64,178.50 75.75,178.50 75.86,178.50 75.97,178.50 76.07,178.50 76.18,178.50 76.29,178.50 76.40,178.50 76.51,178.50 76.61,178.50 76.72,178.50 76.83,178.50 76.94,178.50 77.05,178.50 77.15,178.50 77.26,178.50 77.37,178.50 77.48,178.50 77.59,178.50 77.69,178.50 77.80,178.50 77.91,178.50 78.02,178.50 78.13,178.50 78.23,178.50 78.34,178.50 78.45,178.50 78.56,178.50 78.67,178.50 78.78,178.50 78.88,178.50 78.99,178.50 79.10,178.50 79.21,178.50 79.32,178.50 79.42,178.50 79.53,178.50 79.64,178.50 79.75,178.50 79.86,178.50 79.96,178.50 80.07,178.50 80.18,178.50 80.29,178.50 80.40,178.50 80.50,178.50 80.61,178.50 80.72,178.50 80.83,178.50 80.94,178.50 81.04,178.50 81.15,178.50 81.26,178.50 81.37,178.50 81.48,178.50 81.58,178.50 81.69,178.50 81.80,178.50 81.91,178.50 82.02,178.50 82.12,178.50 82.23,178.50 82.34,178.50 82.45,178.50 82.56,178.50 82.66,178.50 82.77,178.50 82.88,178.50 82.99,178.50 83.10,178.50 83.21,178.50 83.31,178.50 83.42,178.50 83.53,178.50 83.64,178.50 83.75,178.50 83.85,178.50 83.96,178.50 84.07,178.50 84.18,178.50 84.29,178.50 84.39,178.50 84.50,178.50 84.61,178.50 84.72,178.50 84.83,178.50 84.93,178.50 85.04,178.50 85.15,178.50 85.26,178.50 85.37,178.50 85.47,178.50 85.58,178.50 85.69,178.50 85.80,178.50 85.91,178.50 86.01,178.50 86.12,178.50 86.23,178.50 86.34,178.50 86.45,178.50 86.55,178.50 86.66,178.50 86.77,178.50 86.88,178.50 86.99,178.50 87.09,178.50 87.20,178.50 87.31,178.50 87.42,178.50 87.53,178.50 87.64,178.50 87.74,178.50 87.85,178.50 87.96,178.50 88.07,178.50 88.18,178.50 88.28,178.50 88.39,178.50 88.50,178.50 88.61,178.50 88.72,178.50 88.82,178.50 88.93,178.50 89.04,178.50 89.15,178.50 89.26,178.50 89.36,178.50 89.47,178.50 89.58,178.50 89.69,178.50 89.80,178.50 89.90,178.50 90.01,178.50 90.12,178.50 90.23,178.50 90.34,178.50 90.44,178.50 90.55,178.50 90.66,178.50 90.77,178.50 90.88,178.50 90.98,178.50 91.09,178.50 91.20,178.50 91.31,178.50 91.42,178.50 91.53,178.50 91.63,178.50 91.74,178.50 91.85,178.50 91.96,178.50 92.07,178.50 92.17,178.50 92.28,178.50 92.39,178.50 92.50,178.50 92.61,178.50 92.71,178.50 92.82,178.50 92.93,178.50 93.04,178.50 93.15,178.50 93.25,178.50 93.36,178.50 93.47,178.50 93.58,178.50 93.69,178.50 93.79,178.50 93.90,178.50 94.01,178.50 94.12,178.50 94.23,178.50 94.33,178.50 94.44,178.50 94.55,178.50 94.66,178.50 94.77,178.50 94.87,178.50 94.98,178.50 95.09,178.50 95.20,178.50 95.31,178.50 95.41,178.50 95.52,178.50 95.63,178.50 95.74,178.50 95.85,178.50 95.96,178.50 96.06,178.50 96.17,178.50 96.28,178.50 96.39,178.50 96.50,178.50 96.60,178.50 96.71,178.50 96.82,178.50 96.93,178.50 97.04,178.50 97.14,178.50 97.25,178.50 97.36,178.50 97.47,178.50 97.58,178.50 97.68,178.50 97.79,178.50 97.90,178.50 98.01,178.50 98.12,178.50 98.22,178.50 98.33,178.50 98.44,178.50 98.55,178.50 98.66,178.50 98.76,178.50 98.87,178.50 98.98,178.50 99.09,178.50 99.20,178.50 99.30,178.50 99.41,178.50 99.52,178.50 99.63,178.50 99.74,178.50 99.84,178.50 99.95,178.50 100.06,178.50 100.17,178.50 100.28,178.50 100.39,178.50 100.49,178.50 100.60,178.50 100.71,178.50 100.82,178.50 100.93,178.50 101.03,178.50 101.14,178.50 101.25,178.50 101.36,178.50 101.47,178.50 101.57,178.50 101.68,178.50 101.79,178.50 101.90,178.50 102.01,178.50 102.11,178.50 102.22,178.50 102.33,178.50 102.44,178.50 102.55,178.50 102.65,178.50 102.76,178.50 102.87,178.50 102.98,178.50 103.09,178.50 103.19,178.50 103.30,178.50 103.41,178.50 103.52,178.50 103.63,178.50 103.73,178.50 103.84,178.50 103.95,178.50 104.06,178.50 104.17,178.50 104.27,178.50 104.38,178.50 104.49,178.50 104.60,178.50 104.71,178.50 104.82,178.50 104.92,178.50 105.03,178.50 105.14,178.50 105.25,178.50 105.36,178.50 105.46,178.50 105.57,178.50 105.68,178.50 105.79,178.50 105.90,178.50 106.00,178.50 106.11,178.50 106.22,178.50 106.33,178.50 106.44,178.50 106.54,178.50 106.65,178.50 106.76,178.50 106.87,178.50 106.98,178.50 107.08,178.50 107.19,178.50 107.30,178.50 107.41,178.50 107.52,178.50 107.62,178.50 107.73,178.50 107.84,178.50 107.95,178.50 108.06,178.50 108.16,178.50 108.27,178.50 108.38,178.50 108.49,178.50 108.60,178.50 108.70,178.50 108.81,178.50 108.92,178.50 109.03,178.50 109.14,178.50 109.25,178.50 109.35,178.50 109.46,178.50 109.57,178.50 109.68,178.50 109.79,178.50 109.89,178.50 110.00,178.50 110.11,178.50 110.22,178.50 110.33,178.50 110.43,178.50 110.54,178.50 110.65,178.50 110.76,178.50 110.87,178.50 110.97,178.50 111.08,178.50 111.19,178.50 111.30,178.50 111.41,178.50 111.51,178.50 111.62,178.50 111.73,178.50 111.84,178.50 111.95,178.50 112.05,178.50 112.16,178.50 112.27,178.50 112.38,178.50 112.49,178.50 112.59,178.50 112.70,178.50 112.81,178.50 112.92,178.50 113.03,178.50 113.14,178.50 113.24,178.50 113.35,178.50 113.46,178.50 113.57,178.50 113.68,178.50 113.78,178.50 113.89,178.50 114.00,178.50 114.11,178.50 114.22,178.50 114.32,178.50 114.43,178.50 114.54,178.50 114.65,178.50 114.76,178.50 114.86,178.50 114.97,178.50 115.08,178.50 115.19,178.50 115.30,178.50 115.40,178.50 115.51,178.50 115.62,178.50 115.73,178.50 115.84,178.50 115.94,178.50 116.05,178.50 116.16,178.50 116.27,178.50 116.38,178.50 116.48,178.50 116.59,178.50 116.70,178.50 116.81,178.50 116.92,178.50 117.02,178.50 117.13,178.50 117.24,178.50 117.35,178.50 117.46,178.50 117.57,178.50 117.67,178.50 117.78,178.50 117.89,178.50 118.00,178.50 118.11,178.50 118.21,178.50 118.32,178.50 118.43,178.50 118.54,178.50 118.65,178.50 118.75,178.50 118.86,178.50 118.97,178.50 119.08,178.50 119.19,178.50 119.29,178.50 119.40,178.50 119.51,178.50 119.62,178.50 119.73,178.50 119.83,178.50 119.94,178.50 120.05,178.50 120.16,178.50 120.27,178.50 120.37,178.50 120.48,178.50 120.59,178.50 120.70,178.50 120.81,178.50 120.91,178.50 121.02,178.50 121.13,178.50 121.24,178.50 121.35,178.50 121.45,178.50 121.56,178.50 121.67,178.50 121.78,178.50 121.89,178.50 122.00,178.50 122.10,178.50 122.21,178.50 122.32,178.50 122.43,178.50 122.54,178.50 122.64,178.50 122.75,178.50 122.86,178.50 122.97,178.50 123.08,178.50 123.18,178.50 123.29,178.50 123.40,178.50 123.51,178.50 123.62,178.50 123.72,178.50 123.83,178.50 123.94,178.50 124.05,178.50 124.16,178.50 124.26,178.50 124.37,178.50 124.48,178.50 124.59,178.50 124.70,178.50 124.80,178.50 124.91,178.50 125.02,178.50 125.13,178.50 125.24,178.50 125.34,178.50 125.45,178.50 125.56,178.50 125.67,178.50 125.78,178.50 125.88,178.50 125.99,178.50 126.10,178.50 126.21,178.50 126.32,178.50 126.43,178.50 126.53,178.50 126.64,178.50 126.75,178.50 126.86,178.50 126.97,178.50 127.07,178.50 127.18,178.50 127.29,178.50 127.40,178.50 127.51,178.50 127.61,178.50 127.72,178.50 127.83,178.50 127.94,178.50 128.05,178.50 128.15,178.50 128.26,178.50 128.37,178.50 128.48,178.50 128.59,178.50 128.69,178.50 128.80,178.50 128.91,178.50 129.02,178.50 129.13,178.50 129.23,178.50 129.34,178.50 129.45,178.50 129.56,178.50 129.67,178.50 129.77,178.50 129.88,178.50 129.99,178.50 130.10,178.50 130.21,178.50 130.31,178.50 130.42,178.50 130.53,178.50 130.64,178.50 130.75,178.50 130.86,178.50 130.96,178.50 131.07,178.50 131.18,178.50 131.29,178.50 131.40,178.50 131.50,178.50 131.61,178.50 131.72,178.50 131.83,178.50 131.94,178.50 132.04,178.50 132.15,178.50 132.26,178.50 132.37,178.50 132.48,178.50 132.58,178.50 132.69,178.50 132.80,178.50 132.91,178.50 133.02,178.50 133.12,178.50 133.23,178.50 133.34,178.50 133.45,178.50 133.56,178.50 133.66,178.50 133.77,178.50 133.88,178.50 133.99,178.50 134.10,178.50 134.20,178.50 134.31,178.50 134.42,178.50 134.53,178.50 134.64,178.50 134.75,178.50 134.85,178.50 134.96,178.50 135.07,178.50 135.18,178.50 135.29,178.50 135.39,178.50 135.50,178.50 135.61,178.50 135.72,178.50 135.83,178.50 135.93,178.50 136.04,178.50 136.15,178.50 136.26,178.50 136.37,178.50 136.47,178.50 136.58,178.50 136.69,178.50 136.80,178.50 136.91,178.50 137.01,178.50 137.12,178.50 137.23,178.50 137.34,178.50 137.45,178.50 137.55,178.50 137.66,178.50 137.77,178.50 137.88,178.50 137.99,178.50 138.09,178.50 138.20,178.50 138.31,178.50 138.42,178.50 138.53,178.50 138.63,178.50 138.74,178.50 138.85,178.50 138.96,178.50 139.07,178.50 139.18,178.50 139.28,178.50 139.39,178.50 139.50,178.50 139.61,178.50 139.72,178.50 139.82,178.50 139.93,178.50 140.04,178.50 140.15,178.50 140.26,178.50 140.36,178.50 140.47,178.50 140.58,178.50 140.69,178.50 140.80,178.50 140.90,178.50 141.01,178.50 141.12,178.50 141.23,178.50 141.34,178.50 141.44,178.50 141.55,178.50 141.66,178.50 141.77,178.50 141.88,178.50 141.98,178.50 142.09,178.50 142.20,178.50 142.31,178.50 142.42,178.50 142.52,178.50 142.63,178.50 142.74,178.50 142.85,178.50 142.96,178.50 143.06,178.50 143.17,178.50 143.28,178.50 143.39,178.50 143.50,178.50 143.61,178.50 143.71,178.50 143.82,178.50 143.93,178.50 144.04,178.50 144.15,178.50 144.25,178.50 144.36,178.50 144.47,178.50 144.58,178.50 144.69,178.50 144.79,178.50 144.90,178.50 145.01,178.50 145.12,178.50 145.23,178.50 145.33,178.50 145.44,178.50 145.55,178.50 145.66,178.50 145.77,178.50 145.87,178.50 145.98,178.50 146.09,178.50 146.20,178.50 146.31,178.50 146.41,178.50 146.52,178.50 146.63,178.50 146.74,178.50 146.85,178.50 146.95,178.50 147.06,178.50 147.17,178.50 147.28,178.50 147.39,178.50 147.49,178.50 147.60,178.50 147.71,178.50 147.82,178.50 147.93,178.50 148.04,178.50 148.14,178.50 148.25,178.50 148.36,178.50 148.47,178.50 148.58,178.50 148.68,178.50 148.79,178.50 148.90,178.50 149.01,178.50 149.12,178.50 149.22,178.50 149.33,178.50 149.44,178.50 149.55,178.50 149.66,178.50 149.76,178.50 149.87,178.50 149.98,178.50 150.09,178.50 150.20,178.50 150.30,178.50 150.41,178.50 150.52,178.50 150.63,178.50 150.74,178.50 150.84,178.50 150.95,178.50 151.06,178.50 151.17,178.50 151.28,178.50 151.38,178.50 151.49,178.50 151.60,178.50 151.71,178.50 151.82,178.50 151.92,178.50 152.03,178.50 152.14,178.50 152.25,178.50 152.36,178.50 152.47,178.50 152.57,178.50 152.68,178.50 152.79,178.50 152.90,178.50 153.01,178.50 153.11,178.50 153.22,178.50 153.33,178.50 153.44,178.50 153.55,178.50 153.65,178.50 153.76,178.50 153.87,178.50 153.98,178.50 154.09,178.50 154.19,178.50 154.30,178.50 154.41,178.50 154.52,178.50 154.63,178.50 154.73,178.50 154.84,178.50 154.95,178.50 155.06,178.50 155.17,178.50 155.27,178.50 155.38,178.50 155.49,178.50 155.60,178.50 155.71,178.50 155.81,178.50 155.92,178.50 156.03,178.50 156.14,178.50 156.25,178.50 156.36,178.50 156.46,178.50 156.57,178.50 156.68,178.50 156.79,178.50 156.90,178.50 157.00,178.50 157.11,178.50 157.22,178.50 157.33,178.50 157.44,178.50 157.54,178.50 157.65,178.50 157.76,178.50 157.87,178.50 157.98,178.50 158.08,178.50 158.19,178.50 158.30,178.50 158.41,178.50 158.52,178.50 158.62,178.50 158.73,178.50 158.84,178.50 158.95,178.50 159.06,178.50 159.16,178.50 159.27,178.50 159.38,178.50 159.49,178.50 159.60,178.50 159.70,178.50 159.81,178.50 159.92,178.50 160.03,178.50 160.14,178.50 160.24,178.50 160.35,178.50 160.46,178.50 160.57,178.50 160.68,178.50 160.79,178.50 160.89,178.50 161.00,178.50 161.11,178.50 161.22,178.50 161.33,178.50 161.43,178.50 161.54,178.50 161.65,178.50 161.76,178.50 161.87,178.50 161.97,178.50 162.08,178.50 162.19,178.50 162.30,178.50 162.41,178.50 162.51,178.50 162.62,178.50 162.73,178.50 162.84,178.50 162.95,178.50 163.05,178.50 163.16,178.50 163.27,178.50 163.38,178.50 163.49,178.50 163.59,178.50 163.70,178.50 163.81,178.50 163.92,178.50 164.03,178.50 164.13,178.50 164.24,178.50 164.35,178.50 164.46,178.50 164.57,178.50 164.67,178.50 164.78,178.50 164.89,178.50 165.00,178.50 165.11,178.50 165.22,178.50 165.32,178.50 165.43,178.50 165.54,178.50 165.65,178.50 165.76,178.50 165.86,178.50 165.97,178.50 166.08,178.50 166.19,178.50 166.30,178.50 166.40,178.50 166.51,178.50 166.62,178.50 166.73,178.50 166.84,178.50 166.94,178.50 167.05,178.50 167.16,178.50 167.27,178.50 167.38,178.50 167.48,178.50 167.59,178.50 167.70,178.50 167.81,178.50 167.92,178.50 168.02,178.50 168.13,178.50 168.24,178.50 168.35,178.50 168.46,178.50 168.56,178.50 168.67,178.50 168.78,178.50 168.89,178.50 169.00,178.50 169.10,178.50 169.21,178.50 169.32,178.50 169.43,178.50 169.54,178.50 169.65,178.50 169.75,178.50 169.86,178.50 169.97,178.50 170.08,178.50 170.19,178.50 170.29,178.50 170.40,178.50 170.51,178.50 170.62,178.50 170.73,178.50 170.83,178.50 170.94,178.50 171.05,178.50 171.16,178.50 171.27,178.50 171.37,178.50 171.48,178.50 171.59,178.50 171.70,178.50 171.81,178.50 171.91,178.50 172.02,178.50 172.13,178.50 172.24,178.50 172.35,178.50 172.45,178.50 172.56,178.50 172.67,178.50 172.78,178.50 172.89,178.50 172.99,178.50 173.10,178.50 173.21,178.50 173.32,178.50 173.43,178.50 173.53,178.50 173.64,178.50 173.75,178.50 173.86,178.50 173.97,178.50 174.08,178.50 174.18,178.50 174.29,178.50 174.40,178.50 174.51,178.50 174.62,178.50 174.72,178.50 174.83,178.50 174.94,178.50 175.05,178.50 175.16,178.50 175.26,178.50 175.37,178.50 175.48,178.50 175.59,178.50 175.70,178.50 175.80,178.50 175.91,178.50 176.02,178.50 176.13,178.50 176.24,178.50 176.34,178.50 176.45,178.50 176.56,178.50 176.67,178.50 176.78,178.50 176.88,178.50 176.99,178.50 177.10,178.50 177.21,178.50 177.32,178.50 177.42,178.50 177.53,178.50 177.64,178.50 177.75,178.50 177.86,178.50 177.97,178.50 178.07,178.50 178.18,178.50 178.29,178.50 178.40,178.50 178.51,178.50 178.61,178.50 178.72,178.50 178.83,178.50 178.94,178.50 179.05,178.50 179.15,178.50 179.26,178.50 179.37,178.50 179.48,178.50 179.59,178.50 179.69,178.50 179.80,178.50 179.91,178.50 180.02,178.50 180.13,178.50 180.23,178.50 180.34,178.50 180.45,178.50 180.56,178.50 180.67,178.50 180.77,178.50 180.88,178.50 180.99,178.50 181.10,178.50 181.21,178.50 181.31,178.50 181.42,178.50 181.53,178.50 181.64,178.50 181.75,178.50 181.85,178.50 181.96,178.50 182.07,178.50 182.18,178.50 182.29,178.50 182.40,178.50 182.50,178.50 182.61,178.50 182.72,178.50 182.83,178.50 182.94,178.50 183.04,178.50 183.15,178.50 183.26,178.50 183.37,178.50 183.48,178.50 183.58,178.50 183.69,178.50 183.80,178.50 183.91,178.50 184.02,178.50 184.12,178.50 184.23,178.50 184.34,178.50 184.45,178.50 184.56,178.50 184.66,178.50 184.77,178.50 184.88,178.50 184.99,178.50 185.10,178.50 185.20,178.50 185.31,178.50 185.42,178.50 185.53,178.50 185.64,178.50 185.74,178.50 185.85,178.50 185.96,178.50 186.07,178.50 186.18,178.50 186.28,178.50 186.39,178.50 186.50,178.50 186.61,178.50 186.72,178.50 186.83,178.50 186.93,178.50 187.04,178.50 187.15,178.50 187.26,178.50 187.37,178.50 187.47,178.50 187.58,178.50 187.69,178.50 187.80,178.50 187.91,178.50 188.01,178.50 188.12,178.50 188.23,178.50 188.34,178.50 188.45,178.50 188.55,178.50 188.66,178.50 188.77,178.50 188.88,178.50 188.99,178.50 189.09,178.50 189.20,178.50 189.31,178.50 189.42,178.50 189.53,178.50 189.63,178.50 189.74,178.50 189.85,178.50 189.96,178.50 190.07,178.50 190.17,178.50 190.28,178.50 190.39,178.50 190.50,178.50 190.61,178.50 190.71,178.50 190.82,178.50 190.93,178.50 191.04,178.50 191.15,178.50 191.26,178.50 191.36,178.50 191.47,178.50 191.58,178.50 191.69,178.50 191.80,178.50 191.90,178.50 192.01,178.50 192.12,178.50 192.23,178.50 192.34,178.50 192.44,178.50 192.55,178.50 192.66,178.50 192.77,178.50 192.88,178.50 192.98,178.50 193.09,178.50 193.20,178.50 193.31,178.50 193.42,178.50 193.52,178.50 193.63,178.50 193.74,178.50 193.85,178.50 193.96,178.50 194.06,178.50 194.17,178.50 194.28,178.50 194.39,178.50 194.50,178.50 194.60,178.50 194.71,178.50 194.82,178.50 194.93,178.50 195.04,178.50 195.14,178.50 195.25,178.50 195.36,178.50 195.47,178.50 195.58,178.50 195.69,178.50 195.79,178.50 195.90,178.50 196.01,178.50 196.12,178.50 196.23,178.50 196.33,178.50 196.44,178.50 196.55,178.50 196.66,178.50 196.77,178.50 196.87,178.50 196.98,178.50 197.09,178.50 197.20,178.50 197.31,178.50 197.41,178.50 197.52,178.50 197.63,178.50 197.74,178.50 197.85,178.50 197.95,178.50 198.06,178.50 198.17,178.50 198.28,178.50 198.39,178.50 198.49,178.50 198.60,178.50 198.71,178.50 198.82,178.50 198.93,178.50 199.03,178.50 199.14,178.50 199.25,178.50 199.36,178.50 199.47,178.50 199.57,178.50 199.68,178.50 199.79,178.50 199.90,178.50 200.01,178.50 200.12,178.50 200.22,178.50 200.33,178.50 200.44,178.50 200.55,178.50 200.66,178.50 200.76,178.50 200.87,178.50 200.98,178.50 201.09,178.50 201.20,178.50 201.30,178.50 201.41,178.50 201.52,178.50 201.63,178.50 201.74,178.50 201.84,178.50 201.95,178.50 202.06,178.50 202.17,178.50 202.28,178.50 202.38,178.50 202.49,178.50 202.60,178.50 202.71,178.50 202.82,178.50 202.92,178.50 203.03,178.50 203.14,178.50 203.25,178.50 203.36,178.50 203.46,178.50 203.57,178.50 203.68,178.50 203.79,178.50 203.90,178.50 204.01,178.50 204.11,178.50 204.22,178.50 204.33,178.50 204.44,178.50 204.55,178.50 204.65,178.50 204.76,178.50 204.87,178.50 204.98,178.50 205.09,178.50 205.19,178.50 205.30,178.50 205.41,178.50 205.52,178.50 205.63,178.50 205.73,178.50 205.84,178.50 205.95,178.50 206.06,178.50 206.17,178.50 206.27,178.50 206.38,178.50 206.49,178.50 206.60,178.50 206.71,178.50 206.81,178.50 206.92,178.50 207.03,178.50 207.14,178.50 207.25,178.50 207.35,178.50 207.46,178.50 207.57,178.50 207.68,178.50 207.79,178.50 207.89,178.50 208.00,178.50 208.11,178.50 208.22,178.50 208.33,178.50 208.44,178.50 208.54,178.50 208.65,178.50 208.76,178.50 208.87,178.50 208.98,178.50 209.08,178.50 209.19,178.50 209.30,178.50 209.41,178.50 209.52,178.50 209.62,178.50 209.73,178.50 209.84,178.50 209.95,178.50 210.06,178.50 210.16,178.50 210.27,178.50 210.38,178.50 210.49,178.50 210.60,178.50 210.70,178.50 210.81,178.50 210.92,178.50 211.03,178.50 211.14,178.50 211.24,178.50 211.35,178.50 211.46,178.50 211.57,178.50 211.68,178.50 211.78,178.50 211.89,178.50 212.00,178.50 212.11,178.50 212.22,178.50 212.32,178.50 212.43,178.50 212.54,178.50 212.65,178.50 212.76,178.50 212.87,178.50 212.97,178.50 213.08,178.50 213.19,178.50 213.30,178.50 213.41,178.50 213.51,178.50 213.62,178.50 213.73,178.50 213.84,178.50 213.95,178.50 214.05,178.50 214.16,178.50 214.27,178.50 214.38,178.50 214.49,178.50 214.59,178.50 214.70,178.50 214.81,178.50 214.92,178.50 215.03,178.50 215.13,178.50 215.24,178.50 215.35,178.50 215.46,178.50 215.57,178.50 215.67,178.50 215.78,178.50 215.89,178.50 216.00,178.50 216.11,178.50 216.21,178.50 216.32,178.50 216.43,178.50 216.54,178.50 216.65,178.50 216.75,178.50 216.86,178.50 216.97,178.50 217.08,178.50 217.19,178.50 217.30,178.50 217.40,178.50 217.51,178.50 217.62,178.50 217.73,178.50 217.84,178.50 217.94,178.50 218.05,178.50 218.16,178.50 218.27,178.50 218.38,178.50 218.48,178.50 218.59,178.50 218.70,178.50 218.81,178.50 218.92,178.50 219.02,178.50 219.13,178.50 219.24,178.50 219.35,178.50 219.46,178.50 219.56,178.50 219.67,178.50 219.78,178.50 219.89,178.50 220.00,178.50 220.10,178.50 220.21,178.50 220.32,178.50 220.43,178.50 220.54,178.50 220.64,178.50 220.75,178.50 220.86,178.50 220.97,178.50 221.08,178.50 221.19,178.50 221.29,178.50 221.40,178.50 221.51,178.50 221.62,178.50 221.73,178.50 221.83,178.50 221.94,178.50 222.05,178.50 222.16,178.50 222.27,178.50 222.37,178.50 222.48,178.50 222.59,178.50 222.70,178.50 222.81,178.50 222.91,178.50 223.02,178.50 223.13,178.50 223.24,178.50 223.35,178.50 223.45,178.50 223.56,178.50 223.67,178.50 223.78,178.50 223.89,178.50 223.99,178.50 224.10,178.50 224.21,178.50 224.32,178.50 224.43,178.50 224.53,178.50 224.64,178.50 224.75,178.50 224.86,178.50 224.97,178.50 225.07,178.50 225.18,178.50 225.29,178.50 225.40,178.50 225.51,178.50 225.62,178.50 225.72,178.50 225.83,178.50 225.94,178.50 226.05,178.50 226.16,178.50 226.26,178.50 226.37,178.50 226.48,178.50 226.59,178.50 226.70,178.50 226.80,178.50 226.91,178.50 227.02,178.50 227.13,178.50 227.24,178.50 227.34,178.50 227.45,178.50 227.56,178.50 227.67,178.50 227.78,178.50 227.88,178.50 227.99,178.50 228.10,178.50 228.21,178.50 228.32,178.50 228.42,178.50 228.53,178.50 228.64,178.50 228.75,178.50 228.86,178.50 228.96,178.50 229.07,178.50 229.18,178.50 229.29,178.50 229.40,178.50 229.50,178.50 229.61,178.50 229.72,178.50 229.83,178.50 229.94,178.50 230.05,178.50 230.15,178.50 230.26,178.50 230.37,178.50 230.48,178.50 230.59,178.50 230.69,178.50 230.80,178.50 230.91,178.50 231.02,178.50 231.13,178.50 231.23,178.50 231.34,178.50 231.45,178.50 231.56,178.50 231.67,178.50 231.77,178.50 231.88,178.50 231.99,178.50 232.10,178.50 232.21,178.50 232.31,178.50 232.42,178.50 232.53,178.50 232.64,178.50 232.75,178.50 232.85,178.50 232.96,178.50 233.07,178.50 233.18,178.50 233.29,178.50 233.39,178.50 233.50,178.50 233.61,178.50 233.72,178.50 233.83,178.50 233.93,178.50 234.04,178.50 234.15,178.50 234.26,178.50 234.37,178.50 234.48,178.50 234.58,178.50 234.69,178.50 234.80,178.50 234.91,178.50 235.02,178.50 235.12,178.50 235.23,178.50 235.34,178.50 235.45,178.50 235.56,178.50 235.66,178.50 235.77,178.50 235.88,178.50 235.99,178.50 236.10,178.50 236.20,178.50 236.31,178.50 236.42,178.50 236.53,178.50 236.64,178.50 236.74,178.50 236.85,178.50 236.96,178.50 237.07,178.50 237.18,178.50 237.28,178.50 237.39,178.50 237.50,178.50 237.61,178.50 237.72,178.50 237.82,178.50 237.93,178.50 238.04,178.50 238.15,178.50 238.26,178.50 238.36,178.50 238.47,178.50 238.58,178.50 238.69,178.50 238.80,178.50 238.91,178.50 239.01,178.50 239.12,178.50 239.23,178.50 239.34,178.50 239.45,178.50 239.55,178.50 239.66,178.50 239.77,178.50 239.88,178.50 239.99,178.50 240.09,178.50 240.20,178.50 240.31,178.50 240.42,178.50 240.53,178.50 240.63,178.50 240.74,178.50 240.85,178.50 240.96,178.50 241.07,178.50 241.17,178.50 241.28,178.50 241.39,178.50 241.50,178.50 241.61,178.50 241.71,178.50 241.82,178.50 241.93,178.50 242.04,178.50 242.15,178.50 242.25,178.50 242.36,178.50 242.47,178.50 242.58,178.50 242.69,178.50 242.80,178.50 242.90,178.50 243.01,178.50 243.12,178.50 243.23,178.50 243.34,178.50 243.44,178.50 243.55,178.50 243.66,178.50 243.77,178.50 243.88,178.50 243.98,178.50 244.09,178.50 244.20,178.50 244.31,178.50 244.42,178.50 244.52,178.50 244.63,178.50 244.74,178.50 244.85,178.50 244.96,178.50 245.06,178.50 245.17,178.50 245.28,178.50 245.39,178.50 245.50,178.50 245.60,178.50 245.71,178.50 245.82,178.50 245.93,178.50 246.04,178.50 246.14,178.50 246.25,178.50 246.36,178.50 246.47,178.50 246.58,178.50 246.68,178.50 246.79,178.50 246.90,178.50 247.01,178.50 247.12,178.50 247.23,178.50 247.33,178.50 247.44,178.50 247.55,178.50 247.66,178.50 247.77,178.50 247.87,178.50 247.98,178.50 248.09,178.50 248.20,178.50 248.31,178.50 248.41,178.50 248.52,178.50 248.63,178.50 248.74,178.50 248.85,178.50 248.95,178.50 249.06,178.50 249.17,178.50 249.28,178.50 249.39,178.50 249.49,178.50 249.60,178.50 249.71,178.50 249.82,178.50 249.93,178.50 250.03,178.50 250.14,178.50 250.25,178.50 250.36,178.50 250.47,178.50 250.57,178.50 250.68,178.50 250.79,178.50 250.90,178.50 251.01,178.50 251.11,178.50 251.22,178.50 251.33,178.50 251.44,178.50 251.55,178.50 251.66,178.50 251.76,178.50 251.87,178.50 251.98,178.50 252.09,178.50 252.20,178.50 252.30,178.50 252.41,178.50 252.52,178.50 252.63,178.50 252.74,178.50 252.84,178.50 252.95,178.50 253.06,178.50 253.17,178.50 253.28,178.50 253.38,178.50 253.49,178.50 253.60,178.50" fill="none" stroke="#5aa5dc" stroke-width="0.7" stroke-linejoin="round" />
<path d="M231.50 178.5V149.5" stroke="#2f80c4" stroke-width="0.65"/>
<path d="M227.2 178.5Q229.5 178.2 231.5 176.8Q233.5 178.2 235.8 178.5Q233.5 178.9 231.5 179.6Q229.5 178.9 227.2 178.5Z" fill="#1f6fb5"/>
<rect x="37.5" y="23.4" width="216.1" height="30.6" fill="none" stroke="#b8b8b8" stroke-width="1"/>
<path d="M37.5 54v-2.2M37.5 23.4v2.2M80.72 54v-2.2M80.72 23.4v2.2M123.94 54v-2.2M123.94 23.4v2.2M167.16 54v-2.2M167.16 23.4v2.2M210.38 54v-2.2M210.38 23.4v2.2M253.6 54v-2.2M253.6 23.4v2.2M37.5 52.8h2.2M253.6 52.8h-2.2M37.5 38.7h2.2M253.6 38.7h-2.2M37.5 24.6h2.2M253.6 24.6h-2.2" stroke="#b8b8b8" stroke-width="0.8" fill="none"/>
<text x="33.50" y="57.00" text-anchor="end" font-size="9">-1</text>
<text x="33.50" y="42.90" text-anchor="end" font-size="9">0</text>
<text x="33.50" y="28.80" text-anchor="end" font-size="9">1</text>
<text x="37.50" y="65.40" text-anchor="middle" font-size="9">0</text>
<text x="80.72" y="65.40" text-anchor="middle" font-size="9">0.2</text>
<text x="123.94" y="65.40" text-anchor="middle" font-size="9">0.4</text>
<text x="167.16" y="65.40" text-anchor="middle" font-size="9">0.6</text>
<text x="210.38" y="65.40" text-anchor="middle" font-size="9">0.8</text>
<text x="253.60" y="65.40" text-anchor="middle" font-size="9">1</text>
<text x="145.55" y="77.50" text-anchor="middle" font-size="10.25">Time/s</text>
<text transform="translate(21.6 38.70) rotate(-90)" text-anchor="middle" font-size="10.25">Amplitude/g</text>
<rect x="37.5" y="86.5" width="216.1" height="30" fill="none" stroke="#b8b8b8" stroke-width="1"/>
<path d="M37.5 116.5v-2.2M37.5 86.5v2.2M80.72 116.5v-2.2M80.72 86.5v2.2M123.94 116.5v-2.2M123.94 86.5v2.2M167.16 116.5v-2.2M167.16 86.5v2.2M210.38 116.5v-2.2M210.38 86.5v2.2M253.6 116.5v-2.2M253.6 86.5v2.2M37.5 115.6h2.2M253.6 115.6h-2.2M37.5 101.5h2.2M253.6 101.5h-2.2M37.5 87.4h2.2M253.6 87.4h-2.2" stroke="#b8b8b8" stroke-width="0.8" fill="none"/>
<text x="33.50" y="119.80" text-anchor="end" font-size="9">-1</text>
<text x="33.50" y="105.70" text-anchor="end" font-size="9">0</text>
<text x="33.50" y="91.60" text-anchor="end" font-size="9">1</text>
<text x="37.50" y="127.90" text-anchor="middle" font-size="9">0</text>
<text x="80.72" y="127.90" text-anchor="middle" font-size="9">0.2</text>
<text x="123.94" y="127.90" text-anchor="middle" font-size="9">0.4</text>
<text x="167.16" y="127.90" text-anchor="middle" font-size="9">0.6</text>
<text x="210.38" y="127.90" text-anchor="middle" font-size="9">0.8</text>
<text x="253.60" y="127.90" text-anchor="middle" font-size="9">1</text>
<text x="145.55" y="140.50" text-anchor="middle" font-size="10.25">Time/s</text>
<text transform="translate(21.6 101.50) rotate(-90)" text-anchor="middle" font-size="10.25">Amplitude/g</text>
<rect x="37.5" y="149.5" width="216.1" height="30" fill="none" stroke="#b8b8b8" stroke-width="1"/>
<path d="M37.5 179.5v-2.2M37.5 149.5v2.2M80.72 179.5v-2.2M80.72 149.5v2.2M123.94 179.5v-2.2M123.94 149.5v2.2M167.16 179.5v-2.2M167.16 149.5v2.2M210.38 179.5v-2.2M210.38 149.5v2.2M253.6 179.5v-2.2M253.6 149.5v2.2M37.5 178.5h2.2M253.6 178.5h-2.2M37.5 169h2.2M253.6 169h-2.2M37.5 159.5h2.2M253.6 159.5h-2.2M37.5 150h2.2M253.6 150h-2.2" stroke="#b8b8b8" stroke-width="0.8" fill="none"/>
<text x="33.50" y="182.10" text-anchor="end" font-size="9">0</text>
<text x="33.50" y="172.60" text-anchor="end" font-size="9">5</text>
<text x="33.50" y="163.10" text-anchor="end" font-size="9">10</text>
<text x="33.50" y="153.60" text-anchor="end" font-size="9">15</text>
<text x="37.50" y="190.90" text-anchor="middle" font-size="9">0</text>
<text x="80.72" y="190.90" text-anchor="middle" font-size="9">0.2</text>
<text x="123.94" y="190.90" text-anchor="middle" font-size="9">0.4</text>
<text x="167.16" y="190.90" text-anchor="middle" font-size="9">0.6</text>
<text x="210.38" y="190.90" text-anchor="middle" font-size="9">0.8</text>
<text x="253.60" y="190.90" text-anchor="middle" font-size="9">1</text>
<text x="145.55" y="203.50" text-anchor="middle" font-size="10.25">Time/s</text>
<text transform="translate(21.6 164.50) rotate(-90)" text-anchor="middle" font-size="10.25">Amplitude/g</text>
<clipPath id="cpR"><rect x="323.6" y="18.5" width="214.20" height="165.20"/></clipPath>
<g clip-path="url(#cpR)">
<polyline points="323.60,147.34 323.87,143.41 325.40,129.22 326.93,143.41 328.45,157.59 329.98,143.41 331.50,129.22 333.03,143.41 334.56,157.59 336.08,143.41 337.61,129.22 339.13,143.41 340.66,157.59 342.19,143.41 343.71,129.22 345.24,143.41 346.76,157.59 348.29,143.41 349.82,129.22 351.34,143.41 352.87,157.59 354.39,143.41 355.92,129.22 357.45,143.41 358.97,157.59 360.50,143.41 362.03,129.22 363.55,143.41 365.08,157.59 366.60,143.41 368.13,129.22 369.66,143.41 371.18,157.59 372.71,143.41 374.23,129.22 375.76,143.41 377.29,157.59 378.81,143.41 380.34,129.22 381.86,143.41 383.39,157.59 384.92,143.41 386.44,129.22 387.97,143.41 389.49,157.59 391.02,143.41 392.55,129.22 394.07,143.41 395.60,157.59 397.12,143.41 398.65,129.22 400.18,143.41 401.70,157.59 403.23,143.41 404.76,129.22 406.28,143.41 407.81,157.59 409.33,143.41 410.86,129.22 412.39,143.41 413.91,157.59 415.44,143.41 416.96,129.22 418.49,143.41 420.02,157.59 421.54,143.41 423.07,129.22 424.59,143.41 426.12,157.59 427.65,143.41 429.17,129.22 430.70,143.41 432.22,157.59 433.75,143.41 435.28,129.22 436.80,143.41 438.33,157.59 439.85,143.41 441.38,129.22 442.91,143.41 444.43,157.59 445.96,143.41 447.49,129.22 449.01,143.41 450.54,157.59 452.06,143.41 453.59,129.22 455.12,143.41 456.64,157.59 458.17,143.41 459.69,129.22 461.22,143.41 462.75,157.59 464.27,143.41 465.80,129.22 467.32,143.41 468.85,157.59 470.38,143.41 471.90,129.22 473.43,143.41 474.95,157.59 476.48,143.41 478.01,129.22 479.53,143.41 481.06,157.59 482.59,143.41 484.11,129.22 485.64,143.41 487.16,157.59 488.69,143.41 490.22,129.22 491.74,143.41 491.92,143.41 491.95,143.76 491.98,143.80 492.01,143.84 492.04,143.89 492.07,143.94 492.10,143.99 492.13,144.04 492.16,144.10 492.19,144.16 492.22,144.22 492.26,144.28 492.29,144.35 492.32,144.42 492.35,144.49 492.38,144.57 492.41,144.64 492.44,144.72 492.47,144.80 492.50,144.87 492.53,144.95 492.56,145.03 492.59,145.11 492.62,145.18 492.65,145.25 492.68,145.33 492.71,145.39 492.74,145.46 492.78,145.52 492.81,145.57 492.84,145.63 492.87,145.67 492.90,145.71 492.93,145.75 492.96,145.78 492.99,145.80 493.02,145.81 493.05,145.82 493.08,145.82 493.11,145.82 493.14,145.81 493.17,145.79 493.20,145.76 493.23,145.73 493.27,145.69 493.30,145.65 493.33,145.60 493.36,145.54 493.39,145.48 493.42,145.42 493.45,145.35 493.48,145.28 493.51,145.20 493.54,145.12 493.57,145.04 493.60,144.95 493.63,144.86 493.66,144.77 493.69,144.68 493.72,144.59 493.75,144.49 493.79,144.40 493.82,144.30 493.85,144.20 493.88,144.11 493.91,144.01 493.94,143.91 493.97,143.81 494.00,143.71 494.03,143.61 494.06,143.52 494.09,143.42 494.12,143.33 494.15,143.24 494.18,143.15 494.21,143.07 494.24,142.99 494.28,142.91 494.31,142.84 494.34,142.78 494.37,142.72 494.40,142.67 494.43,142.63 494.46,142.59 494.49,142.56 494.52,142.54 494.55,142.53 494.58,142.53 494.61,142.53 494.64,142.54 494.67,142.56 494.70,142.58 494.73,142.61 494.76,142.64 494.80,142.68 494.83,142.72 494.86,142.76 494.89,142.81 494.92,142.85 494.95,142.90 494.98,142.95 495.01,142.99 495.04,143.04 495.07,143.08 495.10,143.13 495.13,143.17 495.16,143.21 495.19,143.25 495.22,143.29 495.25,143.32 495.29,143.36 495.32,143.40 495.35,143.43 495.38,143.47 495.41,143.50 495.44,143.54 495.47,143.57 495.50,143.60 495.53,143.64 495.56,143.67 495.59,143.69 495.62,143.72 495.65,143.74 495.68,143.76 495.71,143.78 495.74,143.79 495.77,143.80 495.81,143.81 495.84,143.81 495.87,143.80 495.90,143.79 495.93,143.78 495.96,143.77 495.99,143.75 496.02,143.73 496.05,143.71 496.08,143.68 496.11,143.66 496.14,143.63 496.17,143.61 496.20,143.59 496.23,143.56 496.26,143.54 496.30,143.52 496.33,143.51 496.36,143.49 496.39,143.48 496.42,143.46 496.45,143.45 496.48,143.44 496.51,143.44 496.54,143.43 496.57,143.43 496.60,143.42 496.63,143.42 496.66,143.42" fill="none" stroke="#0000ff" stroke-width="0.9" stroke-linejoin="round" />
<polyline points="491.74,143.41 491.92,143.41 491.95,143.76 491.98,143.80 492.01,143.84 492.04,143.89 492.07,143.94 492.10,143.99 492.13,144.04 492.16,144.10 492.19,144.16 492.22,144.22 492.26,144.28 492.29,144.35 492.32,144.42 492.35,144.49 492.38,144.57 492.41,144.64 492.44,144.72 492.47,144.80 492.50,144.87 492.53,144.95 492.56,145.03 492.59,145.11 492.62,145.18 492.65,145.25 492.68,145.33 492.71,145.39 492.74,145.46 492.78,145.52 492.81,145.57 492.84,145.63 492.87,145.67 492.90,145.71 492.93,145.75 492.96,145.78 492.99,145.80 493.02,145.81 493.05,145.82 493.08,145.82 493.11,145.82 493.14,145.81 493.17,145.79 493.20,145.76 493.23,145.73 493.27,145.69 493.30,145.65 493.33,145.60 493.36,145.54 493.39,145.48 493.42,145.42 493.45,145.35 493.48,145.28 493.51,145.20 493.54,145.12 493.57,145.04 493.60,144.95 493.63,144.86 493.66,144.77 493.69,144.68 493.72,144.59 493.75,144.49 493.79,144.40 493.82,144.30 493.85,144.20 493.88,144.11 493.91,144.01 493.94,143.91 493.97,143.81 494.00,143.71 494.03,143.61 494.06,143.52 494.09,143.42 494.12,143.33 494.15,143.24 494.18,143.15 494.21,143.07 494.24,142.99 494.28,142.91 494.31,142.84 494.34,142.78 494.37,142.72 494.40,142.67 494.43,142.63 494.46,142.59 494.49,142.56 494.52,142.54 494.55,142.53 494.58,142.53 494.61,142.53 494.64,142.54 494.67,142.56 494.70,142.58 494.73,142.61 494.76,142.64 494.80,142.68 494.83,142.72 494.86,142.76 494.89,142.81 494.92,142.85 494.95,142.90 494.98,142.95 495.01,142.99 495.04,143.04 495.07,143.08 495.10,143.13 495.13,143.17 495.16,143.21 495.19,143.25 495.22,143.29 495.25,143.32 495.29,143.36 495.32,143.40 495.35,143.43 495.38,143.47 495.41,143.50 495.44,143.54 495.47,143.57 495.50,143.60 495.53,143.64 495.56,143.67 495.59,143.69 495.62,143.72 495.65,143.74 495.68,143.76 495.71,143.78 495.74,143.79 495.77,143.80 495.81,143.81 495.84,143.81 495.87,143.80 495.90,143.79 495.93,143.78 495.96,143.77 495.99,143.75 496.02,143.73 496.05,143.71 496.08,143.68 496.11,143.66 496.14,143.63 496.17,143.61 496.20,143.59 496.23,143.56" fill="none" stroke="#1010ff" stroke-width="1.5" stroke-linejoin="round" />
<polyline points="509.98,143.41 510.01,143.41 510.04,143.41 510.07,143.41 510.10,143.41 510.13,143.41 510.16,143.41 510.19,143.41 510.22,143.41 510.25,143.41 510.28,143.41 510.31,143.41 510.34,143.41 510.38,143.41 510.41,143.41 510.44,143.41 510.47,143.41 510.50,143.41 510.53,143.41 510.56,143.41 510.59,143.41 510.62,143.41 510.65,143.41 510.68,143.41 510.71,143.41 510.74,143.41 510.77,143.41 510.80,143.41 510.83,143.41 510.86,143.41 510.90,143.41 510.93,143.41 510.96,143.41 510.99,143.41 511.02,143.41 511.05,143.41 511.08,143.41 511.11,143.41 511.14,143.41 511.17,143.41 511.20,143.41 511.23,143.41 511.26,143.41 511.29,143.41 511.32,143.41 511.35,143.41 511.39,143.41 511.42,143.40 511.45,143.41 511.48,143.41 511.51,143.41 511.54,143.41 511.57,143.41 511.60,143.41 511.63,143.41 511.66,143.41 511.69,143.41 511.72,143.41 511.75,143.41 511.78,143.41 511.81,143.41 511.84,143.40 511.87,143.40 511.91,143.40 511.94,143.40 511.97,143.40 512.00,143.40 512.03,143.40 512.06,143.41 512.09,143.42 512.12,143.42 512.15,143.42 512.18,143.43 512.21,143.43 512.24,143.42 512.27,143.42 512.30,143.41 512.33,143.40 512.36,143.39 512.40,143.38 512.43,143.37 512.46,143.37 512.49,143.38 512.52,143.39 512.55,143.40 512.58,143.42 512.61,143.44 512.64,143.46 512.67,143.47 512.70,143.47 512.73,143.47 512.76,143.45 512.79,143.42 512.82,143.39 512.85,143.36 512.88,143.33 512.92,143.30 512.95,143.29 512.98,143.30 513.01,143.32 513.04,143.36 513.07,143.41 513.10,143.47 513.13,143.53 513.16,143.57 513.19,143.59 513.22,143.59 513.25,143.56 513.28,143.51 513.31,143.43 513.34,143.33 513.37,143.24 513.41,143.17 513.44,143.12 513.47,143.10 513.50,143.14 513.53,143.22 513.56,143.33 513.59,143.47 513.62,143.62 513.65,143.75 513.68,143.84 513.71,143.87 513.74,143.84 513.77,143.74 513.80,143.58 513.83,143.38 513.86,143.16 513.90,142.96 513.93,142.80 513.96,142.72 513.99,142.74 514.02,142.85 514.05,143.06 514.08,143.34 514.11,143.66 514.14,143.96 514.17,144.21 514.20,144.36 514.23,144.38 514.26,144.26 514.29,144.00 514.32,143.63 514.35,143.20 514.38,142.77 514.42,142.40 514.45,142.15 514.48,142.07 514.51,142.17 514.54,142.47 514.57,142.93 514.60,143.48 514.63,144.07 514.66,144.60 514.69,144.98 514.72,145.16 514.75,145.10 514.78,144.78 514.81,144.25 514.84,143.56 514.87,142.80 514.91,142.09 514.94,141.54 514.97,141.22 515.00,141.21 515.03,141.51 515.06,142.11 515.09,142.92 515.12,143.85 515.15,144.75 515.18,145.50 515.21,145.98 515.24,146.12 515.27,145.86 515.30,145.24 515.33,144.33 515.36,143.25 515.39,142.16 515.43,141.20 515.46,140.52 515.49,140.24 515.52,140.40 515.55,141.00 515.58,141.96 515.61,143.16 515.64,144.43 515.67,145.59 515.70,146.46 515.73,146.92 515.76,146.89 515.79,146.37 515.82,145.40 515.85,144.14 515.88,142.74 515.92,141.41 515.95,140.35 515.98,139.70 516.01,139.57 516.04,139.98 516.07,140.89 516.10,142.16 516.13,143.62 516.16,145.07 516.19,146.29 516.22,147.11 516.25,147.42 516.28,147.15 516.31,146.36 516.34,145.15 516.37,143.69 516.40,142.19 516.44,140.86 516.47,139.90 516.50,139.43 516.53,139.52 516.56,140.16 516.59,141.25 516.62,142.64 516.65,144.12 516.68,145.49 516.71,146.55 516.74,147.15 516.77,147.23 516.80,146.76 516.83,145.84 516.86,144.59 516.89,143.20 516.93,141.86 516.96,140.76 516.99,140.06 517.02,139.84 517.05,140.13 517.08,140.86 517.11,141.93 517.14,143.18 517.17,144.42 517.20,145.49 517.23,146.24 517.26,146.57 517.29,146.45 517.32,145.91 517.35,145.04 517.38,143.98 517.41,142.87 517.45,141.88 517.48,141.15 517.51,140.75 517.54,140.74 517.57,141.10 517.60,141.76 517.63,142.62 517.66,143.55 517.69,144.42 517.72,145.11 517.75,145.53 517.78,145.63 517.81,145.43 517.84,144.95 517.87,144.29 517.90,143.54 517.94,142.81 517.97,142.21 518.00,141.80 518.03,141.64 518.06,141.74 518.09,142.05 518.12,142.54 518.15,143.11 518.18,143.69 518.21,144.19 518.24,144.55 518.27,144.73 518.30,144.72 518.33,144.53 518.36,144.19 518.39,143.77 518.43,143.34 518.46,142.94 518.49,142.64 518.52,142.46 518.55,142.43 518.58,142.53 518.61,142.75 518.64,143.04 518.67,143.36 518.70,143.65 518.73,143.89 518.76,144.05 518.79,144.10 518.82,144.05 518.85,143.92 518.88,143.73 518.91,143.52 518.95,143.30 518.98,143.12 519.01,143.00 519.04,142.94 519.07,142.96 519.10,143.03 519.13,143.15 519.16,143.29 519.19,143.43 519.22,143.56 519.25,143.65 519.28,143.70 519.31,143.71 519.34,143.67 519.37,143.60 519.40,143.52 519.44,143.42 519.47,143.34 519.50,143.27 519.53,143.23 519.56,143.22 519.59,143.23 519.62,143.27 519.65,143.32 519.68,143.38 519.71,143.43 519.74,143.48 519.77,143.51 519.80,143.52 519.83,143.52 519.86,143.50 519.89,143.47 519.92,143.44 519.96,143.40 519.99,143.37 520.02,143.35 520.05,143.34 520.08,143.34 520.11,143.35 520.14,143.37 520.17,143.39 520.20,143.40 520.23,143.42 520.26,143.43 520.29,143.44 520.32,143.44 520.35,143.44 520.38,143.43 520.41,143.42 520.45,143.41 520.48,143.40 520.51,143.39 520.54,143.39 520.57,143.39 520.60,143.39 520.63,143.39 520.66,143.40 520.69,143.40 520.72,143.41 520.75,143.41 520.78,143.42 520.81,143.42 520.84,143.42 520.87,143.42 520.90,143.41 520.93,143.41 520.97,143.41 521.00,143.41 521.03,143.40 521.06,143.40 521.09,143.40 521.12,143.40 521.15,143.40 521.18,143.41 521.21,143.41 521.24,143.41 521.27,143.41 521.30,143.41 521.33,143.41 521.36,143.41 521.39,143.41 521.42,143.41 521.46,143.41 521.49,143.41 521.52,143.41 521.55,143.41 521.58,143.41 521.61,143.41 521.64,143.41 521.67,143.41 521.70,143.41 521.73,143.41 521.76,143.41 521.79,143.41 521.82,143.41 521.85,143.41 521.88,143.41 521.91,143.41 521.94,143.41 521.98,143.41 522.01,143.41 522.04,143.41 522.07,143.41 522.10,143.41 522.13,143.41 522.16,143.41 522.19,143.41 522.22,143.41 522.25,143.41 522.28,143.41 522.31,143.41 522.34,143.41 522.37,143.41 522.40,143.41 522.43,143.41 522.47,143.41 522.50,143.41 522.53,143.41 522.56,143.41 522.59,143.41 522.62,143.41 522.65,143.41 522.68,143.41 522.71,143.41 522.74,143.41 522.77,143.41 522.80,143.41" fill="none" stroke="#0000ff" stroke-width="0.9" stroke-linejoin="round" />
<path d="M510.98 143.41C513.38 142.21 514.38 139.81 516.38 139.81C518.38 139.81 519.38 142.21 521.78 143.41C519.38 144.61 518.38 147.21 516.38 147.21C514.38 147.21 513.38 144.61 510.98 143.41Z" fill="#0a0aff"/>
<path d="M516.38 18.50V21.50" stroke="#6c6cff" stroke-width="1.2"/>
<polyline points="323.60,147.34 323.87,143.41 325.40,129.22 326.93,143.41 328.45,157.59 329.98,143.41 331.50,129.22 333.03,143.41 334.56,157.59 336.08,143.41 337.61,129.22 339.13,143.41 340.66,157.59 342.19,143.41 343.71,129.22 345.24,143.41 346.76,157.59 348.29,143.41 349.82,129.22 351.34,143.41 352.87,157.59 354.39,143.41 355.92,129.22 357.45,143.41 358.97,157.59 360.50,143.41 362.03,129.22 363.55,143.41 365.08,157.59 366.60,143.41 368.13,129.22 369.66,143.41 371.18,157.59 372.71,143.41 374.23,129.22 375.76,143.41 377.29,157.59 378.81,143.41 380.34,129.22 381.86,143.41 383.39,157.59 384.92,143.41 386.44,129.22 387.97,143.41 389.49,157.59 391.02,143.41 392.55,129.22 394.07,143.41 395.60,157.59 397.12,143.41 398.65,129.22 400.18,143.41 401.70,157.59 403.23,143.41 404.76,129.22 406.28,143.41 407.81,157.59 409.33,143.41 410.86,129.22 412.39,143.41 413.91,157.59 415.44,143.41 416.96,129.22 418.49,143.41 420.02,157.59 421.54,143.41 423.07,129.22 424.59,143.41 426.12,157.59 427.65,143.41 429.17,129.22 430.70,143.41 432.22,157.59 433.75,143.41 435.28,129.22 436.80,143.41 438.33,157.59 439.85,143.41 441.38,129.22 442.91,143.41 444.43,157.59 445.96,143.41 447.49,129.22 449.01,143.41 450.54,157.59 452.06,143.41 453.59,129.22 455.12,143.41 456.64,157.59 458.17,143.41 459.69,129.22 461.22,143.41 462.75,157.59 464.27,143.41 465.80,129.22 467.32,143.41 468.85,157.59 470.38,143.41 471.90,129.22 473.43,143.41 474.95,157.59 476.48,143.41 478.01,129.22 479.53,143.41 481.06,157.59 482.59,143.41 484.11,129.22 485.64,143.41 487.16,157.59 488.69,143.41 490.22,129.22 491.74,143.41 491.92,143.41" fill="none" stroke="#ff6a6a" stroke-width="2.1" stroke-linejoin="round" />
<polyline points="323.60,147.34 323.87,143.41 325.40,129.22 326.93,143.41 328.45,157.59 329.98,143.41 331.50,129.22 333.03,143.41 334.56,157.59 336.08,143.41 337.61,129.22 339.13,143.41 340.66,157.59 342.19,143.41 343.71,129.22 345.24,143.41 346.76,157.59 348.29,143.41 349.82,129.22 351.34,143.41 352.87,157.59 354.39,143.41 355.92,129.22 357.45,143.41 358.97,157.59 360.50,143.41 362.03,129.22 363.55,143.41 365.08,157.59 366.60,143.41 368.13,129.22 369.66,143.41 371.18,157.59 372.71,143.41 374.23,129.22 375.76,143.41 377.29,157.59 378.81,143.41 380.34,129.22 381.86,143.41 383.39,157.59 384.92,143.41 386.44,129.22 387.97,143.41 389.49,157.59 391.02,143.41 392.55,129.22 394.07,143.41 395.60,157.59 397.12,143.41 398.65,129.22 400.18,143.41 401.70,157.59 403.23,143.41 404.76,129.22 406.28,143.41 407.81,157.59 409.33,143.41 410.86,129.22 412.39,143.41 413.91,157.59 415.44,143.41 416.96,129.22 418.49,143.41 420.02,157.59 421.54,143.41 423.07,129.22 424.59,143.41 426.12,157.59 427.65,143.41 429.17,129.22 430.70,143.41 432.22,157.59 433.75,143.41 435.28,129.22 436.80,143.41 438.33,157.59 439.85,143.41 441.38,129.22 442.91,143.41 444.43,157.59 445.96,143.41 447.49,129.22 449.01,143.41 450.54,157.59 452.06,143.41 453.59,129.22 455.12,143.41 456.64,157.59 458.17,143.41 459.69,129.22 461.22,143.41 462.75,157.59 464.27,143.41 465.80,129.22 467.32,143.41 468.85,157.59 470.38,143.41 471.90,129.22 473.43,143.41 474.95,157.59 476.48,143.41 478.01,129.22 479.53,143.41 481.06,157.59 482.59,143.41 484.11,129.22 485.64,143.41 487.16,157.59 488.69,143.41 490.22,129.22 491.74,143.41 491.92,143.41" fill="none" stroke="#f00000" stroke-width="1.2" stroke-linejoin="round" />
<path d="M491.92 143.41H537.80" stroke="#ff5060" stroke-width="0.75"/>
<path d="M516.38 143.41V21.00" stroke="#f06a85" stroke-width="1.15"/>
</g>
<rect x="323.6" y="18.5" width="214.2" height="165.2" fill="none" stroke="#b8b8b8" stroke-width="1"/>
<path d="M323.6 183.7v-2.2M323.6 18.5v2.2M366.44 183.7v-2.2M366.44 18.5v2.2M409.28 183.7v-2.2M409.28 18.5v2.2M452.12 183.7v-2.2M452.12 18.5v2.2M494.96 183.7v-2.2M494.96 18.5v2.2M537.8 183.7v-2.2M537.8 18.5v2.2M323.6 183.7h2.2M537.8 183.7h-2.2M323.6 143.41h2.2M537.8 143.41h-2.2M323.6 103.11h2.2M537.8 103.11h-2.2M323.6 62.82h2.2M537.8 62.82h-2.2M323.6 22.53h2.2M537.8 22.53h-2.2" stroke="#b8b8b8" stroke-width="0.8" fill="none"/>
<text x="320.10" y="187.30" text-anchor="end" font-size="9">-5</text>
<text x="320.10" y="147.01" text-anchor="end" font-size="9">0</text>
<text x="320.10" y="106.71" text-anchor="end" font-size="9">5</text>
<text x="320.10" y="66.42" text-anchor="end" font-size="9">10</text>
<text x="320.10" y="26.13" text-anchor="end" font-size="9">15</text>
<text x="323.60" y="195.30" text-anchor="middle" font-size="9">0</text>
<text x="366.44" y="195.30" text-anchor="middle" font-size="9">0.2</text>
<text x="409.28" y="195.30" text-anchor="middle" font-size="9">0.4</text>
<text x="452.12" y="195.30" text-anchor="middle" font-size="9">0.6</text>
<text x="494.96" y="195.30" text-anchor="middle" font-size="9">0.8</text>
<text x="537.80" y="195.30" text-anchor="middle" font-size="9">1</text>
<text x="430.70" y="207.10" text-anchor="middle" font-size="10.25">Time/s</text>
<text transform="translate(307.6 101.10) rotate(-90)" text-anchor="middle" font-size="10.25">Amplitude/g</text>
<rect x="399.3" y="29.1" width="80.3" height="20.2" fill="#fff" stroke="#b8b8b8" stroke-width="0.8"/>
<path d="M401.5 34.3H420.5" stroke="#6a6aff" stroke-width="0.9"/>
<path d="M401.5 44H420.5" stroke="#ff7070" stroke-width="0.9"/>
<text x="422.8" y="37.5" font-size="8.2">Reconstruction</text>
<text x="422.8" y="46.6" font-size="8.2">noise-free signal</text>
<text x="151.1" y="241.8" text-anchor="middle" font-size="13">(<tspan font-weight="bold">a</tspan>)</text>
<text x="423.6" y="241.3" text-anchor="middle" font-size="13">(<tspan font-weight="bold">b</tspan>)</text>
</svg>
</body></html>
